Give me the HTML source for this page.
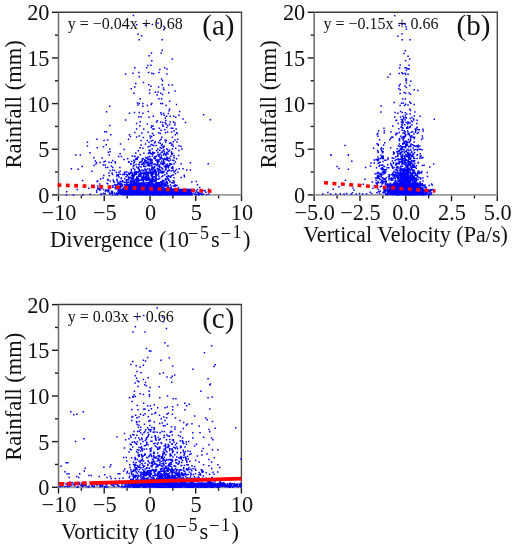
<!DOCTYPE html>
<html><head><meta charset="utf-8"><style>
html,body{margin:0;padding:0;background:#fff;}
svg{display:block;font-family:'Liberation Serif', 'DejaVu Serif', serif;}
</style></head><body>
<svg width="515" height="550" viewBox="0 0 515 550" fill="#111">
<line x1="52.00" y1="194.90" x2="58.50" y2="194.90" stroke="#1a1a1a" stroke-width="1.4"/>
<text x="49.50" y="203.00" font-size="22.3" text-anchor="end">0</text>
<line x1="52.00" y1="149.25" x2="58.50" y2="149.25" stroke="#1a1a1a" stroke-width="1.4"/>
<text x="49.50" y="157.35" font-size="22.3" text-anchor="end">5</text>
<line x1="52.00" y1="103.60" x2="58.50" y2="103.60" stroke="#1a1a1a" stroke-width="1.4"/>
<text x="49.50" y="111.70" font-size="22.3" text-anchor="end">10</text>
<line x1="52.00" y1="57.95" x2="58.50" y2="57.95" stroke="#1a1a1a" stroke-width="1.4"/>
<text x="49.50" y="66.05" font-size="22.3" text-anchor="end">15</text>
<line x1="52.00" y1="12.30" x2="58.50" y2="12.30" stroke="#1a1a1a" stroke-width="1.4"/>
<text x="49.50" y="20.40" font-size="22.3" text-anchor="end">20</text>
<line x1="55.00" y1="172.08" x2="58.50" y2="172.08" stroke="#1a1a1a" stroke-width="1.4"/>
<line x1="55.00" y1="126.43" x2="58.50" y2="126.43" stroke="#1a1a1a" stroke-width="1.4"/>
<line x1="55.00" y1="80.78" x2="58.50" y2="80.78" stroke="#1a1a1a" stroke-width="1.4"/>
<line x1="55.00" y1="35.12" x2="58.50" y2="35.12" stroke="#1a1a1a" stroke-width="1.4"/>
<line x1="58.50" y1="194.90" x2="58.50" y2="201.10" stroke="#1a1a1a" stroke-width="1.4"/>
<text x="59.00" y="219.60" font-size="22.3" text-anchor="middle">−10</text>
<line x1="104.25" y1="194.90" x2="104.25" y2="201.10" stroke="#1a1a1a" stroke-width="1.4"/>
<text x="104.75" y="219.60" font-size="22.3" text-anchor="middle">−5</text>
<line x1="150.00" y1="194.90" x2="150.00" y2="201.10" stroke="#1a1a1a" stroke-width="1.4"/>
<text x="150.50" y="219.60" font-size="22.3" text-anchor="middle">0</text>
<line x1="195.75" y1="194.90" x2="195.75" y2="201.10" stroke="#1a1a1a" stroke-width="1.4"/>
<text x="196.25" y="219.60" font-size="22.3" text-anchor="middle">5</text>
<line x1="241.50" y1="194.90" x2="241.50" y2="201.10" stroke="#1a1a1a" stroke-width="1.4"/>
<text x="242.00" y="219.60" font-size="22.3" text-anchor="middle">10</text>
<line x1="81.38" y1="194.90" x2="81.38" y2="198.40" stroke="#1a1a1a" stroke-width="1.4"/>
<line x1="127.12" y1="194.90" x2="127.12" y2="198.40" stroke="#1a1a1a" stroke-width="1.4"/>
<line x1="172.88" y1="194.90" x2="172.88" y2="198.40" stroke="#1a1a1a" stroke-width="1.4"/>
<line x1="218.62" y1="194.90" x2="218.62" y2="198.40" stroke="#1a1a1a" stroke-width="1.4"/>
<line x1="57.80" y1="194.90" x2="242.20" y2="194.90" stroke="#9a9a9a" stroke-width="1.9"/>
<line x1="57.80" y1="12.30" x2="242.20" y2="12.30" stroke="#3c3c3c" stroke-width="1.5"/>
<line x1="58.50" y1="12.30" x2="58.50" y2="194.90" stroke="#6a6a6a" stroke-width="1.5"/>
<line x1="241.50" y1="12.30" x2="241.50" y2="194.90" stroke="#4a4a4a" stroke-width="1.4"/>
<text transform="translate(20.70,104.40) rotate(-90)" font-size="22.5" text-anchor="middle">Rainfall (mm)</text>
<line x1="307.70" y1="194.90" x2="314.20" y2="194.90" stroke="#1a1a1a" stroke-width="1.4"/>
<text x="305.20" y="203.00" font-size="22.3" text-anchor="end">0</text>
<line x1="307.70" y1="149.25" x2="314.20" y2="149.25" stroke="#1a1a1a" stroke-width="1.4"/>
<text x="305.20" y="157.35" font-size="22.3" text-anchor="end">5</text>
<line x1="307.70" y1="103.60" x2="314.20" y2="103.60" stroke="#1a1a1a" stroke-width="1.4"/>
<text x="305.20" y="111.70" font-size="22.3" text-anchor="end">10</text>
<line x1="307.70" y1="57.95" x2="314.20" y2="57.95" stroke="#1a1a1a" stroke-width="1.4"/>
<text x="305.20" y="66.05" font-size="22.3" text-anchor="end">15</text>
<line x1="307.70" y1="12.30" x2="314.20" y2="12.30" stroke="#1a1a1a" stroke-width="1.4"/>
<text x="305.20" y="20.40" font-size="22.3" text-anchor="end">20</text>
<line x1="310.70" y1="172.08" x2="314.20" y2="172.08" stroke="#1a1a1a" stroke-width="1.4"/>
<line x1="310.70" y1="126.43" x2="314.20" y2="126.43" stroke="#1a1a1a" stroke-width="1.4"/>
<line x1="310.70" y1="80.78" x2="314.20" y2="80.78" stroke="#1a1a1a" stroke-width="1.4"/>
<line x1="310.70" y1="35.12" x2="314.20" y2="35.12" stroke="#1a1a1a" stroke-width="1.4"/>
<line x1="314.20" y1="194.90" x2="314.20" y2="201.10" stroke="#1a1a1a" stroke-width="1.4"/>
<text x="314.70" y="219.60" font-size="22.3" text-anchor="middle">−5.0</text>
<line x1="359.98" y1="194.90" x2="359.98" y2="201.10" stroke="#1a1a1a" stroke-width="1.4"/>
<text x="360.48" y="219.60" font-size="22.3" text-anchor="middle">−2.5</text>
<line x1="405.75" y1="194.90" x2="405.75" y2="201.10" stroke="#1a1a1a" stroke-width="1.4"/>
<text x="406.25" y="219.60" font-size="22.3" text-anchor="middle">0.0</text>
<line x1="451.52" y1="194.90" x2="451.52" y2="201.10" stroke="#1a1a1a" stroke-width="1.4"/>
<text x="452.02" y="219.60" font-size="22.3" text-anchor="middle">2.5</text>
<line x1="497.30" y1="194.90" x2="497.30" y2="201.10" stroke="#1a1a1a" stroke-width="1.4"/>
<text x="497.80" y="219.60" font-size="22.3" text-anchor="middle">5.0</text>
<line x1="337.09" y1="194.90" x2="337.09" y2="198.40" stroke="#1a1a1a" stroke-width="1.4"/>
<line x1="382.86" y1="194.90" x2="382.86" y2="198.40" stroke="#1a1a1a" stroke-width="1.4"/>
<line x1="428.64" y1="194.90" x2="428.64" y2="198.40" stroke="#1a1a1a" stroke-width="1.4"/>
<line x1="474.41" y1="194.90" x2="474.41" y2="198.40" stroke="#1a1a1a" stroke-width="1.4"/>
<line x1="313.50" y1="194.90" x2="498.00" y2="194.90" stroke="#9a9a9a" stroke-width="1.9"/>
<line x1="313.50" y1="12.30" x2="498.00" y2="12.30" stroke="#3c3c3c" stroke-width="1.5"/>
<line x1="314.20" y1="12.30" x2="314.20" y2="194.90" stroke="#6a6a6a" stroke-width="1.5"/>
<line x1="497.30" y1="12.30" x2="497.30" y2="194.90" stroke="#4a4a4a" stroke-width="1.4"/>
<text transform="translate(276.40,104.40) rotate(-90)" font-size="22.5" text-anchor="middle">Rainfall (mm)</text>
<line x1="52.00" y1="487.30" x2="58.50" y2="487.30" stroke="#1a1a1a" stroke-width="1.4"/>
<text x="49.50" y="495.40" font-size="22.3" text-anchor="end">0</text>
<line x1="52.00" y1="441.62" x2="58.50" y2="441.62" stroke="#1a1a1a" stroke-width="1.4"/>
<text x="49.50" y="449.73" font-size="22.3" text-anchor="end">5</text>
<line x1="52.00" y1="395.95" x2="58.50" y2="395.95" stroke="#1a1a1a" stroke-width="1.4"/>
<text x="49.50" y="404.05" font-size="22.3" text-anchor="end">10</text>
<line x1="52.00" y1="350.28" x2="58.50" y2="350.28" stroke="#1a1a1a" stroke-width="1.4"/>
<text x="49.50" y="358.38" font-size="22.3" text-anchor="end">15</text>
<line x1="52.00" y1="304.60" x2="58.50" y2="304.60" stroke="#1a1a1a" stroke-width="1.4"/>
<text x="49.50" y="312.70" font-size="22.3" text-anchor="end">20</text>
<line x1="55.00" y1="464.46" x2="58.50" y2="464.46" stroke="#1a1a1a" stroke-width="1.4"/>
<line x1="55.00" y1="418.79" x2="58.50" y2="418.79" stroke="#1a1a1a" stroke-width="1.4"/>
<line x1="55.00" y1="373.11" x2="58.50" y2="373.11" stroke="#1a1a1a" stroke-width="1.4"/>
<line x1="55.00" y1="327.44" x2="58.50" y2="327.44" stroke="#1a1a1a" stroke-width="1.4"/>
<line x1="58.50" y1="487.30" x2="58.50" y2="493.50" stroke="#1a1a1a" stroke-width="1.4"/>
<text x="59.00" y="512.00" font-size="22.3" text-anchor="middle">−10</text>
<line x1="104.22" y1="487.30" x2="104.22" y2="493.50" stroke="#1a1a1a" stroke-width="1.4"/>
<text x="104.72" y="512.00" font-size="22.3" text-anchor="middle">−5</text>
<line x1="149.95" y1="487.30" x2="149.95" y2="493.50" stroke="#1a1a1a" stroke-width="1.4"/>
<text x="150.45" y="512.00" font-size="22.3" text-anchor="middle">0</text>
<line x1="195.68" y1="487.30" x2="195.68" y2="493.50" stroke="#1a1a1a" stroke-width="1.4"/>
<text x="196.18" y="512.00" font-size="22.3" text-anchor="middle">5</text>
<line x1="241.40" y1="487.30" x2="241.40" y2="493.50" stroke="#1a1a1a" stroke-width="1.4"/>
<text x="241.90" y="512.00" font-size="22.3" text-anchor="middle">10</text>
<line x1="81.36" y1="487.30" x2="81.36" y2="490.80" stroke="#1a1a1a" stroke-width="1.4"/>
<line x1="127.09" y1="487.30" x2="127.09" y2="490.80" stroke="#1a1a1a" stroke-width="1.4"/>
<line x1="172.81" y1="487.30" x2="172.81" y2="490.80" stroke="#1a1a1a" stroke-width="1.4"/>
<line x1="218.54" y1="487.30" x2="218.54" y2="490.80" stroke="#1a1a1a" stroke-width="1.4"/>
<line x1="57.80" y1="487.30" x2="242.10" y2="487.30" stroke="#9a9a9a" stroke-width="1.9"/>
<line x1="57.80" y1="304.60" x2="242.10" y2="304.60" stroke="#3c3c3c" stroke-width="1.5"/>
<line x1="58.50" y1="304.60" x2="58.50" y2="487.30" stroke="#6a6a6a" stroke-width="1.5"/>
<line x1="241.40" y1="304.60" x2="241.40" y2="487.30" stroke="#4a4a4a" stroke-width="1.4"/>
<text transform="translate(20.70,396.75) rotate(-90)" font-size="22.5" text-anchor="middle">Rainfall (mm)</text>
<text x="50.00" y="246.60" font-size="22.5">Divergence (10</text>
<text x="187.80" y="239.80" font-size="19">−</text>
<text x="200.00" y="238.70" font-size="18">5</text>
<text x="210.90" y="246.60" font-size="22.5">s</text>
<text x="220.40" y="239.70" font-size="19">−</text>
<text x="232.60" y="238.30" font-size="18">1</text>
<text x="243.00" y="246.60" font-size="22.5">)</text>
<text x="405.60" y="242.0" font-size="22.1" text-anchor="middle">Vertical Velocity (Pa/s)</text>
<text x="61.00" y="539.30" font-size="22.5">Vorticity (10</text>
<text x="176.30" y="532.50" font-size="19">−</text>
<text x="188.50" y="531.40" font-size="18">5</text>
<text x="199.40" y="539.30" font-size="22.5">s</text>
<text x="208.90" y="532.40" font-size="19">−</text>
<text x="221.10" y="531.00" font-size="18">1</text>
<text x="231.50" y="539.30" font-size="22.5">)</text>
<text x="67.70" y="29.40" font-size="16">y = −0.04x + 0.68</text>
<text x="323.40" y="29.40" font-size="16">y = −0.15x + 0.66</text>
<text x="67.70" y="321.70" font-size="16">y = 0.03x + 0.66</text>
<text x="234.50" y="35.30" font-size="29" text-anchor="end">(a)</text>
<text x="490.30" y="35.30" font-size="29" text-anchor="end">(b)</text>
<text x="234.40" y="327.60" font-size="29" text-anchor="end">(c)</text>
<path d="M158.17 193.51h1.5M184.86 192.41h1.5M182.14 193.71h1.5M148.61 193.01h1.5M152.30 193.04h1.5M148.32 194.42h1.5M168.95 193.35h1.5M156.51 193.67h1.5M172.52 194.45h1.5M125.37 194.83h1.5M189.02 192.17h1.5M155.81 194.65h1.5M171.18 192.47h1.5M155.11 193.90h1.5M150.89 194.68h1.5M166.81 192.26h1.5M174.08 193.09h1.5M153.96 193.79h1.5M154.83 192.60h1.5M171.29 192.96h1.5M142.35 193.76h1.5M131.16 192.93h1.5M165.44 192.88h1.5M145.83 194.43h1.5M124.10 192.94h1.5M143.33 192.39h1.5M149.36 193.02h1.5M136.74 192.71h1.5M131.54 192.19h1.5M158.22 192.72h1.5M175.55 193.61h1.5M153.43 193.36h1.5M144.56 192.80h1.5M165.23 193.17h1.5M171.92 194.71h1.5M152.27 194.74h1.5M168.45 194.15h1.5M178.48 192.66h1.5M153.89 194.29h1.5M143.34 194.03h1.5M164.48 192.65h1.5M162.47 194.55h1.5M179.60 194.13h1.5M135.15 194.20h1.5M145.98 194.77h1.5M142.91 192.87h1.5M127.34 194.02h1.5M160.03 193.78h1.5M168.11 193.99h1.5M144.64 194.72h1.5M185.38 192.59h1.5M174.03 194.53h1.5M170.11 194.12h1.5M165.57 192.93h1.5M176.72 193.95h1.5M134.33 193.51h1.5M169.84 194.00h1.5M169.62 193.37h1.5M126.75 194.03h1.5M164.47 193.65h1.5M153.13 194.88h1.5M173.22 194.86h1.5M149.85 193.51h1.5M157.17 192.66h1.5M164.39 192.16h1.5M142.25 192.70h1.5M169.53 193.46h1.5M155.66 193.14h1.5M167.40 193.06h1.5M148.41 192.90h1.5M179.35 192.18h1.5M169.67 193.96h1.5M154.39 193.68h1.5M170.21 192.77h1.5M182.84 194.31h1.5M130.13 192.44h1.5M175.26 194.86h1.5M166.85 192.45h1.5M155.85 192.39h1.5M139.98 194.45h1.5M182.79 192.83h1.5M135.55 194.11h1.5M168.90 194.16h1.5M183.69 192.21h1.5M129.67 192.47h1.5M152.23 192.81h1.5M134.72 193.71h1.5M162.40 192.20h1.5M187.97 193.34h1.5M126.57 192.92h1.5M147.49 194.77h1.5M171.65 192.71h1.5M189.28 192.60h1.5M165.96 192.49h1.5M144.51 193.20h1.5M163.47 194.80h1.5M157.20 192.52h1.5M153.94 193.74h1.5M144.72 194.36h1.5M165.28 194.33h1.5M163.68 194.35h1.5M155.87 192.67h1.5M153.63 194.70h1.5M135.15 192.38h1.5M149.03 194.85h1.5M181.77 192.92h1.5M154.17 194.27h1.5M132.46 193.49h1.5M184.35 194.41h1.5M168.16 192.44h1.5M158.74 193.62h1.5M149.46 193.23h1.5M132.32 193.66h1.5M184.13 194.31h1.5M143.21 192.34h1.5M146.24 194.56h1.5M169.49 194.85h1.5M143.05 192.41h1.5M152.78 192.47h1.5M151.40 193.02h1.5M161.35 193.61h1.5M179.52 192.29h1.5M157.93 193.77h1.5M175.98 194.86h1.5M150.19 193.71h1.5M164.08 193.45h1.5M120.31 193.40h1.5M132.28 192.47h1.5M173.51 194.71h1.5M147.23 192.56h1.5M169.16 193.47h1.5M168.40 192.89h1.5M184.10 193.77h1.5M173.83 194.09h1.5M177.96 193.98h1.5M155.54 194.15h1.5M145.35 193.66h1.5M144.77 193.26h1.5M149.00 192.62h1.5M137.84 194.42h1.5M147.97 193.67h1.5M155.88 193.44h1.5M162.55 192.66h1.5M151.59 192.95h1.5M124.04 193.19h1.5M156.23 193.05h1.5M162.02 193.67h1.5M179.32 192.69h1.5M169.12 192.61h1.5M146.30 193.35h1.5M144.90 194.58h1.5M172.72 194.17h1.5M143.26 192.66h1.5M165.24 193.95h1.5M166.71 193.72h1.5M168.75 193.85h1.5M168.39 194.39h1.5M161.55 193.34h1.5M160.99 193.76h1.5M131.36 192.33h1.5M154.61 193.21h1.5M144.49 192.22h1.5M160.02 192.55h1.5M149.36 193.56h1.5M169.94 194.86h1.5M173.97 194.32h1.5M163.70 194.57h1.5M163.85 192.88h1.5M159.36 194.52h1.5M149.70 193.13h1.5M154.63 194.02h1.5M148.87 193.58h1.5M165.30 192.83h1.5M157.77 194.08h1.5M169.19 194.43h1.5M134.39 194.11h1.5M175.36 192.32h1.5M144.23 193.39h1.5M144.72 194.11h1.5M154.05 194.50h1.5M147.69 194.71h1.5M163.35 193.99h1.5M147.50 193.22h1.5M138.89 193.65h1.5M142.78 192.68h1.5M183.90 192.18h1.5M158.38 193.34h1.5M137.19 193.96h1.5M157.65 192.72h1.5M130.43 194.66h1.5M130.98 192.49h1.5M167.12 192.77h1.5M168.43 194.63h1.5M132.28 193.31h1.5M163.53 192.70h1.5M177.56 193.77h1.5M166.90 192.59h1.5M162.74 194.45h1.5M176.59 193.45h1.5M160.72 193.37h1.5M164.26 192.74h1.5M155.28 193.77h1.5M170.20 194.19h1.5M141.12 192.95h1.5M173.42 194.59h1.5M148.70 193.89h1.5M138.52 193.62h1.5M164.84 192.74h1.5M176.84 193.36h1.5M148.52 193.04h1.5M171.54 193.05h1.5M149.59 192.26h1.5M155.33 193.63h1.5M159.29 193.33h1.5M117.20 194.85h1.5M161.34 194.37h1.5M139.59 194.22h1.5M145.36 194.32h1.5M131.85 193.48h1.5M131.12 194.35h1.5M141.09 193.34h1.5M174.10 192.64h1.5M191.02 194.70h1.5M157.05 194.23h1.5M179.46 193.54h1.5M152.90 194.77h1.5M124.25 194.51h1.5M160.50 193.33h1.5M166.46 193.81h1.5M150.03 192.42h1.5M163.57 193.34h1.5M169.01 192.83h1.5M142.47 193.95h1.5M131.81 193.87h1.5M153.64 192.56h1.5M153.82 193.21h1.5M151.35 192.40h1.5M177.36 194.21h1.5M150.24 193.05h1.5M171.55 194.56h1.5M176.43 194.69h1.5M171.84 193.83h1.5M178.57 193.02h1.5M150.72 193.91h1.5M172.38 192.84h1.5M173.66 194.12h1.5M146.71 193.44h1.5M169.72 193.24h1.5M182.90 194.49h1.5M164.91 193.28h1.5M147.69 194.44h1.5M188.55 192.25h1.5M135.76 193.44h1.5M167.62 194.34h1.5M157.20 194.78h1.5M136.73 194.31h1.5M182.03 194.03h1.5M164.49 193.33h1.5M137.20 193.08h1.5M169.60 192.95h1.5M149.98 193.69h1.5M124.41 193.17h1.5M145.51 193.38h1.5M162.79 194.09h1.5M170.28 194.30h1.5M160.82 193.81h1.5M158.39 193.01h1.5M166.95 194.53h1.5M153.82 193.16h1.5M181.18 194.84h1.5M160.48 194.40h1.5M163.40 193.07h1.5M168.37 192.69h1.5M139.11 192.80h1.5M145.16 193.03h1.5M188.26 194.20h1.5M164.23 192.19h1.5M152.57 193.25h1.5M164.36 192.41h1.5M149.11 192.34h1.5M163.09 194.25h1.5M145.91 192.24h1.5M163.04 194.68h1.5M130.06 193.15h1.5M184.28 194.20h1.5M148.57 194.64h1.5M130.00 193.34h1.5M153.59 194.32h1.5M151.04 192.75h1.5M160.55 193.64h1.5M137.57 194.16h1.5M165.49 194.87h1.5M135.26 193.16h1.5M164.28 192.69h1.5M152.08 193.85h1.5M161.36 192.39h1.5M125.99 194.84h1.5M137.47 192.38h1.5M166.74 192.81h1.5M156.82 194.62h1.5M190.40 192.20h1.5M145.23 194.65h1.5M161.00 192.84h1.5M144.18 193.01h1.5M141.77 192.61h1.5M156.87 194.58h1.5M156.71 194.01h1.5M174.48 192.45h1.5M160.09 193.59h1.5M144.33 194.48h1.5M161.74 194.66h1.5M183.09 194.61h1.5M109.12 193.92h1.5M155.02 192.77h1.5M142.27 193.66h1.5M170.01 194.63h1.5M154.47 193.93h1.5M176.23 193.67h1.5M175.41 193.14h1.5M161.24 193.04h1.5M156.78 192.85h1.5M164.33 193.43h1.5M183.56 194.82h1.5M168.24 192.79h1.5M151.38 192.76h1.5M183.15 192.90h1.5M161.35 193.70h1.5M156.14 192.47h1.5M143.73 194.64h1.5M147.65 192.87h1.5M146.43 193.27h1.5M108.94 192.98h1.5M177.95 194.72h1.5M168.89 192.25h1.5M153.76 194.82h1.5M178.54 194.42h1.5M166.30 193.48h1.5M164.96 193.33h1.5M114.46 194.41h1.5M153.43 194.11h1.5M168.20 192.39h1.5M189.89 194.02h1.5M186.19 194.59h1.5M137.29 193.34h1.5M119.28 192.98h1.5M168.97 192.87h1.5M158.04 194.26h1.5M176.86 193.89h1.5M155.30 193.11h1.5M161.91 192.24h1.5M131.41 192.79h1.5M166.50 194.30h1.5M149.75 194.72h1.5M164.53 194.00h1.5M166.73 193.45h1.5M155.45 194.15h1.5M163.86 192.74h1.5M157.25 194.20h1.5M172.77 194.56h1.5M167.59 193.25h1.5M147.97 192.82h1.5M147.26 194.34h1.5M155.72 194.19h1.5M177.45 194.82h1.5M165.40 193.03h1.5M147.68 194.76h1.5M144.46 193.22h1.5M159.90 193.18h1.5M162.65 193.45h1.5M169.85 194.78h1.5M135.46 194.80h1.5M147.15 193.49h1.5M155.84 193.56h1.5M189.71 194.86h1.5M116.45 194.87h1.5M166.32 192.78h1.5M148.10 194.01h1.5M166.17 192.94h1.5M148.93 194.36h1.5M164.82 194.17h1.5M188.98 192.44h1.5M164.61 194.36h1.5M166.21 193.78h1.5M164.99 193.53h1.5M144.44 192.95h1.5M168.42 194.02h1.5M153.86 193.12h1.5M143.37 194.29h1.5M156.81 193.03h1.5M153.53 194.84h1.5M172.65 194.39h1.5M156.74 194.73h1.5M148.28 194.62h1.5M186.79 192.85h1.5M177.38 193.63h1.5M183.04 192.75h1.5M169.72 192.23h1.5M155.58 194.39h1.5M150.20 192.79h1.5M152.63 192.24h1.5M176.56 194.05h1.5M159.74 194.69h1.5M131.71 193.64h1.5M156.81 193.41h1.5M132.87 193.02h1.5M160.82 193.34h1.5M136.56 194.07h1.5M135.51 194.46h1.5M159.87 193.97h1.5M156.13 193.62h1.5M128.60 194.39h1.5M172.55 194.08h1.5M131.73 193.74h1.5M145.53 193.08h1.5M148.90 193.93h1.5M154.38 193.49h1.5M132.36 193.82h1.5M183.64 194.59h1.5M167.40 192.88h1.5M144.42 193.34h1.5M152.67 192.19h1.5M131.12 194.89h1.5M151.44 193.32h1.5M176.33 193.73h1.5M127.66 193.71h1.5M149.90 192.92h1.5M160.44 194.24h1.5M178.59 193.80h1.5M184.65 194.53h1.5M149.54 193.35h1.5M144.61 193.70h1.5M166.55 194.78h1.5M151.17 194.27h1.5M152.10 193.82h1.5M179.23 193.44h1.5M162.84 193.20h1.5M154.14 192.66h1.5M168.98 193.99h1.5M124.67 194.72h1.5M157.17 194.50h1.5M139.05 192.81h1.5M171.98 194.53h1.5M160.33 194.44h1.5M154.11 192.62h1.5M113.76 193.04h1.5M171.83 192.99h1.5M190.28 194.52h1.5M144.81 192.19h1.5M171.24 194.20h1.5M172.03 193.93h1.5M130.57 194.26h1.5M176.32 192.32h1.5M184.76 193.17h1.5M162.08 193.38h1.5M156.39 193.77h1.5M173.35 192.94h1.5M130.70 193.62h1.5M159.36 193.64h1.5M178.71 194.48h1.5M135.89 192.64h1.5M177.47 194.72h1.5M150.21 192.41h1.5M121.31 192.39h1.5M155.65 193.47h1.5M140.59 194.45h1.5M163.91 194.30h1.5M137.11 194.52h1.5M178.63 192.98h1.5M144.64 193.91h1.5M164.66 192.21h1.5M147.16 193.97h1.5M151.87 194.00h1.5M181.48 193.05h1.5M161.82 192.49h1.5M150.62 193.46h1.5M135.73 194.57h1.5M180.83 194.43h1.5M172.24 192.94h1.5M151.81 192.80h1.5M162.38 192.19h1.5M139.59 193.33h1.5M139.84 192.76h1.5M143.12 193.05h1.5M164.60 193.39h1.5M163.44 192.69h1.5M144.53 194.34h1.5M172.34 194.48h1.5M173.28 194.05h1.5M160.97 193.85h1.5M178.39 192.30h1.5M152.49 192.64h1.5M155.52 192.86h1.5M167.00 192.46h1.5M156.89 193.85h1.5M173.47 192.20h1.5M135.71 192.41h1.5M186.19 194.39h1.5M143.90 193.87h1.5M154.62 194.06h1.5M133.54 194.37h1.5M169.57 192.33h1.5M183.13 193.83h1.5M179.05 192.52h1.5M174.26 193.27h1.5M130.41 194.74h1.5M143.89 193.71h1.5M149.44 192.76h1.5M141.23 194.03h1.5M180.08 194.10h1.5M161.20 194.64h1.5M157.06 193.60h1.5M167.30 192.32h1.5M140.94 194.85h1.5M141.69 192.47h1.5M142.16 193.26h1.5M167.50 194.13h1.5M164.36 192.44h1.5M169.12 192.36h1.5M179.19 192.23h1.5M133.89 193.63h1.5M147.74 193.76h1.5M160.45 193.08h1.5M134.04 192.47h1.5M148.23 193.94h1.5M177.90 193.99h1.5M179.68 193.78h1.5M179.16 194.84h1.5M158.35 192.60h1.5M153.80 193.65h1.5M179.22 193.62h1.5M151.01 193.17h1.5M164.29 192.68h1.5M184.16 192.97h1.5M151.09 193.99h1.5M146.87 194.09h1.5M157.32 193.99h1.5M169.53 193.44h1.5M167.20 192.68h1.5M160.62 194.88h1.5M168.69 193.24h1.5M129.68 192.59h1.5M142.55 193.36h1.5M160.77 193.86h1.5M141.34 193.60h1.5M134.16 193.49h1.5M136.49 193.18h1.5M141.52 194.69h1.5M154.38 192.73h1.5M139.71 193.39h1.5M162.21 194.14h1.5M154.92 193.81h1.5M183.14 192.78h1.5M163.29 194.09h1.5M138.02 193.40h1.5M153.03 194.38h1.5M140.42 194.15h1.5M172.94 194.00h1.5M137.44 194.51h1.5M184.11 192.82h1.5M169.12 193.67h1.5M122.33 193.95h1.5M173.27 193.30h1.5M188.75 194.27h1.5M143.74 193.70h1.5M177.32 193.35h1.5M126.22 193.21h1.5M162.56 193.74h1.5M128.60 192.86h1.5M167.20 192.53h1.5M126.40 192.26h1.5M111.71 193.37h1.5M165.46 192.26h1.5M147.13 193.11h1.5M174.20 194.53h1.5M159.71 193.14h1.5M151.86 193.45h1.5M169.87 192.98h1.5M190.55 194.16h1.5M136.01 192.18h1.5M168.84 193.95h1.5M164.43 192.16h1.5M132.72 194.14h1.5M189.99 193.59h1.5M140.92 194.19h1.5M158.62 193.09h1.5M154.65 192.84h1.5M187.75 192.39h1.5M162.06 193.39h1.5M163.99 192.26h1.5M188.04 194.13h1.5M183.42 193.23h1.5M175.46 192.83h1.5M133.14 194.67h1.5M130.15 192.74h1.5M180.15 192.66h1.5M141.37 193.36h1.5M160.47 192.37h1.5M138.81 192.98h1.5M154.29 193.89h1.5M135.25 192.69h1.5M190.30 193.48h1.5M139.77 193.03h1.5M155.36 192.19h1.5M154.21 192.99h1.5M181.76 192.77h1.5M132.80 192.66h1.5M156.91 194.35h1.5M153.85 194.80h1.5M168.15 194.69h1.5M166.99 193.63h1.5M149.42 192.25h1.5M162.31 193.68h1.5M150.97 192.37h1.5M166.91 194.10h1.5M155.70 194.51h1.5M146.09 193.79h1.5M157.01 192.59h1.5M164.81 192.25h1.5M148.94 193.86h1.5M163.66 192.74h1.5M186.94 193.74h1.5M121.36 194.07h1.5M127.18 192.83h1.5M136.82 194.67h1.5M155.50 192.77h1.5M165.36 194.62h1.5M181.80 192.76h1.5M153.62 194.84h1.5M114.65 194.56h1.5M117.26 194.10h1.5M177.99 192.16h1.5M161.21 194.75h1.5M134.91 193.65h1.5M179.98 193.69h1.5M130.73 194.42h1.5M180.32 192.22h1.5M186.70 194.25h1.5M144.19 192.43h1.5M138.22 193.41h1.5M174.48 192.95h1.5M138.44 192.86h1.5M174.83 193.05h1.5M136.71 192.68h1.5M173.74 192.49h1.5M159.37 194.51h1.5M149.96 194.66h1.5M141.91 193.66h1.5M162.27 194.61h1.5M124.58 193.28h1.5M152.69 192.32h1.5M150.60 193.49h1.5M171.14 194.44h1.5M135.69 194.58h1.5M152.07 192.86h1.5M137.70 192.69h1.5M185.39 192.83h1.5M190.96 193.63h1.5M154.22 192.50h1.5M141.99 193.42h1.5M157.81 193.03h1.5M145.48 194.89h1.5M152.06 193.56h1.5M188.86 194.66h1.5M165.37 194.32h1.5M160.41 194.07h1.5M164.45 193.33h1.5M156.48 194.69h1.5M174.43 192.95h1.5M175.19 193.82h1.5M151.06 194.30h1.5M159.60 192.28h1.5M165.97 193.98h1.5M154.25 194.56h1.5M157.67 192.79h1.5M138.41 193.50h1.5M171.06 194.05h1.5M141.84 194.59h1.5M148.84 194.29h1.5M164.05 192.74h1.5M155.28 194.46h1.5M144.21 192.21h1.5M147.91 192.90h1.5M147.17 193.80h1.5M180.96 194.38h1.5M144.95 193.62h1.5M147.54 192.29h1.5M147.86 194.23h1.5M187.47 194.69h1.5M183.97 192.92h1.5M154.83 192.30h1.5M132.81 193.38h1.5M166.60 194.08h1.5M171.03 192.26h1.5M176.97 193.29h1.5M158.93 192.27h1.5M181.73 193.88h1.5M185.47 194.50h1.5M139.15 194.71h1.5M186.26 194.17h1.5M161.00 193.71h1.5M147.65 192.81h1.5M151.95 193.62h1.5M177.29 192.43h1.5M126.38 193.32h1.5M159.16 193.25h1.5M155.05 192.65h1.5M154.43 193.06h1.5M148.56 194.24h1.5M132.17 192.29h1.5M174.83 194.46h1.5M141.15 194.46h1.5M151.05 193.12h1.5M147.01 193.30h1.5M144.83 194.27h1.5M172.45 192.98h1.5M165.21 194.63h1.5M145.76 193.60h1.5M141.06 192.31h1.5M149.32 192.45h1.5M176.95 193.25h1.5M160.02 192.73h1.5M162.18 193.08h1.5M151.78 194.26h1.5M153.00 192.55h1.5M161.84 193.23h1.5M125.44 193.27h1.5M189.94 192.29h1.5M143.79 193.37h1.5M147.60 194.01h1.5M184.43 193.74h1.5M161.96 193.38h1.5M158.33 192.51h1.5M147.34 192.59h1.5M130.34 193.81h1.5M161.21 193.56h1.5M181.55 194.76h1.5M141.84 193.15h1.5M184.92 192.70h1.5M137.89 194.36h1.5M144.72 193.16h1.5M167.67 194.52h1.5M157.49 192.60h1.5M171.39 192.90h1.5M144.59 192.34h1.5M139.55 194.12h1.5M125.03 194.43h1.5M136.56 193.34h1.5M138.78 194.74h1.5M132.68 192.65h1.5M163.69 194.34h1.5M145.94 194.53h1.5M122.92 194.49h1.5M142.97 194.76h1.5M135.66 193.75h1.5M182.44 194.40h1.5M180.95 192.76h1.5M137.47 194.75h1.5M131.86 194.36h1.5M140.10 192.79h1.5M180.22 193.49h1.5M152.07 194.58h1.5M143.43 192.19h1.5M156.99 193.88h1.5M181.73 193.75h1.5M133.33 192.87h1.5M150.81 193.55h1.5M133.43 192.63h1.5M176.63 193.43h1.5M155.17 192.60h1.5M170.75 194.13h1.5M120.94 193.16h1.5M163.05 193.31h1.5M134.26 193.00h1.5M134.45 193.91h1.5M145.23 194.28h1.5M151.40 193.08h1.5M169.04 192.58h1.5M171.59 193.61h1.5M162.77 194.53h1.5M141.07 192.70h1.5M171.09 193.45h1.5M155.38 193.03h1.5M181.24 194.62h1.5M141.54 192.75h1.5M109.45 193.88h1.5M149.20 192.46h1.5M166.93 194.88h1.5M154.11 194.03h1.5M175.27 192.92h1.5M167.61 192.93h1.5M166.77 192.58h1.5M148.56 194.32h1.5M159.02 193.27h1.5M161.53 194.70h1.5M146.31 194.28h1.5M138.04 194.77h1.5M160.28 193.18h1.5M176.98 192.45h1.5M170.52 193.25h1.5M167.43 193.25h1.5M167.64 192.42h1.5M162.72 193.37h1.5M178.46 192.68h1.5M158.55 192.97h1.5M162.81 194.69h1.5M178.50 193.89h1.5M163.79 193.72h1.5M164.79 194.34h1.5M159.31 194.73h1.5M136.53 193.68h1.5M179.98 193.83h1.5M153.10 192.89h1.5M127.60 194.86h1.5M154.98 193.16h1.5M127.46 194.78h1.5M140.02 193.57h1.5M157.91 194.84h1.5M141.54 192.40h1.5M179.13 193.56h1.5M132.03 193.59h1.5M162.90 194.71h1.5M168.84 192.75h1.5M187.03 194.17h1.5M176.21 193.61h1.5M162.34 192.92h1.5M159.27 192.73h1.5M156.62 193.84h1.5M180.58 194.73h1.5M146.22 192.20h1.5M168.16 194.20h1.5M156.02 194.78h1.5M162.53 193.20h1.5M153.10 192.51h1.5M146.24 194.77h1.5M162.80 193.05h1.5M163.26 193.33h1.5M169.95 194.19h1.5M166.78 194.17h1.5M166.26 192.80h1.5M177.48 194.84h1.5M131.52 194.24h1.5M157.92 193.91h1.5M136.25 192.78h1.5M162.41 194.04h1.5M137.13 194.75h1.5M141.01 192.86h1.5M156.65 193.02h1.5M185.85 194.55h1.5M169.36 192.91h1.5M163.71 193.19h1.5M185.99 193.89h1.5M141.28 193.32h1.5M121.34 193.52h1.5M150.34 192.73h1.5M152.88 192.29h1.5M182.61 193.97h1.5M134.60 193.90h1.5M189.25 194.20h1.5M174.64 194.48h1.5M165.17 194.32h1.5M159.38 192.94h1.5M149.49 194.56h1.5M160.56 194.08h1.5M133.92 194.16h1.5M167.27 194.59h1.5M155.82 192.60h1.5M164.42 194.11h1.5M165.02 193.35h1.5M139.32 193.85h1.5M184.26 194.71h1.5M140.09 194.80h1.5M175.65 193.00h1.5M130.03 193.18h1.5M165.25 193.55h1.5M143.48 194.41h1.5M158.64 193.97h1.5M146.42 193.51h1.5M119.79 194.31h1.5M138.37 193.32h1.5M159.17 192.60h1.5M170.35 194.41h1.5M132.21 192.35h1.5M120.81 193.51h1.5M142.59 192.22h1.5M154.08 192.25h1.5M146.74 194.73h1.5M143.68 193.03h1.5M174.92 194.23h1.5M177.24 193.20h1.5M172.73 192.46h1.5M141.45 193.65h1.5M159.33 193.11h1.5M154.39 193.07h1.5M132.94 194.39h1.5M175.56 193.73h1.5M159.57 194.10h1.5M149.32 193.58h1.5M186.33 192.81h1.5M173.17 194.50h1.5M175.03 193.39h1.5M181.95 193.52h1.5M172.24 193.85h1.5M135.75 192.59h1.5M150.99 193.94h1.5M177.98 192.71h1.5M144.38 194.71h1.5M158.53 193.70h1.5M165.79 194.60h1.5M186.80 192.58h1.5M183.92 193.08h1.5M175.86 194.32h1.5M154.49 193.88h1.5M176.19 194.55h1.5M168.40 192.48h1.5M154.91 192.45h1.5M185.09 192.46h1.5M167.71 193.24h1.5M144.57 194.18h1.5M183.24 193.65h1.5M153.28 193.08h1.5M169.69 193.73h1.5M131.20 194.74h1.5M157.36 193.46h1.5M141.24 194.66h1.5M140.78 194.26h1.5M124.47 192.66h1.5M155.07 192.72h1.5M162.49 193.04h1.5M180.00 193.10h1.5M155.55 194.22h1.5M168.03 192.96h1.5M134.03 194.55h1.5M161.64 194.85h1.5M150.46 193.97h1.5M167.75 194.47h1.5M161.32 193.00h1.5M133.56 194.12h1.5M125.45 194.81h1.5M139.99 192.78h1.5M172.50 192.34h1.5M166.21 192.95h1.5M165.77 192.28h1.5M122.52 192.76h1.5M110.87 192.35h1.5M146.77 193.06h1.5M151.82 192.75h1.5M147.11 192.72h1.5M164.75 194.58h1.5M154.62 194.02h1.5M136.97 193.21h1.5M142.28 194.02h1.5M160.47 192.51h1.5M159.04 194.75h1.5M156.27 194.55h1.5M152.99 193.96h1.5M159.98 192.62h1.5M140.23 194.86h1.5M151.30 192.63h1.5M168.09 192.24h1.5M168.95 194.76h1.5M154.78 192.29h1.5M165.47 193.09h1.5M158.62 194.54h1.5M124.80 192.62h1.5M100.56 194.57h1.5M174.21 194.25h1.5M156.50 193.85h1.5M127.27 194.50h1.5M135.31 193.86h1.5M184.78 193.34h1.5M109.01 193.63h1.5M151.85 193.47h1.5M174.97 192.45h1.5M160.37 192.57h1.5M172.68 194.59h1.5M155.20 192.89h1.5M139.61 192.41h1.5M133.80 193.82h1.5M163.01 192.37h1.5M186.26 193.37h1.5M156.51 193.62h1.5M178.60 193.51h1.5M148.26 193.77h1.5M136.88 193.01h1.5M185.67 193.44h1.5M189.06 192.49h1.5M188.35 193.62h1.5M149.87 194.76h1.5M137.40 194.47h1.5M137.16 193.77h1.5M153.58 193.61h1.5M169.21 192.67h1.5M167.73 193.28h1.5M132.55 194.44h1.5M161.41 194.07h1.5M157.84 193.43h1.5M159.30 192.73h1.5M157.07 192.96h1.5M153.97 193.15h1.5M169.43 194.20h1.5M160.04 193.34h1.5M162.02 194.23h1.5M145.48 194.72h1.5M165.45 192.82h1.5M155.38 193.12h1.5M120.71 192.19h1.5M167.22 192.85h1.5M152.89 194.21h1.5M176.13 194.82h1.5M154.67 193.72h1.5M155.82 193.97h1.5M161.75 193.49h1.5M157.28 193.87h1.5M149.72 194.77h1.5M126.31 194.71h1.5M130.04 193.29h1.5M151.55 194.42h1.5M170.63 194.41h1.5M165.13 194.26h1.5M168.90 192.87h1.5M172.97 192.81h1.5M182.92 193.57h1.5M163.47 194.75h1.5M139.87 192.52h1.5M162.06 194.07h1.5M151.21 194.88h1.5M148.01 193.55h1.5M163.27 194.44h1.5M186.84 193.86h1.5M145.14 193.80h1.5M145.13 194.05h1.5M172.07 192.40h1.5M168.44 193.83h1.5M178.18 193.33h1.5M162.11 192.47h1.5M151.76 194.27h1.5M161.82 193.51h1.5M154.44 193.87h1.5M133.75 193.05h1.5M157.65 194.04h1.5M154.44 194.20h1.5M153.44 192.27h1.5M150.02 192.64h1.5M171.50 193.10h1.5M176.34 192.34h1.5M146.92 194.74h1.5M139.71 193.69h1.5M152.57 193.19h1.5M162.40 194.55h1.5M151.48 192.17h1.5M154.21 193.02h1.5M176.84 192.82h1.5M163.51 192.25h1.5M140.38 193.32h1.5M150.04 192.40h1.5M146.05 193.88h1.5M161.13 192.38h1.5M137.19 193.51h1.5M154.38 192.78h1.5M171.43 194.16h1.5M158.06 193.60h1.5M141.60 193.38h1.5M146.77 193.49h1.5M159.99 192.37h1.5M167.21 193.65h1.5M174.34 192.50h1.5M154.96 194.60h1.5M134.58 194.32h1.5M186.17 194.42h1.5M163.48 194.40h1.5M165.66 193.30h1.5M163.64 194.62h1.5M139.45 193.06h1.5M151.93 192.51h1.5M162.66 192.37h1.5M178.27 194.75h1.5M158.70 194.23h1.5M103.24 193.69h1.5M153.29 194.86h1.5M164.58 193.05h1.5M183.53 193.65h1.5M171.80 193.73h1.5M186.16 194.71h1.5M184.61 192.48h1.5M176.46 193.26h1.5M133.45 193.95h1.5M174.54 192.49h1.5M169.55 194.58h1.5M148.34 193.81h1.5M169.29 194.70h1.5M165.90 192.73h1.5M149.40 192.48h1.5M155.34 194.12h1.5M152.91 192.66h1.5M162.12 192.29h1.5M150.10 194.27h1.5M168.45 192.25h1.5M124.15 193.98h1.5M152.58 192.96h1.5M128.20 193.43h1.5M149.09 193.94h1.5M167.89 193.25h1.5M157.92 194.90h1.5M155.56 193.53h1.5M158.87 193.53h1.5M189.08 193.16h1.5M138.25 192.80h1.5M175.36 192.49h1.5M131.19 192.70h1.5M149.36 192.51h1.5M160.78 193.87h1.5M142.68 194.61h1.5M161.61 193.12h1.5M172.15 194.78h1.5M136.73 192.29h1.5M156.14 193.58h1.5M150.94 194.20h1.5M123.75 194.81h1.5M154.23 192.59h1.5M143.62 192.62h1.5M184.44 194.53h1.5M142.26 192.79h1.5M148.21 192.99h1.5M168.34 193.14h1.5M166.62 194.52h1.5M173.70 192.73h1.5M175.65 192.74h1.5M185.73 192.60h1.5M151.46 194.19h1.5M135.75 193.39h1.5M111.04 192.99h1.5M150.75 192.82h1.5M172.79 193.67h1.5M165.10 193.23h1.5M159.80 193.13h1.5M151.40 193.28h1.5M146.36 192.93h1.5M152.55 194.05h1.5M165.32 194.26h1.5M126.81 194.11h1.5M172.16 192.73h1.5M132.13 192.25h1.5M154.73 194.03h1.5M146.45 193.11h1.5M151.06 193.31h1.5M139.27 192.49h1.5M137.39 194.86h1.5M153.43 193.20h1.5M138.57 192.52h1.5M150.17 193.76h1.5M145.98 193.58h1.5M147.83 192.60h1.5M138.75 192.34h1.5M114.67 194.25h1.5M152.92 192.47h1.5M163.60 194.57h1.5M131.22 194.76h1.5M157.46 194.81h1.5M136.33 194.69h1.5M156.74 194.64h1.5M164.57 194.26h1.5M167.11 194.11h1.5M166.09 192.24h1.5M145.11 192.70h1.5M175.04 194.62h1.5M149.56 194.37h1.5M164.37 193.00h1.5M171.50 193.26h1.5M152.05 193.68h1.5M135.01 193.73h1.5M169.67 192.86h1.5M137.91 193.55h1.5M141.84 192.93h1.5M138.17 194.87h1.5M174.27 194.63h1.5M154.49 194.39h1.5M118.24 193.28h1.5M172.10 193.31h1.5M147.45 192.69h1.5M158.85 193.99h1.5M167.54 194.74h1.5M175.28 192.48h1.5M157.99 192.35h1.5M138.29 194.83h1.5M172.48 194.89h1.5M169.67 194.41h1.5M134.17 193.91h1.5M150.92 192.97h1.5M162.69 193.65h1.5M157.25 193.09h1.5M167.82 192.67h1.5M173.28 194.42h1.5M168.17 194.05h1.5M155.29 192.24h1.5M133.83 193.42h1.5M169.65 193.55h1.5M185.46 193.39h1.5M156.70 192.92h1.5M156.65 192.52h1.5M186.36 193.19h1.5M186.20 193.17h1.5M164.09 193.32h1.5M171.58 194.25h1.5M144.02 192.81h1.5M168.98 194.36h1.5M142.89 194.19h1.5M154.73 193.97h1.5M155.11 193.46h1.5M149.10 192.66h1.5M120.53 193.92h1.5M142.88 193.25h1.5M163.91 193.71h1.5M156.18 193.68h1.5M150.40 192.25h1.5M165.83 193.13h1.5M171.06 194.85h1.5M174.26 192.53h1.5M143.20 193.53h1.5M157.61 192.26h1.5M151.40 194.56h1.5M141.94 192.27h1.5M131.19 193.11h1.5M155.49 193.20h1.5M142.02 193.54h1.5M155.48 192.61h1.5M153.29 193.47h1.5M150.28 193.87h1.5M140.82 193.59h1.5M154.40 194.41h1.5M143.81 194.26h1.5M155.03 193.09h1.5M156.57 192.79h1.5M179.27 192.42h1.5M132.57 194.47h1.5M156.83 194.05h1.5M189.69 194.39h1.5M148.33 193.19h1.5M154.11 194.07h1.5M141.77 194.02h1.5M111.67 194.72h1.5M155.37 192.78h1.5M180.81 192.35h1.5M149.06 194.53h1.5M125.09 193.56h1.5M162.51 192.75h1.5M158.74 192.52h1.5M177.28 193.94h1.5M175.47 194.74h1.5M152.49 192.80h1.5M165.19 192.96h1.5M125.91 193.82h1.5M179.56 192.21h1.5M160.89 192.94h1.5M178.99 193.34h1.5M178.54 193.28h1.5M152.19 194.68h1.5M154.59 192.27h1.5M141.98 192.19h1.5M121.27 194.45h1.5M154.90 192.79h1.5M160.24 193.31h1.5M138.31 193.82h1.5M171.47 193.28h1.5M159.12 194.57h1.5M166.27 193.94h1.5M143.81 193.99h1.5M126.51 193.03h1.5M172.80 193.45h1.5M169.44 194.83h1.5M155.28 194.11h1.5M149.87 193.85h1.5M152.37 193.91h1.5M154.81 192.75h1.5M148.34 192.63h1.5M122.23 192.29h1.5M172.93 192.32h1.5M131.20 193.56h1.5M151.40 193.37h1.5M151.86 193.25h1.5M162.40 193.51h1.5M129.15 194.80h1.5M181.46 194.60h1.5M170.37 192.72h1.5M172.68 192.84h1.5M182.70 194.05h1.5M143.36 194.36h1.5M102.75 193.34h1.5M163.93 192.58h1.5M183.67 194.75h1.5M180.67 193.11h1.5M148.00 194.28h1.5M155.73 194.20h1.5M163.07 193.69h1.5M125.92 194.45h1.5M145.76 192.86h1.5M146.30 194.64h1.5M189.23 193.54h1.5M146.06 193.07h1.5M189.00 192.63h1.5M157.67 193.38h1.5M128.27 194.54h1.5M140.54 192.33h1.5M169.90 194.82h1.5M148.18 193.20h1.5M136.09 193.26h1.5M178.44 193.84h1.5M158.80 194.45h1.5M136.15 193.26h1.5M138.69 192.48h1.5M150.71 194.83h1.5M176.89 193.38h1.5M152.49 193.15h1.5M170.66 192.38h1.5M190.75 194.86h1.5M183.04 193.89h1.5M186.42 194.55h1.5M182.28 194.05h1.5M129.52 192.41h1.5M182.10 194.41h1.5M164.10 193.92h1.5M155.32 192.65h1.5M138.63 192.85h1.5M129.86 192.39h1.5M138.17 194.56h1.5M157.11 194.70h1.5M137.06 194.29h1.5M143.29 193.55h1.5M146.76 193.04h1.5M170.90 194.58h1.5M152.35 193.18h1.5M154.95 194.29h1.5M184.18 192.26h1.5M151.90 193.38h1.5M169.55 194.52h1.5M139.10 192.62h1.5M164.11 193.55h1.5M159.89 192.79h1.5M161.01 193.41h1.5M149.38 192.48h1.5M139.57 194.13h1.5M152.28 192.24h1.5M149.35 194.85h1.5M178.29 193.87h1.5M175.76 194.47h1.5M136.59 192.20h1.5M170.11 194.85h1.5M149.14 194.11h1.5M166.72 193.84h1.5M149.11 194.69h1.5M131.90 192.39h1.5M177.94 192.79h1.5M166.59 193.43h1.5M136.18 193.79h1.5M124.60 194.37h1.5M148.20 194.45h1.5M136.94 193.79h1.5M151.16 193.22h1.5M169.97 192.56h1.5M187.06 194.23h1.5M151.28 192.54h1.5M185.21 193.09h1.5M180.92 194.46h1.5M149.93 194.81h1.5M128.50 194.83h1.5M174.67 192.26h1.5M169.77 194.23h1.5M186.31 193.09h1.5M173.27 194.15h1.5M139.31 193.08h1.5M161.45 192.47h1.5M152.80 193.12h1.5M168.96 193.64h1.5M104.38 193.74h1.5M185.19 192.76h1.5M141.83 194.40h1.5M173.28 194.72h1.5M149.31 192.40h1.5M162.60 193.85h1.5M170.49 193.37h1.5M161.62 193.82h1.5M141.11 192.86h1.5M185.91 192.77h1.5M165.75 194.40h1.5M157.44 192.78h1.5M171.99 194.03h1.5M148.44 193.34h1.5M162.34 192.58h1.5M165.18 193.76h1.5M164.81 192.64h1.5M141.92 192.32h1.5M137.37 193.33h1.5M162.22 192.67h1.5M164.95 192.47h1.5M184.95 194.27h1.5M166.95 193.66h1.5M138.88 192.43h1.5M168.46 192.82h1.5M174.53 192.58h1.5M178.07 193.25h1.5M164.59 193.86h1.5M136.58 192.74h1.5M181.25 193.95h1.5M145.10 193.31h1.5M169.42 194.32h1.5M130.47 193.80h1.5M173.27 193.67h1.5M144.17 194.59h1.5M179.66 194.62h1.5M181.41 192.20h1.5M137.50 194.46h1.5M141.39 193.90h1.5M142.66 193.05h1.5M171.18 194.51h1.5M164.80 194.72h1.5M161.03 192.42h1.5M164.06 194.13h1.5M169.50 192.28h1.5M170.94 193.47h1.5M156.79 193.42h1.5M161.90 193.51h1.5M125.48 194.16h1.5M134.72 193.18h1.5M145.67 193.70h1.5M137.09 192.58h1.5M162.18 194.11h1.5M178.68 194.37h1.5M150.10 192.54h1.5M149.22 193.43h1.5M148.75 194.27h1.5M160.29 192.77h1.5M148.15 194.11h1.5M166.22 192.93h1.5M163.68 193.10h1.5M164.54 194.10h1.5M172.97 193.14h1.5M158.21 193.56h1.5M160.46 194.82h1.5M156.74 194.19h1.5M173.60 193.85h1.5M158.61 192.49h1.5M149.54 193.01h1.5M149.54 194.43h1.5M143.22 193.14h1.5M157.71 194.84h1.5M146.97 192.85h1.5M150.11 193.24h1.5M182.01 193.09h1.5M155.14 193.35h1.5M180.41 193.93h1.5M162.80 193.10h1.5M174.81 193.64h1.5M146.84 192.85h1.5M160.41 194.80h1.5M174.09 194.47h1.5M177.63 193.50h1.5M162.12 193.20h1.5M174.67 194.30h1.5M137.21 192.31h1.5M142.61 193.88h1.5M166.02 194.86h1.5M173.89 192.91h1.5M150.26 194.59h1.5M154.12 194.86h1.5M151.08 194.11h1.5M154.09 193.62h1.5M136.48 194.24h1.5M132.43 193.99h1.5M155.90 194.54h1.5M127.10 193.92h1.5M140.28 192.72h1.5M145.80 194.05h1.5M138.96 193.31h1.5M162.01 194.32h1.5M149.47 194.56h1.5M155.80 194.03h1.5M139.63 194.81h1.5M144.27 193.60h1.5M167.41 192.97h1.5M164.38 193.75h1.5M149.02 194.28h1.5M164.35 194.01h1.5M160.79 192.66h1.5M160.20 194.24h1.5M189.08 193.99h1.5M150.06 193.02h1.5M165.38 194.22h1.5M165.41 192.35h1.5M152.92 194.43h1.5M136.72 194.83h1.5M170.78 193.73h1.5M162.13 193.42h1.5M157.84 193.34h1.5M157.31 194.01h1.5M157.26 192.76h1.5M141.32 192.59h1.5M162.63 193.56h1.5M125.48 192.65h1.5M156.35 192.70h1.5M130.77 194.41h1.5M150.63 194.52h1.5M171.01 194.54h1.5M152.21 194.66h1.5M148.36 192.77h1.5M166.89 193.85h1.5M151.98 194.51h1.5M149.55 193.40h1.5M149.79 194.09h1.5M186.91 194.77h1.5M169.83 193.76h1.5M166.12 192.64h1.5M135.88 192.97h1.5M168.87 192.20h1.5M134.06 193.60h1.5M166.02 192.26h1.5M137.11 193.85h1.5M127.21 192.86h1.5M180.91 193.64h1.5M172.43 194.44h1.5M125.59 192.95h1.5M152.26 192.39h1.5M185.35 193.92h1.5M179.14 193.76h1.5M127.60 194.05h1.5M147.39 193.01h1.5M136.02 193.55h1.5M138.60 194.27h1.5M145.25 192.44h1.5M184.86 194.06h1.5M189.25 194.76h1.5M156.64 192.68h1.5M147.12 193.61h1.5M124.52 193.78h1.5M121.66 194.58h1.5M138.39 192.53h1.5M115.85 193.06h1.5M155.19 192.72h1.5M116.76 193.64h1.5M95.94 192.20h1.5M114.64 194.81h1.5M100.36 193.80h1.5M181.43 194.61h1.5M160.23 194.75h1.5M178.35 193.65h1.5M119.23 193.40h1.5M189.93 194.07h1.5M182.01 194.65h1.5M171.54 194.44h1.5M107.30 191.65h1.5M137.98 191.37h1.5M167.97 190.68h1.5M144.20 189.61h1.5M144.95 191.47h1.5M165.68 189.85h1.5M161.81 191.62h1.5M146.23 190.79h1.5M153.47 189.92h1.5M149.77 190.34h1.5M168.18 191.79h1.5M171.53 191.45h1.5M189.97 191.11h1.5M173.92 190.78h1.5M169.16 189.52h1.5M159.43 191.20h1.5M174.33 191.17h1.5M139.46 190.69h1.5M161.85 189.89h1.5M183.46 192.16h1.5M142.75 190.10h1.5M176.20 189.66h1.5M164.17 191.25h1.5M153.31 190.07h1.5M144.97 190.17h1.5M141.31 190.03h1.5M190.91 190.34h1.5M179.87 190.66h1.5M158.75 191.38h1.5M160.29 191.00h1.5M143.99 191.84h1.5M124.79 190.42h1.5M125.56 190.75h1.5M146.04 191.98h1.5M153.89 191.86h1.5M136.27 191.26h1.5M171.82 191.62h1.5M166.44 191.62h1.5M159.64 190.04h1.5M126.09 191.26h1.5M152.84 191.98h1.5M156.04 189.64h1.5M134.70 189.55h1.5M118.67 189.90h1.5M168.46 189.52h1.5M149.89 189.67h1.5M187.19 190.39h1.5M177.87 190.25h1.5M165.15 190.18h1.5M160.89 190.66h1.5M171.51 189.75h1.5M184.63 189.79h1.5M157.90 190.10h1.5M152.56 190.22h1.5M167.73 190.89h1.5M107.62 191.24h1.5M158.25 189.51h1.5M149.49 190.57h1.5M156.26 189.59h1.5M153.36 191.55h1.5M163.03 191.71h1.5M158.57 190.14h1.5M157.86 190.33h1.5M154.26 191.02h1.5M165.29 190.74h1.5M147.74 189.62h1.5M175.43 190.30h1.5M127.31 190.65h1.5M160.47 191.39h1.5M165.25 191.70h1.5M134.47 191.12h1.5M149.09 191.33h1.5M182.00 190.23h1.5M154.27 189.44h1.5M141.23 189.80h1.5M104.74 191.39h1.5M163.11 191.34h1.5M158.53 190.52h1.5M168.29 189.84h1.5M156.50 191.39h1.5M159.14 190.85h1.5M144.64 190.05h1.5M155.50 190.91h1.5M156.06 192.13h1.5M171.08 190.28h1.5M167.21 189.73h1.5M143.29 190.27h1.5M148.30 192.07h1.5M183.06 191.42h1.5M139.88 190.73h1.5M170.93 190.80h1.5M187.78 191.94h1.5M169.13 191.38h1.5M161.43 191.05h1.5M182.79 190.78h1.5M163.36 189.47h1.5M156.41 190.20h1.5M153.04 190.72h1.5M178.63 192.14h1.5M169.93 192.07h1.5M186.25 190.04h1.5M150.73 190.61h1.5M151.13 190.31h1.5M148.99 191.81h1.5M161.95 189.49h1.5M144.53 190.75h1.5M174.36 190.59h1.5M163.08 190.29h1.5M139.50 190.43h1.5M105.02 190.01h1.5M124.82 191.59h1.5M184.20 191.99h1.5M155.49 191.00h1.5M159.39 190.02h1.5M149.17 190.09h1.5M164.12 191.10h1.5M123.15 190.12h1.5M121.76 190.04h1.5M128.09 189.98h1.5M157.81 189.53h1.5M170.05 190.90h1.5M165.64 190.16h1.5M154.33 189.65h1.5M134.25 191.36h1.5M171.81 189.46h1.5M151.61 191.24h1.5M156.16 190.34h1.5M155.22 191.78h1.5M148.36 191.64h1.5M143.92 191.91h1.5M146.22 190.41h1.5M134.04 192.09h1.5M161.26 190.84h1.5M153.48 190.12h1.5M176.04 191.42h1.5M125.00 191.63h1.5M179.01 189.52h1.5M155.25 191.60h1.5M153.67 190.56h1.5M142.49 190.89h1.5M142.29 189.68h1.5M130.52 190.43h1.5M173.75 190.84h1.5M152.77 191.47h1.5M170.27 189.87h1.5M172.39 191.30h1.5M147.81 189.94h1.5M152.36 190.25h1.5M150.50 190.65h1.5M176.23 189.43h1.5M159.02 190.40h1.5M159.74 190.52h1.5M170.35 190.23h1.5M155.20 191.70h1.5M140.39 192.16h1.5M180.62 191.79h1.5M183.51 192.07h1.5M136.68 190.59h1.5M173.11 191.27h1.5M161.94 191.69h1.5M173.28 191.07h1.5M135.66 189.56h1.5M161.24 192.01h1.5M139.53 191.86h1.5M150.80 189.76h1.5M183.85 191.56h1.5M154.22 190.34h1.5M117.42 191.92h1.5M132.25 192.06h1.5M136.75 190.47h1.5M176.09 190.13h1.5M144.44 191.61h1.5M129.50 190.89h1.5M178.03 191.72h1.5M161.38 189.89h1.5M163.15 191.79h1.5M142.68 190.62h1.5M184.00 189.57h1.5M154.43 191.58h1.5M122.26 190.16h1.5M136.79 190.81h1.5M141.92 189.80h1.5M153.77 189.79h1.5M171.26 190.79h1.5M143.93 190.87h1.5M146.12 190.05h1.5M158.16 191.26h1.5M147.38 189.58h1.5M157.20 190.78h1.5M134.80 191.49h1.5M166.85 191.08h1.5M175.18 191.06h1.5M146.44 190.79h1.5M175.81 191.22h1.5M151.52 190.91h1.5M162.11 189.49h1.5M143.68 189.44h1.5M142.65 191.46h1.5M130.51 191.32h1.5M160.79 191.13h1.5M151.63 191.53h1.5M152.16 191.55h1.5M136.94 190.83h1.5M136.26 191.02h1.5M145.58 191.95h1.5M165.59 190.73h1.5M162.36 190.86h1.5M144.71 189.55h1.5M162.21 189.83h1.5M190.34 190.40h1.5M158.60 190.73h1.5M164.90 190.40h1.5M182.15 189.61h1.5M147.38 189.51h1.5M179.12 189.62h1.5M135.98 190.14h1.5M161.24 191.22h1.5M150.75 191.66h1.5M121.86 191.55h1.5M132.84 191.08h1.5M178.31 191.84h1.5M165.98 191.32h1.5M181.44 189.50h1.5M160.31 190.12h1.5M106.09 190.23h1.5M161.35 191.73h1.5M146.64 190.77h1.5M147.78 190.81h1.5M148.71 189.63h1.5M143.21 190.33h1.5M139.84 191.33h1.5M180.38 191.45h1.5M165.09 191.87h1.5M145.15 190.79h1.5M149.17 190.44h1.5M175.21 191.07h1.5M163.81 189.59h1.5M160.24 190.10h1.5M135.17 190.66h1.5M148.93 191.08h1.5M136.74 190.36h1.5M123.15 190.27h1.5M173.64 190.15h1.5M150.76 191.30h1.5M149.29 191.06h1.5M139.75 191.52h1.5M170.98 191.78h1.5M167.66 191.45h1.5M174.28 191.38h1.5M134.78 190.85h1.5M159.80 191.11h1.5M160.62 190.15h1.5M185.05 191.46h1.5M156.59 190.20h1.5M140.02 189.72h1.5M155.27 190.79h1.5M148.87 189.95h1.5M184.19 191.95h1.5M169.18 191.44h1.5M162.95 191.92h1.5M159.84 190.81h1.5M172.60 191.12h1.5M147.87 190.84h1.5M140.43 191.53h1.5M123.68 192.07h1.5M179.17 190.08h1.5M166.08 189.59h1.5M168.69 191.64h1.5M157.16 190.14h1.5M188.28 191.20h1.5M139.29 190.13h1.5M179.45 190.51h1.5M141.67 190.09h1.5M148.47 189.45h1.5M135.16 191.39h1.5M158.01 189.75h1.5M151.25 191.60h1.5M164.54 189.98h1.5M146.09 191.73h1.5M132.05 191.61h1.5M167.12 190.98h1.5M180.95 191.59h1.5M170.35 189.95h1.5M155.28 192.06h1.5M163.95 191.21h1.5M126.68 190.60h1.5M150.39 189.97h1.5M178.46 189.49h1.5M164.98 190.69h1.5M141.33 191.63h1.5M172.59 191.53h1.5M153.87 190.49h1.5M170.17 191.76h1.5M131.69 189.84h1.5M147.01 189.85h1.5M162.37 190.18h1.5M161.94 189.50h1.5M166.76 190.93h1.5M155.98 189.53h1.5M152.72 191.61h1.5M165.18 191.46h1.5M172.73 190.71h1.5M129.85 189.73h1.5M150.59 192.14h1.5M152.64 189.82h1.5M159.17 191.14h1.5M175.57 189.80h1.5M133.11 189.81h1.5M166.36 189.73h1.5M126.12 190.62h1.5M143.09 191.83h1.5M147.12 191.34h1.5M151.49 191.19h1.5M145.56 190.38h1.5M147.27 191.23h1.5M150.27 190.82h1.5M151.49 191.17h1.5M124.21 190.46h1.5M131.89 191.74h1.5M148.61 191.10h1.5M166.26 189.75h1.5M175.37 191.38h1.5M158.22 190.03h1.5M142.56 190.26h1.5M159.57 190.88h1.5M169.20 191.96h1.5M158.82 189.79h1.5M137.85 189.64h1.5M154.46 189.99h1.5M155.49 190.06h1.5M131.83 189.74h1.5M135.31 189.77h1.5M179.12 190.86h1.5M117.64 191.09h1.5M159.40 190.91h1.5M151.71 191.80h1.5M182.71 191.64h1.5M167.85 190.28h1.5M141.27 190.14h1.5M180.26 190.26h1.5M146.52 190.58h1.5M187.84 191.13h1.5M154.85 189.56h1.5M170.99 189.55h1.5M159.73 191.35h1.5M140.65 191.14h1.5M176.55 191.66h1.5M164.37 191.18h1.5M172.50 190.93h1.5M176.71 191.39h1.5M183.29 189.68h1.5M176.10 191.95h1.5M154.82 190.96h1.5M158.03 191.97h1.5M164.25 191.18h1.5M154.32 190.07h1.5M152.34 191.88h1.5M165.76 190.59h1.5M143.19 190.79h1.5M155.75 190.47h1.5M148.97 191.44h1.5M149.75 191.44h1.5M151.50 190.04h1.5M154.37 191.68h1.5M149.00 189.90h1.5M190.83 189.70h1.5M169.37 190.60h1.5M143.68 191.39h1.5M147.11 190.96h1.5M170.69 190.76h1.5M166.88 190.25h1.5M146.02 189.59h1.5M174.12 190.99h1.5M131.86 191.60h1.5M148.40 191.31h1.5M189.39 189.56h1.5M111.67 191.58h1.5M153.03 191.47h1.5M175.33 192.07h1.5M154.04 190.48h1.5M143.10 190.87h1.5M141.22 189.90h1.5M120.72 190.40h1.5M133.72 190.37h1.5M157.80 190.29h1.5M146.74 190.91h1.5M156.32 191.35h1.5M153.97 192.11h1.5M161.96 191.07h1.5M127.97 192.13h1.5M151.24 191.58h1.5M150.71 191.13h1.5M151.18 190.73h1.5M141.25 191.12h1.5M118.81 191.57h1.5M168.54 190.10h1.5M172.03 191.29h1.5M170.43 191.55h1.5M187.79 191.97h1.5M167.87 190.09h1.5M150.01 190.92h1.5M165.97 190.65h1.5M136.46 189.77h1.5M161.16 189.74h1.5M154.67 190.58h1.5M138.39 189.57h1.5M179.80 190.67h1.5M177.83 189.75h1.5M165.35 190.87h1.5M172.08 191.43h1.5M187.90 190.80h1.5M154.29 191.72h1.5M133.30 191.12h1.5M140.19 191.53h1.5M169.86 190.92h1.5M160.98 191.91h1.5M131.01 190.97h1.5M181.76 190.60h1.5M160.71 189.45h1.5M187.35 189.43h1.5M178.15 190.36h1.5M149.16 190.92h1.5M158.50 190.11h1.5M144.02 189.63h1.5M142.21 190.27h1.5M151.56 191.64h1.5M166.25 190.49h1.5M182.81 190.80h1.5M141.37 189.65h1.5M170.13 190.34h1.5M157.54 189.50h1.5M153.00 192.03h1.5M178.35 190.25h1.5M150.72 191.57h1.5M183.15 190.88h1.5M151.15 189.85h1.5M141.01 189.44h1.5M171.60 191.55h1.5M131.81 189.80h1.5M136.51 191.80h1.5M153.77 191.32h1.5M157.09 191.56h1.5M152.38 189.48h1.5M122.95 191.87h1.5M133.98 189.97h1.5M166.87 190.73h1.5M167.40 190.19h1.5M139.63 191.92h1.5M162.21 190.90h1.5M161.07 190.64h1.5M176.55 191.36h1.5M144.44 190.38h1.5M185.00 191.93h1.5M151.88 191.94h1.5M184.75 190.37h1.5M174.86 191.44h1.5M139.67 189.81h1.5M151.78 190.61h1.5M162.68 189.75h1.5M176.64 189.83h1.5M133.23 190.23h1.5M148.53 189.47h1.5M169.13 191.49h1.5M166.38 190.62h1.5M138.99 191.81h1.5M141.64 190.21h1.5M165.43 189.91h1.5M139.45 189.71h1.5M161.67 190.71h1.5M174.73 189.62h1.5M157.52 191.12h1.5M110.77 191.19h1.5M179.66 190.15h1.5M179.23 189.64h1.5M184.32 191.94h1.5M173.65 190.77h1.5M128.03 190.94h1.5M184.31 192.07h1.5M163.82 191.86h1.5M175.20 189.91h1.5M154.42 189.57h1.5M152.95 190.60h1.5M153.08 191.50h1.5M187.77 189.48h1.5M162.48 191.00h1.5M153.66 191.80h1.5M135.00 190.00h1.5M166.23 190.24h1.5M157.46 190.27h1.5M160.23 191.11h1.5M176.14 191.39h1.5M171.09 191.53h1.5M157.31 190.51h1.5M161.38 191.30h1.5M158.98 190.17h1.5M170.99 189.66h1.5M170.48 189.84h1.5M159.94 192.07h1.5M142.35 190.39h1.5M173.41 192.02h1.5M174.49 191.35h1.5M138.64 191.34h1.5M164.66 190.64h1.5M150.46 192.04h1.5M119.27 191.53h1.5M156.36 189.60h1.5M175.37 192.08h1.5M144.44 191.22h1.5M144.86 190.82h1.5M176.67 191.86h1.5M137.98 191.36h1.5M140.72 190.45h1.5M151.51 191.26h1.5M169.00 190.63h1.5M169.08 189.58h1.5M147.86 191.90h1.5M151.64 190.32h1.5M158.75 192.09h1.5M150.25 191.09h1.5M142.00 190.19h1.5M138.03 189.54h1.5M170.66 190.89h1.5M153.16 190.44h1.5M168.95 191.84h1.5M143.94 191.91h1.5M157.04 190.64h1.5M163.54 189.77h1.5M164.63 191.46h1.5M165.54 190.11h1.5M165.67 190.44h1.5M154.56 191.24h1.5M169.45 190.36h1.5M149.32 191.46h1.5M150.34 191.12h1.5M170.57 190.40h1.5M180.86 192.06h1.5M172.65 192.05h1.5M180.29 189.62h1.5M156.09 190.71h1.5M152.95 189.70h1.5M169.52 189.43h1.5M169.89 191.70h1.5M189.01 191.13h1.5M186.83 189.46h1.5M125.32 192.14h1.5M171.87 189.47h1.5M145.34 189.42h1.5M120.41 190.09h1.5M164.46 191.09h1.5M153.98 190.31h1.5M150.86 192.10h1.5M134.63 191.20h1.5M139.28 192.06h1.5M153.14 190.99h1.5M130.93 190.29h1.5M154.94 192.11h1.5M159.00 189.71h1.5M154.14 191.92h1.5M162.53 191.51h1.5M155.59 191.09h1.5M136.62 191.85h1.5M138.84 190.11h1.5M159.33 190.30h1.5M175.23 190.55h1.5M159.61 190.98h1.5M148.00 190.53h1.5M159.90 191.13h1.5M125.35 190.34h1.5M139.44 189.71h1.5M150.12 190.04h1.5M155.55 191.16h1.5M151.01 189.74h1.5M151.94 191.31h1.5M136.05 190.30h1.5M146.68 190.14h1.5M161.37 191.03h1.5M124.68 189.80h1.5M135.77 189.49h1.5M150.55 191.83h1.5M184.96 192.04h1.5M169.53 191.36h1.5M186.53 192.09h1.5M182.28 189.46h1.5M148.80 191.42h1.5M155.36 191.73h1.5M136.21 190.56h1.5M179.07 189.54h1.5M170.53 189.77h1.5M167.91 189.76h1.5M169.27 191.62h1.5M165.40 191.43h1.5M160.58 191.92h1.5M161.86 190.25h1.5M179.78 191.19h1.5M142.93 190.34h1.5M138.47 192.07h1.5M156.65 190.13h1.5M178.81 191.81h1.5M161.20 189.46h1.5M153.04 191.43h1.5M172.57 190.82h1.5M158.75 189.91h1.5M123.69 190.43h1.5M139.17 191.94h1.5M120.39 189.63h1.5M152.80 190.15h1.5M148.87 190.10h1.5M165.04 190.76h1.5M146.30 190.37h1.5M156.79 191.31h1.5M150.03 189.88h1.5M107.95 191.26h1.5M143.46 190.32h1.5M144.19 190.68h1.5M161.91 191.74h1.5M142.14 190.29h1.5M134.30 189.51h1.5M167.94 192.00h1.5M155.53 190.55h1.5M141.17 190.39h1.5M143.55 189.86h1.5M151.47 191.29h1.5M172.36 189.89h1.5M183.90 190.13h1.5M134.04 191.64h1.5M179.00 190.12h1.5M157.74 190.93h1.5M163.61 191.60h1.5M175.29 191.50h1.5M140.00 191.24h1.5M173.14 190.14h1.5M134.09 191.74h1.5M148.62 190.40h1.5M141.98 189.93h1.5M188.99 190.74h1.5M188.11 189.67h1.5M171.24 190.19h1.5M166.60 190.75h1.5M147.54 189.51h1.5M190.07 190.65h1.5M183.50 191.75h1.5M174.00 191.57h1.5M154.85 189.91h1.5M150.76 189.82h1.5M155.35 191.08h1.5M182.26 191.17h1.5M140.49 191.60h1.5M159.14 189.84h1.5M188.15 189.46h1.5M173.84 189.59h1.5M190.25 190.95h1.5M164.93 189.72h1.5M165.23 191.61h1.5M183.46 191.97h1.5M169.55 190.63h1.5M163.67 191.22h1.5M148.28 190.84h1.5M131.51 191.96h1.5M185.63 191.68h1.5M149.97 190.82h1.5M144.32 190.77h1.5M173.81 190.20h1.5M141.92 190.14h1.5M133.94 191.11h1.5M147.44 190.92h1.5M156.21 191.39h1.5M162.57 191.73h1.5M167.15 191.06h1.5M175.88 190.57h1.5M155.33 189.43h1.5M164.40 190.14h1.5M155.44 189.94h1.5M146.36 189.90h1.5M165.13 189.60h1.5M164.20 189.65h1.5M168.89 191.29h1.5M145.40 191.43h1.5M168.85 189.96h1.5M153.11 190.83h1.5M187.52 189.57h1.5M128.09 190.59h1.5M146.04 192.08h1.5M146.08 191.50h1.5M159.81 191.06h1.5M155.21 191.79h1.5M130.11 190.62h1.5M125.41 192.03h1.5M161.00 191.49h1.5M185.38 192.13h1.5M185.15 191.83h1.5M150.59 190.23h1.5M166.28 190.78h1.5M142.58 189.53h1.5M132.64 191.80h1.5M180.83 191.64h1.5M170.41 191.99h1.5M151.75 191.62h1.5M151.08 191.35h1.5M174.99 190.98h1.5M163.69 191.48h1.5M151.73 191.70h1.5M162.96 191.12h1.5M157.43 192.02h1.5M150.52 189.91h1.5M145.22 190.60h1.5M175.16 190.77h1.5M149.43 190.88h1.5M137.32 190.64h1.5M181.28 191.11h1.5M167.57 190.61h1.5M156.43 191.59h1.5M161.37 191.08h1.5M132.70 191.90h1.5M157.28 189.79h1.5M162.82 190.30h1.5M154.09 190.06h1.5M165.84 190.07h1.5M144.37 191.79h1.5M161.00 190.42h1.5M130.60 191.76h1.5M157.02 190.47h1.5M146.89 191.79h1.5M134.67 191.73h1.5M150.55 191.82h1.5M157.81 190.69h1.5M147.14 191.84h1.5M174.90 191.16h1.5M145.37 191.00h1.5M175.04 189.46h1.5M171.10 190.02h1.5M146.93 190.56h1.5M184.36 190.15h1.5M133.98 192.13h1.5M167.35 191.15h1.5M158.52 191.38h1.5M171.67 190.35h1.5M130.44 191.81h1.5M136.83 189.57h1.5M142.93 191.27h1.5M157.50 189.77h1.5M158.68 189.83h1.5M157.40 190.88h1.5M152.55 192.15h1.5M144.91 191.83h1.5M133.58 191.10h1.5M149.59 190.14h1.5M166.88 190.86h1.5M176.04 189.59h1.5M148.23 189.68h1.5M177.07 191.27h1.5M133.76 189.45h1.5M171.47 190.71h1.5M138.30 191.96h1.5M161.42 192.06h1.5M140.51 191.15h1.5M140.27 191.02h1.5M147.49 191.67h1.5M183.53 189.70h1.5M145.43 191.31h1.5M168.49 190.04h1.5M159.71 191.57h1.5M162.48 190.97h1.5M162.67 191.11h1.5M168.62 190.06h1.5M136.34 191.16h1.5M157.62 191.55h1.5M163.36 189.87h1.5M146.86 190.38h1.5M163.51 191.70h1.5M139.43 191.51h1.5M170.44 191.89h1.5M144.86 189.88h1.5M152.03 191.01h1.5M171.69 189.89h1.5M177.11 190.56h1.5M147.14 189.99h1.5M145.94 190.09h1.5M175.39 190.88h1.5M107.81 191.46h1.5M181.96 191.09h1.5M181.09 190.71h1.5M138.66 189.43h1.5M179.18 191.38h1.5M163.61 190.15h1.5M165.41 191.46h1.5M117.39 190.43h1.5M148.41 190.15h1.5M153.48 192.16h1.5M149.79 190.17h1.5M150.16 189.78h1.5M151.88 189.68h1.5M108.00 189.77h1.5M153.34 191.12h1.5M144.94 191.76h1.5M155.22 191.23h1.5M148.27 189.75h1.5M156.66 190.31h1.5M162.04 190.78h1.5M190.09 192.14h1.5M142.69 191.96h1.5M188.45 190.64h1.5M152.57 189.77h1.5M141.47 190.49h1.5M132.03 191.17h1.5M172.92 192.14h1.5M130.87 191.58h1.5M173.81 190.48h1.5M163.17 191.36h1.5M146.98 190.69h1.5M145.30 192.05h1.5M165.77 190.68h1.5M159.54 190.90h1.5M170.59 192.10h1.5M156.61 189.91h1.5M147.89 190.01h1.5M166.73 191.85h1.5M136.23 190.45h1.5M172.53 189.81h1.5M157.63 190.76h1.5M137.58 190.10h1.5M139.28 191.82h1.5M151.06 192.00h1.5M125.61 191.52h1.5M182.82 190.06h1.5M174.81 191.37h1.5M137.94 189.85h1.5M154.65 191.98h1.5M188.55 190.84h1.5M164.18 190.97h1.5M139.26 189.94h1.5M119.77 190.33h1.5M128.58 190.13h1.5M179.08 190.50h1.5M162.56 191.73h1.5M134.19 190.08h1.5M169.95 190.19h1.5M150.36 190.16h1.5M145.15 190.90h1.5M147.64 191.00h1.5M148.62 191.76h1.5M188.22 189.93h1.5M140.37 190.97h1.5M149.67 189.55h1.5M181.85 191.42h1.5M185.11 190.84h1.5M139.74 191.20h1.5M177.50 189.51h1.5M131.08 191.55h1.5M190.89 191.11h1.5M131.18 191.35h1.5M169.52 191.90h1.5M136.79 192.06h1.5M125.97 189.44h1.5M172.78 191.26h1.5M164.62 190.22h1.5M155.17 190.02h1.5M160.24 190.41h1.5M154.83 191.43h1.5M152.14 190.32h1.5M138.19 189.64h1.5M167.70 190.91h1.5M157.02 189.72h1.5M152.39 189.80h1.5M146.80 190.05h1.5M151.75 190.25h1.5M130.45 189.53h1.5M151.26 190.79h1.5M139.62 189.64h1.5M181.06 191.92h1.5M140.18 190.22h1.5M148.83 191.84h1.5M156.90 191.15h1.5M171.75 190.56h1.5M165.38 190.26h1.5M156.89 190.29h1.5M156.31 191.92h1.5M162.75 191.77h1.5M141.25 191.67h1.5M174.96 189.65h1.5M165.05 190.30h1.5M133.89 191.33h1.5M145.85 190.43h1.5M172.48 191.96h1.5M131.58 190.50h1.5M153.39 191.74h1.5M174.38 190.43h1.5M152.49 191.40h1.5M161.68 190.65h1.5M145.06 190.24h1.5M145.82 191.56h1.5M145.98 192.00h1.5M150.52 191.77h1.5M168.63 189.87h1.5M158.04 189.55h1.5M167.09 191.93h1.5M161.87 190.52h1.5M154.69 191.69h1.5M142.65 190.12h1.5M159.50 189.79h1.5M137.77 190.70h1.5M166.42 190.59h1.5M182.60 189.57h1.5M168.74 192.15h1.5M149.52 189.81h1.5M154.08 189.62h1.5M165.79 189.84h1.5M179.08 190.65h1.5M149.68 189.72h1.5M149.41 190.80h1.5M177.31 191.15h1.5M160.76 190.80h1.5M163.16 192.04h1.5M165.81 192.08h1.5M143.25 190.74h1.5M154.05 190.55h1.5M176.87 191.97h1.5M153.90 190.07h1.5M153.20 191.75h1.5M162.33 191.58h1.5M164.06 190.86h1.5M142.67 190.82h1.5M159.33 189.69h1.5M157.32 190.62h1.5M163.91 189.78h1.5M131.57 191.21h1.5M175.25 190.57h1.5M173.31 190.40h1.5M172.34 191.91h1.5M153.55 191.44h1.5M163.75 189.47h1.5M155.52 191.32h1.5M172.92 189.67h1.5M156.46 192.02h1.5M171.71 191.48h1.5M133.63 191.53h1.5M151.02 192.16h1.5M107.52 190.18h1.5M154.14 191.52h1.5M171.42 190.56h1.5M152.24 191.90h1.5M139.56 190.80h1.5M150.86 190.87h1.5M140.73 190.00h1.5M148.02 191.20h1.5M148.58 190.20h1.5M131.24 189.95h1.5M139.79 191.49h1.5M152.16 190.48h1.5M174.09 191.66h1.5M134.74 192.15h1.5M154.67 190.50h1.5M166.93 190.23h1.5M153.69 191.87h1.5M147.81 190.60h1.5M153.42 190.86h1.5M157.21 190.76h1.5M172.56 189.60h1.5M179.68 192.04h1.5M133.87 191.66h1.5M121.12 191.94h1.5M153.31 190.46h1.5M156.71 189.80h1.5M170.31 190.69h1.5M177.01 192.07h1.5M145.14 190.78h1.5M161.54 191.92h1.5M126.09 191.33h1.5M174.96 189.83h1.5M161.93 190.26h1.5M162.11 189.46h1.5M129.12 190.84h1.5M151.38 191.65h1.5M159.67 191.17h1.5M153.96 191.93h1.5M169.75 191.06h1.5M180.63 190.51h1.5M185.74 190.36h1.5M180.53 189.50h1.5M154.07 191.12h1.5M189.46 191.92h1.5M161.63 189.80h1.5M172.96 191.68h1.5M152.43 191.27h1.5M132.53 191.77h1.5M117.44 190.22h1.5M160.19 189.74h1.5M144.93 191.58h1.5M156.52 190.57h1.5M173.71 192.09h1.5M130.21 190.28h1.5M126.17 191.76h1.5M161.60 191.30h1.5M163.61 190.65h1.5M151.92 190.90h1.5M147.56 190.04h1.5M129.11 192.07h1.5M155.14 191.58h1.5M143.79 191.62h1.5M164.88 191.10h1.5M174.73 189.83h1.5M147.01 189.52h1.5M164.58 189.52h1.5M160.17 191.65h1.5M170.00 191.60h1.5M185.92 191.37h1.5M169.24 190.54h1.5M170.20 189.87h1.5M171.81 190.77h1.5M149.26 192.06h1.5M156.51 190.29h1.5M163.23 190.46h1.5M180.30 191.13h1.5M181.35 190.69h1.5M137.76 191.34h1.5M155.91 190.55h1.5M126.78 191.15h1.5M147.34 191.22h1.5M128.21 191.77h1.5M178.93 189.76h1.5M171.06 190.74h1.5M138.06 189.79h1.5M163.04 190.54h1.5M170.73 191.96h1.5M189.85 192.06h1.5M172.48 191.68h1.5M159.05 191.15h1.5M155.04 191.69h1.5M168.59 191.20h1.5M162.44 189.65h1.5M148.36 192.12h1.5M135.54 191.95h1.5M176.78 190.21h1.5M144.17 190.16h1.5M151.95 191.46h1.5M171.90 191.96h1.5M155.66 191.23h1.5M178.28 190.26h1.5M137.23 191.40h1.5M171.19 190.77h1.5M133.66 190.97h1.5M130.67 189.71h1.5M138.60 190.47h1.5M158.88 191.21h1.5M144.95 191.08h1.5M132.77 191.82h1.5M179.57 189.98h1.5M139.99 191.64h1.5M154.67 191.85h1.5M161.49 191.27h1.5M148.41 190.34h1.5M163.55 190.72h1.5M168.45 192.14h1.5M154.86 190.57h1.5M176.50 190.13h1.5M146.38 190.16h1.5M138.31 191.60h1.5M160.52 191.95h1.5M139.88 191.14h1.5M163.83 191.58h1.5M154.85 189.54h1.5M148.52 190.29h1.5M167.68 191.32h1.5M166.85 189.90h1.5M105.39 190.52h1.5M151.08 192.05h1.5M159.27 191.57h1.5M165.96 191.45h1.5M147.16 189.65h1.5M136.74 190.41h1.5M158.97 191.64h1.5M169.62 189.84h1.5M120.98 191.10h1.5M130.60 189.45h1.5M146.42 190.64h1.5M111.79 192.13h1.5M146.25 191.06h1.5M172.30 190.32h1.5M138.17 190.97h1.5M159.22 190.35h1.5M141.21 191.90h1.5M164.66 192.12h1.5M169.00 191.90h1.5M181.51 190.41h1.5M158.00 191.55h1.5M176.69 189.92h1.5M164.23 190.00h1.5M148.36 191.81h1.5M184.79 192.00h1.5M146.19 190.33h1.5M159.80 190.25h1.5M173.19 191.20h1.5M142.30 192.09h1.5M162.20 190.09h1.5M146.97 190.52h1.5M154.05 189.55h1.5M130.47 191.33h1.5M160.73 192.13h1.5M129.65 192.01h1.5M163.62 189.74h1.5M163.70 191.19h1.5M172.74 191.96h1.5M127.84 190.41h1.5M135.83 191.17h1.5M139.24 190.13h1.5M146.70 190.50h1.5M173.40 191.53h1.5M150.70 190.50h1.5M146.38 191.08h1.5M136.95 190.32h1.5M145.60 191.49h1.5M148.92 191.33h1.5M154.71 191.70h1.5M131.68 191.79h1.5M155.19 191.06h1.5M167.37 190.48h1.5M163.18 190.56h1.5M134.89 191.64h1.5M172.24 191.10h1.5M171.92 190.96h1.5M162.24 191.56h1.5M135.23 190.46h1.5M130.98 191.23h1.5M157.28 191.89h1.5M138.68 190.29h1.5M133.32 191.69h1.5M173.63 191.20h1.5M174.01 190.05h1.5M168.84 191.81h1.5M181.65 190.65h1.5M173.83 190.54h1.5M136.44 191.42h1.5M178.52 191.85h1.5M158.83 191.05h1.5M165.01 191.52h1.5M186.61 191.11h1.5M165.02 191.78h1.5M186.74 191.07h1.5M157.63 189.64h1.5M149.92 192.14h1.5M144.27 190.59h1.5M154.19 191.02h1.5M127.34 189.85h1.5M155.46 190.06h1.5M154.44 190.92h1.5M147.26 191.46h1.5M117.78 189.58h1.5M119.23 189.91h1.5M170.08 189.74h1.5M139.90 191.93h1.5M182.87 191.08h1.5M144.13 190.88h1.5M163.45 191.35h1.5M131.43 191.55h1.5M145.46 191.27h1.5M152.72 191.69h1.5M167.70 189.54h1.5M188.87 189.69h1.5M175.06 190.46h1.5M131.33 190.59h1.5M156.68 189.45h1.5M153.64 190.79h1.5M145.49 190.07h1.5M167.86 192.07h1.5M186.89 191.00h1.5M148.63 191.64h1.5M178.04 191.93h1.5M183.39 189.85h1.5M138.10 190.16h1.5M190.66 191.19h1.5M188.99 191.83h1.5M162.26 189.98h1.5M189.43 191.20h1.5M161.40 190.02h1.5M178.72 190.50h1.5M169.10 190.19h1.5M141.58 190.52h1.5M161.62 189.53h1.5M153.66 191.50h1.5M147.99 189.77h1.5M136.53 190.45h1.5M143.01 190.26h1.5M135.13 189.47h1.5M178.44 192.07h1.5M122.49 191.43h1.5M158.06 190.18h1.5M145.94 190.00h1.5M134.84 191.48h1.5M170.53 190.87h1.5M142.70 189.81h1.5M179.79 189.49h1.5M153.47 189.50h1.5M162.99 191.59h1.5M154.31 191.12h1.5M169.08 190.98h1.5M174.63 190.83h1.5M148.76 189.81h1.5M156.42 190.83h1.5M190.39 191.36h1.5M146.59 190.43h1.5M149.73 190.50h1.5M146.88 189.62h1.5M127.23 189.47h1.5M141.83 190.11h1.5M126.27 189.73h1.5M146.63 191.92h1.5M169.87 190.57h1.5M155.51 192.10h1.5M146.09 191.42h1.5M138.71 190.40h1.5M144.62 190.28h1.5M131.27 189.89h1.5M134.49 189.86h1.5M161.19 190.95h1.5M140.63 190.05h1.5M169.47 191.59h1.5M185.40 189.75h1.5M145.48 192.07h1.5M154.69 191.13h1.5M134.72 192.05h1.5M128.82 191.39h1.5M183.07 189.85h1.5M143.70 190.99h1.5M128.30 191.51h1.5M183.84 191.28h1.5M176.89 189.86h1.5M165.71 191.63h1.5M184.87 190.06h1.5M150.68 191.31h1.5M161.88 191.48h1.5M171.75 189.71h1.5M151.11 191.56h1.5M165.73 189.58h1.5M152.42 190.95h1.5M165.30 189.43h1.5M159.65 190.16h1.5M122.13 189.87h1.5M158.28 190.67h1.5M131.67 189.50h1.5M141.72 190.20h1.5M127.60 190.96h1.5M172.19 192.00h1.5M150.82 191.64h1.5M149.80 189.79h1.5M180.47 189.58h1.5M170.18 192.08h1.5M152.78 191.04h1.5M120.34 190.94h1.5M169.18 191.72h1.5M151.91 192.07h1.5M150.17 189.80h1.5M170.62 189.89h1.5M145.54 189.74h1.5M155.07 191.35h1.5M173.56 189.73h1.5M167.49 189.49h1.5M145.83 189.98h1.5M184.43 191.21h1.5M178.58 191.13h1.5M155.58 189.66h1.5M160.66 190.79h1.5M176.77 190.99h1.5M165.00 191.99h1.5M159.22 191.27h1.5M154.79 191.58h1.5M151.31 190.86h1.5M131.04 189.84h1.5M154.68 191.59h1.5M95.88 190.60h1.5M159.15 191.66h1.5M144.89 191.19h1.5M190.10 191.99h1.5M99.05 190.33h1.5M138.65 188.95h1.5M130.03 189.02h1.5M155.25 187.63h1.5M123.80 187.63h1.5M145.91 184.86h1.5M148.13 183.86h1.5M160.08 185.76h1.5M132.13 184.38h1.5M149.99 184.34h1.5M128.15 186.88h1.5M157.59 185.79h1.5M138.87 184.28h1.5M139.81 183.35h1.5M128.98 184.26h1.5M134.76 186.76h1.5M134.09 188.82h1.5M134.71 187.84h1.5M159.19 186.04h1.5M128.39 188.09h1.5M148.09 184.71h1.5M155.29 187.73h1.5M125.95 186.64h1.5M108.90 186.86h1.5M150.85 183.14h1.5M117.29 186.75h1.5M131.95 185.11h1.5M143.34 183.31h1.5M148.47 184.67h1.5M140.49 184.84h1.5M133.19 184.12h1.5M157.17 186.84h1.5M147.86 187.90h1.5M168.43 187.97h1.5M129.88 188.77h1.5M143.48 188.94h1.5M144.28 183.89h1.5M151.70 183.53h1.5M147.97 184.15h1.5M145.43 187.99h1.5M168.87 189.17h1.5M142.37 184.71h1.5M150.53 185.92h1.5M147.48 185.69h1.5M134.86 186.86h1.5M154.19 185.61h1.5M113.88 184.68h1.5M159.03 186.33h1.5M119.08 186.65h1.5M139.82 186.62h1.5M146.44 189.17h1.5M136.85 187.06h1.5M136.36 186.95h1.5M159.68 187.81h1.5M174.11 184.98h1.5M157.82 184.29h1.5M147.18 186.90h1.5M134.60 184.73h1.5M132.25 186.15h1.5M159.84 187.46h1.5M156.03 189.23h1.5M161.15 187.44h1.5M157.34 183.77h1.5M161.24 184.08h1.5M135.06 183.39h1.5M131.94 184.39h1.5M128.15 185.34h1.5M144.61 189.07h1.5M141.85 188.95h1.5M146.55 184.06h1.5M124.95 188.55h1.5M147.27 188.61h1.5M154.91 183.58h1.5M146.13 186.77h1.5M100.06 188.85h1.5M144.65 187.98h1.5M139.07 187.90h1.5M156.22 186.27h1.5M142.36 188.92h1.5M152.81 186.15h1.5M138.59 187.38h1.5M149.12 188.89h1.5M156.88 186.61h1.5M140.51 185.65h1.5M148.90 187.46h1.5M147.13 187.31h1.5M152.54 187.28h1.5M143.04 183.32h1.5M150.90 183.88h1.5M114.59 187.35h1.5M141.16 184.70h1.5M155.11 184.01h1.5M153.22 185.11h1.5M128.99 184.95h1.5M131.71 188.91h1.5M149.92 184.26h1.5M149.47 189.06h1.5M150.73 183.12h1.5M145.92 188.12h1.5M146.44 188.00h1.5M157.58 186.44h1.5M129.52 186.96h1.5M122.04 188.64h1.5M157.25 188.37h1.5M132.32 183.24h1.5M153.37 188.11h1.5M133.74 189.21h1.5M126.69 187.39h1.5M163.60 186.39h1.5M143.79 188.97h1.5M121.62 185.06h1.5M141.28 186.40h1.5M142.05 184.12h1.5M141.40 187.86h1.5M147.03 189.12h1.5M125.76 185.89h1.5M140.10 183.04h1.5M150.40 189.18h1.5M152.40 184.67h1.5M146.03 186.60h1.5M131.51 184.89h1.5M112.16 187.15h1.5M162.46 184.10h1.5M126.27 185.85h1.5M137.29 187.36h1.5M145.01 187.29h1.5M150.33 185.26h1.5M144.38 187.61h1.5M131.30 187.41h1.5M144.14 183.42h1.5M169.74 188.00h1.5M174.89 185.02h1.5M141.19 188.41h1.5M152.74 188.16h1.5M115.93 185.00h1.5M147.59 186.99h1.5M153.56 186.53h1.5M139.89 187.95h1.5M166.80 183.57h1.5M155.54 184.84h1.5M152.42 187.84h1.5M101.71 187.13h1.5M134.79 187.71h1.5M153.61 184.37h1.5M136.83 185.46h1.5M115.89 187.36h1.5M135.40 185.98h1.5M163.29 184.48h1.5M153.25 187.86h1.5M155.49 186.91h1.5M147.48 186.83h1.5M164.43 185.86h1.5M98.75 189.14h1.5M125.30 187.31h1.5M168.09 188.09h1.5M157.76 188.55h1.5M148.12 187.22h1.5M139.42 187.94h1.5M115.15 185.21h1.5M138.03 188.76h1.5M142.76 184.12h1.5M129.82 183.87h1.5M161.65 183.35h1.5M157.55 188.71h1.5M140.44 188.98h1.5M156.01 183.32h1.5M144.42 188.83h1.5M148.49 188.62h1.5M137.19 188.15h1.5M174.87 185.52h1.5M120.39 184.34h1.5M142.78 188.99h1.5M157.63 187.15h1.5M157.53 187.00h1.5M118.32 183.39h1.5M129.51 185.49h1.5M143.56 186.48h1.5M131.94 187.01h1.5M134.09 187.15h1.5M141.00 187.80h1.5M142.60 184.90h1.5M158.45 188.40h1.5M117.05 185.93h1.5M157.92 184.46h1.5M141.44 186.17h1.5M152.28 186.61h1.5M139.44 185.38h1.5M173.38 189.01h1.5M115.44 188.89h1.5M159.49 188.82h1.5M137.87 187.57h1.5M141.43 186.83h1.5M162.32 187.41h1.5M141.93 187.22h1.5M156.18 184.99h1.5M162.73 184.32h1.5M135.46 184.77h1.5M169.58 184.92h1.5M160.48 189.13h1.5M141.72 187.29h1.5M148.12 186.86h1.5M133.61 185.44h1.5M148.99 186.66h1.5M155.90 185.63h1.5M157.50 184.38h1.5M148.19 185.75h1.5M136.90 187.93h1.5M134.79 183.61h1.5M129.64 183.97h1.5M140.85 186.37h1.5M152.69 184.66h1.5M135.85 188.99h1.5M134.20 185.58h1.5M127.97 185.62h1.5M152.32 183.45h1.5M141.16 184.82h1.5M118.67 189.31h1.5M158.72 186.27h1.5M158.13 183.34h1.5M145.71 188.56h1.5M139.63 185.21h1.5M144.85 187.12h1.5M130.15 186.79h1.5M157.46 183.59h1.5M162.01 184.12h1.5M157.75 187.17h1.5M148.32 185.12h1.5M148.25 187.68h1.5M151.82 185.89h1.5M165.85 188.25h1.5M132.29 184.42h1.5M145.12 188.54h1.5M134.06 188.98h1.5M125.41 189.30h1.5M149.44 184.14h1.5M158.96 185.03h1.5M127.94 185.19h1.5M157.23 183.59h1.5M153.48 184.93h1.5M151.02 189.16h1.5M161.68 188.97h1.5M134.54 189.09h1.5M164.70 188.74h1.5M139.50 188.72h1.5M151.93 187.78h1.5M119.94 187.39h1.5M157.06 185.87h1.5M145.80 186.45h1.5M136.08 184.71h1.5M128.41 186.78h1.5M147.84 183.08h1.5M161.25 184.82h1.5M151.74 189.42h1.5M139.73 186.75h1.5M132.71 187.52h1.5M128.06 184.46h1.5M139.91 189.04h1.5M118.86 183.84h1.5M139.09 185.47h1.5M158.42 183.83h1.5M144.28 187.30h1.5M142.71 183.54h1.5M135.35 189.03h1.5M153.83 184.83h1.5M152.86 188.72h1.5M162.25 183.64h1.5M133.70 187.45h1.5M126.82 185.49h1.5M135.16 187.48h1.5M124.85 185.31h1.5M144.29 186.50h1.5M137.99 187.80h1.5M130.89 188.95h1.5M144.25 183.56h1.5M157.17 186.42h1.5M153.73 187.16h1.5M134.68 184.51h1.5M145.60 184.92h1.5M148.92 184.17h1.5M153.06 184.54h1.5M139.33 183.77h1.5M123.78 184.39h1.5M149.26 185.35h1.5M128.99 184.44h1.5M138.89 183.60h1.5M140.55 188.32h1.5M156.11 186.90h1.5M137.22 186.44h1.5M147.08 185.05h1.5M141.44 188.02h1.5M135.93 185.87h1.5M155.60 186.96h1.5M137.34 188.37h1.5M150.81 188.00h1.5M148.54 183.30h1.5M114.49 187.98h1.5M117.80 188.02h1.5M93.04 187.07h1.5M148.64 188.88h1.5M148.22 187.52h1.5M136.34 183.64h1.5M136.35 186.92h1.5M139.70 185.86h1.5M134.59 186.17h1.5M144.32 184.09h1.5M144.36 184.86h1.5M130.31 185.07h1.5M162.06 187.16h1.5M157.14 186.21h1.5M138.29 189.12h1.5M170.94 188.58h1.5M174.29 186.01h1.5M159.92 184.15h1.5M159.38 186.86h1.5M135.47 188.97h1.5M139.89 184.80h1.5M119.08 187.20h1.5M138.21 187.28h1.5M156.83 183.62h1.5M138.37 186.05h1.5M117.50 183.38h1.5M164.30 183.09h1.5M168.63 189.24h1.5M163.25 184.68h1.5M119.99 186.02h1.5M155.11 189.12h1.5M131.51 185.10h1.5M142.88 186.86h1.5M153.60 185.38h1.5M163.51 188.72h1.5M134.88 188.59h1.5M139.45 185.03h1.5M124.37 185.86h1.5M145.31 188.52h1.5M129.12 185.47h1.5M137.01 185.16h1.5M154.36 185.95h1.5M144.99 184.95h1.5M146.74 188.64h1.5M148.65 183.36h1.5M154.88 188.48h1.5M161.82 188.88h1.5M126.00 185.72h1.5M118.66 184.16h1.5M151.47 184.01h1.5M153.60 186.60h1.5M161.91 186.99h1.5M154.67 184.99h1.5M165.97 188.73h1.5M151.43 185.18h1.5M134.74 189.23h1.5M157.29 189.27h1.5M130.50 185.70h1.5M133.89 185.81h1.5M150.20 186.97h1.5M141.01 187.82h1.5M156.48 184.10h1.5M139.06 185.39h1.5M167.15 187.70h1.5M128.35 188.50h1.5M153.77 185.00h1.5M137.60 183.34h1.5M162.24 184.44h1.5M135.78 188.03h1.5M154.51 188.69h1.5M92.97 185.53h1.5M133.13 188.86h1.5M165.15 184.38h1.5M147.73 188.86h1.5M146.45 187.45h1.5M156.04 188.79h1.5M174.24 189.22h1.5M127.25 187.92h1.5M144.11 187.64h1.5M137.86 184.84h1.5M153.90 186.24h1.5M133.79 183.76h1.5M119.62 186.94h1.5M120.25 186.22h1.5M153.41 185.24h1.5M148.03 186.30h1.5M155.79 187.01h1.5M119.00 184.66h1.5M130.58 184.29h1.5M136.49 183.88h1.5M155.69 188.10h1.5M150.86 186.54h1.5M142.69 186.59h1.5M128.88 184.19h1.5M147.82 187.92h1.5M137.67 187.78h1.5M156.18 184.87h1.5M166.44 184.01h1.5M146.99 184.20h1.5M127.02 189.06h1.5M174.05 186.52h1.5M153.19 187.11h1.5M152.02 184.48h1.5M146.98 186.63h1.5M147.68 188.06h1.5M146.74 189.34h1.5M148.76 183.41h1.5M120.84 183.82h1.5M133.85 185.86h1.5M144.18 185.27h1.5M147.42 185.86h1.5M148.01 187.13h1.5M150.81 187.49h1.5M115.53 186.18h1.5M129.69 187.50h1.5M134.64 185.84h1.5M147.26 186.36h1.5M142.52 186.61h1.5M169.34 189.07h1.5M139.41 184.52h1.5M141.68 184.77h1.5M120.06 184.14h1.5M167.47 188.24h1.5M146.66 186.45h1.5M143.81 185.44h1.5M135.04 184.83h1.5M146.72 186.39h1.5M139.92 186.55h1.5M160.21 183.18h1.5M132.36 186.63h1.5M138.56 183.20h1.5M136.94 186.42h1.5M152.74 187.78h1.5M149.66 187.10h1.5M157.47 184.71h1.5M152.19 186.25h1.5M152.55 184.49h1.5M146.38 184.68h1.5M156.55 186.09h1.5M151.52 184.57h1.5M149.71 187.73h1.5M119.26 188.14h1.5M138.06 184.43h1.5M134.39 188.97h1.5M115.71 189.00h1.5M161.36 188.79h1.5M163.05 187.00h1.5M158.70 188.80h1.5M152.56 188.26h1.5M163.48 184.93h1.5M117.99 188.56h1.5M160.91 186.49h1.5M112.19 185.71h1.5M147.57 183.41h1.5M147.07 187.31h1.5M151.78 188.76h1.5M153.46 184.27h1.5M154.15 188.24h1.5M134.06 184.50h1.5M134.45 188.52h1.5M131.86 189.33h1.5M147.15 183.92h1.5M139.94 185.22h1.5M119.29 188.80h1.5M157.06 187.78h1.5M126.73 184.37h1.5M137.47 188.75h1.5M133.29 183.80h1.5M133.21 188.71h1.5M152.48 185.95h1.5M134.09 188.24h1.5M121.79 185.92h1.5M134.59 188.29h1.5M128.47 188.68h1.5M120.11 187.10h1.5M156.42 184.88h1.5M159.29 186.05h1.5M121.67 185.88h1.5M164.22 186.15h1.5M167.37 185.78h1.5M122.58 188.50h1.5M150.52 186.55h1.5M140.88 188.86h1.5M155.42 188.78h1.5M96.94 187.95h1.5M152.95 189.24h1.5M139.40 188.45h1.5M151.20 186.86h1.5M156.07 189.29h1.5M106.46 183.18h1.5M144.65 183.79h1.5M145.43 184.77h1.5M152.69 187.76h1.5M159.08 185.40h1.5M154.55 188.27h1.5M132.75 183.09h1.5M153.97 184.86h1.5M132.99 186.82h1.5M154.71 186.50h1.5M142.63 186.94h1.5M142.54 183.93h1.5M147.13 185.42h1.5M119.19 188.74h1.5M140.23 188.82h1.5M125.77 184.35h1.5M156.59 187.56h1.5M160.68 186.67h1.5M121.64 185.53h1.5M108.45 187.55h1.5M148.38 184.61h1.5M136.05 184.92h1.5M130.11 188.94h1.5M172.78 185.68h1.5M138.63 183.48h1.5M128.51 185.20h1.5M140.91 188.01h1.5M148.94 187.69h1.5M164.29 183.94h1.5M149.18 184.45h1.5M124.83 187.74h1.5M137.39 186.21h1.5M167.46 187.25h1.5M116.78 184.20h1.5M144.71 189.00h1.5M159.57 189.24h1.5M148.74 183.04h1.5M141.99 187.96h1.5M130.92 187.94h1.5M147.46 184.05h1.5M151.80 183.72h1.5M148.21 185.62h1.5M157.79 188.25h1.5M148.01 187.87h1.5M161.00 188.25h1.5M147.29 189.41h1.5M156.46 189.26h1.5M140.26 186.58h1.5M166.41 185.72h1.5M160.61 188.56h1.5M153.89 189.28h1.5M129.34 188.22h1.5M147.92 188.75h1.5M97.16 188.89h1.5M139.69 187.79h1.5M147.62 187.75h1.5M131.39 188.71h1.5M147.58 188.68h1.5M153.62 189.21h1.5M167.28 186.38h1.5M145.90 188.99h1.5M119.88 185.31h1.5M106.98 183.64h1.5M143.05 188.10h1.5M156.46 188.02h1.5M159.12 184.71h1.5M146.92 185.93h1.5M134.89 189.08h1.5M134.18 183.44h1.5M143.50 189.20h1.5M146.85 185.88h1.5M152.90 188.13h1.5M147.20 184.58h1.5M169.72 188.48h1.5M147.66 186.02h1.5M151.68 186.38h1.5M158.26 186.76h1.5M157.11 186.44h1.5M135.23 186.58h1.5M119.14 187.64h1.5M124.41 186.46h1.5M150.24 188.52h1.5M152.91 188.58h1.5M149.95 185.78h1.5M155.29 186.45h1.5M161.33 185.70h1.5M133.29 186.05h1.5M176.39 185.58h1.5M177.65 187.67h1.5M155.01 183.14h1.5M143.18 187.75h1.5M148.97 187.82h1.5M122.86 187.64h1.5M146.25 189.19h1.5M132.62 183.09h1.5M144.51 184.00h1.5M140.81 183.21h1.5M170.58 186.50h1.5M131.90 184.12h1.5M149.66 184.34h1.5M139.42 188.05h1.5M164.87 185.97h1.5M158.65 189.04h1.5M120.91 184.27h1.5M129.87 187.18h1.5M149.30 184.11h1.5M135.90 185.48h1.5M151.34 185.81h1.5M146.94 187.67h1.5M128.30 184.40h1.5M141.18 188.06h1.5M151.67 188.57h1.5M144.94 187.40h1.5M147.64 185.12h1.5M150.44 184.80h1.5M144.14 188.90h1.5M162.08 183.54h1.5M98.87 184.10h1.5M102.82 189.41h1.5M93.62 187.11h1.5M98.13 188.72h1.5M97.11 185.91h1.5M155.34 177.95h1.5M132.19 174.92h1.5M151.07 181.81h1.5M147.62 182.71h1.5M116.25 180.66h1.5M143.21 174.98h1.5M154.05 177.07h1.5M153.62 179.67h1.5M150.82 175.58h1.5M165.87 179.20h1.5M143.87 179.23h1.5M134.91 174.49h1.5M159.69 172.33h1.5M140.34 179.96h1.5M169.71 176.47h1.5M142.44 180.57h1.5M125.65 181.01h1.5M133.23 180.57h1.5M133.66 175.00h1.5M163.94 174.66h1.5M146.45 178.20h1.5M137.66 179.63h1.5M146.84 179.72h1.5M167.84 179.37h1.5M143.70 174.13h1.5M135.46 178.66h1.5M150.62 180.53h1.5M133.99 173.81h1.5M153.03 181.30h1.5M161.07 172.74h1.5M147.78 178.64h1.5M139.16 174.36h1.5M146.68 177.41h1.5M126.51 175.38h1.5M170.64 175.82h1.5M183.71 176.64h1.5M145.02 172.81h1.5M118.20 176.93h1.5M136.01 177.03h1.5M126.14 174.53h1.5M120.61 177.97h1.5M142.87 178.97h1.5M142.58 175.93h1.5M136.59 178.22h1.5M162.95 181.00h1.5M145.30 176.65h1.5M132.11 179.21h1.5M151.56 177.43h1.5M128.46 173.86h1.5M140.15 172.41h1.5M133.98 172.13h1.5M149.55 182.07h1.5M141.21 173.07h1.5M137.21 172.42h1.5M149.04 178.42h1.5M152.45 178.88h1.5M148.70 177.96h1.5M163.12 181.93h1.5M131.23 175.54h1.5M151.25 180.37h1.5M172.34 180.78h1.5M144.87 177.97h1.5M160.75 182.25h1.5M142.08 176.97h1.5M155.39 172.88h1.5M149.24 173.51h1.5M154.92 181.43h1.5M164.87 180.03h1.5M146.82 182.65h1.5M157.72 174.48h1.5M127.98 182.33h1.5M133.22 176.37h1.5M143.11 173.85h1.5M170.82 175.54h1.5M134.04 173.78h1.5M140.20 176.37h1.5M155.67 182.52h1.5M137.91 181.12h1.5M127.99 173.30h1.5M119.39 181.55h1.5M157.66 179.18h1.5M130.14 178.49h1.5M150.39 175.00h1.5M153.14 172.12h1.5M131.83 174.55h1.5M152.02 181.56h1.5M117.15 182.33h1.5M143.19 177.74h1.5M131.25 181.47h1.5M148.41 178.72h1.5M147.90 176.25h1.5M147.61 177.59h1.5M154.86 179.18h1.5M136.40 178.56h1.5M126.02 172.08h1.5M128.68 174.52h1.5M161.05 181.68h1.5M131.23 177.82h1.5M140.11 175.14h1.5M150.44 172.41h1.5M142.56 179.69h1.5M131.88 174.15h1.5M117.47 174.83h1.5M160.11 181.80h1.5M137.16 182.62h1.5M123.67 182.23h1.5M136.32 181.94h1.5M145.37 175.42h1.5M119.33 182.61h1.5M146.84 174.66h1.5M144.67 176.65h1.5M152.01 172.88h1.5M144.74 179.79h1.5M131.77 173.37h1.5M123.62 172.80h1.5M142.00 177.64h1.5M137.82 178.77h1.5M169.78 177.18h1.5M140.80 174.07h1.5M151.21 173.44h1.5M145.40 176.08h1.5M121.99 180.83h1.5M156.91 182.82h1.5M138.55 174.00h1.5M125.88 174.39h1.5M151.19 179.33h1.5M164.77 179.91h1.5M142.90 173.66h1.5M140.80 178.95h1.5M136.18 181.34h1.5M138.91 175.89h1.5M162.68 172.17h1.5M145.69 176.26h1.5M151.28 182.28h1.5M153.82 180.80h1.5M106.84 179.50h1.5M147.03 172.25h1.5M153.69 180.79h1.5M147.97 179.73h1.5M125.34 182.51h1.5M134.31 179.66h1.5M155.42 173.70h1.5M151.11 179.75h1.5M151.59 174.89h1.5M129.70 172.15h1.5M148.76 181.62h1.5M168.06 180.19h1.5M144.95 178.92h1.5M166.44 182.83h1.5M158.50 182.66h1.5M157.82 172.96h1.5M135.74 172.22h1.5M136.03 178.16h1.5M135.73 172.99h1.5M163.11 180.69h1.5M164.77 178.64h1.5M131.06 175.59h1.5M127.90 179.82h1.5M146.30 175.74h1.5M165.74 176.43h1.5M148.70 172.42h1.5M154.66 174.07h1.5M152.18 179.30h1.5M153.72 176.71h1.5M142.62 177.71h1.5M152.13 177.37h1.5M155.48 177.10h1.5M142.95 177.98h1.5M171.79 182.65h1.5M130.79 181.43h1.5M139.42 180.35h1.5M133.57 172.58h1.5M161.74 172.88h1.5M162.05 175.70h1.5M134.79 173.13h1.5M145.46 174.44h1.5M138.57 176.22h1.5M126.92 180.09h1.5M134.03 180.98h1.5M149.64 182.68h1.5M153.45 172.77h1.5M135.00 179.45h1.5M144.28 172.28h1.5M157.70 182.70h1.5M166.81 177.26h1.5M149.92 172.64h1.5M133.98 182.48h1.5M124.28 172.08h1.5M145.35 174.68h1.5M140.40 179.91h1.5M136.92 172.33h1.5M135.58 174.27h1.5M137.22 179.97h1.5M146.79 172.92h1.5M155.32 180.38h1.5M133.99 173.56h1.5M174.69 173.80h1.5M167.53 175.69h1.5M141.25 177.26h1.5M149.35 179.62h1.5M169.13 181.21h1.5M132.82 178.35h1.5M136.60 181.44h1.5M136.67 177.19h1.5M131.61 176.54h1.5M156.04 174.95h1.5M141.69 178.83h1.5M146.01 178.28h1.5M145.75 174.98h1.5M141.94 178.98h1.5M169.13 181.95h1.5M142.37 173.33h1.5M133.62 181.34h1.5M127.00 182.40h1.5M135.87 180.40h1.5M147.49 173.75h1.5M147.25 174.75h1.5M149.13 181.78h1.5M139.22 175.96h1.5M151.59 173.49h1.5M151.92 172.77h1.5M129.29 177.13h1.5M150.99 173.52h1.5M151.29 179.10h1.5M141.09 182.72h1.5M162.40 181.33h1.5M145.46 180.10h1.5M135.01 182.58h1.5M159.91 172.45h1.5M173.43 172.08h1.5M129.96 173.25h1.5M143.69 177.23h1.5M158.96 178.28h1.5M154.54 179.45h1.5M161.17 176.81h1.5M165.97 181.61h1.5M121.93 174.58h1.5M155.86 179.28h1.5M124.01 174.25h1.5M132.61 181.93h1.5M130.82 180.01h1.5M152.41 173.96h1.5M123.52 174.40h1.5M146.20 175.83h1.5M125.39 176.74h1.5M177.10 172.24h1.5M137.86 175.78h1.5M144.35 179.57h1.5M129.60 180.88h1.5M137.22 178.31h1.5M165.96 172.84h1.5M148.54 181.16h1.5M129.80 173.49h1.5M138.16 174.74h1.5M142.53 181.18h1.5M173.17 182.89h1.5M143.05 182.31h1.5M151.65 177.33h1.5M161.75 180.27h1.5M183.50 175.18h1.5M155.10 176.97h1.5M130.95 178.84h1.5M131.95 176.92h1.5M172.41 175.12h1.5M151.21 175.24h1.5M120.08 181.53h1.5M138.03 180.24h1.5M138.71 180.84h1.5M140.18 176.40h1.5M155.05 172.61h1.5M155.51 177.88h1.5M166.46 182.39h1.5M120.46 178.76h1.5M149.35 179.84h1.5M141.95 178.09h1.5M131.01 172.38h1.5M158.33 172.44h1.5M127.62 176.95h1.5M126.85 175.05h1.5M171.09 182.77h1.5M151.27 176.69h1.5M158.05 176.27h1.5M166.13 173.82h1.5M128.25 178.30h1.5M167.09 178.43h1.5M146.29 173.69h1.5M153.43 181.54h1.5M157.89 172.55h1.5M155.12 175.35h1.5M139.77 173.51h1.5M144.47 173.42h1.5M147.35 178.69h1.5M162.03 172.89h1.5M116.41 175.13h1.5M167.99 176.18h1.5M132.78 181.61h1.5M180.55 177.56h1.5M152.66 176.88h1.5M173.63 181.40h1.5M141.82 179.36h1.5M173.29 177.78h1.5M151.71 180.61h1.5M151.67 180.32h1.5M152.31 178.65h1.5M112.83 181.57h1.5M125.77 179.63h1.5M123.97 178.66h1.5M146.18 180.24h1.5M141.90 180.60h1.5M158.35 178.42h1.5M150.60 175.74h1.5M165.26 182.39h1.5M135.72 179.42h1.5M150.58 179.92h1.5M138.31 176.60h1.5M129.77 181.98h1.5M121.96 181.70h1.5M143.42 172.71h1.5M132.77 177.03h1.5M137.76 176.51h1.5M132.26 181.27h1.5M130.48 182.85h1.5M191.15 182.11h1.5M145.22 182.55h1.5M127.68 179.05h1.5M142.01 180.38h1.5M144.78 172.51h1.5M125.56 182.57h1.5M103.04 175.50h1.5M99.91 179.00h1.5M96.39 181.47h1.5M120.43 181.54h1.5M112.53 180.09h1.5M117.60 175.48h1.5M116.36 179.33h1.5M115.95 176.11h1.5M107.48 180.29h1.5M113.73 182.45h1.5M111.76 174.54h1.5M96.89 181.07h1.5M116.56 174.69h1.5M119.44 174.17h1.5M109.53 181.05h1.5M102.39 178.11h1.5M108.48 175.84h1.5M138.97 162.13h1.5M130.67 169.46h1.5M137.81 164.39h1.5M138.68 171.82h1.5M172.04 168.25h1.5M143.77 164.30h1.5M142.36 163.28h1.5M138.49 169.19h1.5M151.69 162.74h1.5M151.79 167.28h1.5M160.39 171.25h1.5M142.40 158.56h1.5M135.28 164.38h1.5M151.16 163.76h1.5M164.94 169.85h1.5M163.09 161.69h1.5M138.27 171.10h1.5M145.11 169.83h1.5M156.94 160.67h1.5M143.98 161.59h1.5M132.50 165.99h1.5M154.87 169.91h1.5M147.09 165.44h1.5M156.37 168.36h1.5M164.59 166.99h1.5M145.21 169.67h1.5M136.25 159.59h1.5M141.49 160.78h1.5M163.51 158.58h1.5M153.48 167.31h1.5M163.56 166.14h1.5M147.27 162.69h1.5M163.02 159.50h1.5M145.41 170.34h1.5M143.23 170.20h1.5M152.04 171.15h1.5M150.43 171.40h1.5M148.82 169.09h1.5M152.86 167.96h1.5M166.26 165.95h1.5M142.81 162.67h1.5M127.81 161.79h1.5M158.26 159.77h1.5M167.72 167.84h1.5M135.60 158.53h1.5M158.85 167.36h1.5M168.66 170.18h1.5M165.45 159.85h1.5M164.77 166.20h1.5M160.70 167.73h1.5M141.52 159.20h1.5M139.38 170.72h1.5M128.40 162.18h1.5M134.41 171.58h1.5M147.07 163.20h1.5M168.39 160.99h1.5M169.10 163.85h1.5M162.01 171.94h1.5M170.53 171.11h1.5M146.69 165.36h1.5M140.52 161.65h1.5M159.08 166.81h1.5M147.32 158.97h1.5M163.32 171.96h1.5M141.85 158.69h1.5M175.66 169.49h1.5M134.02 169.49h1.5M144.73 160.38h1.5M149.67 158.79h1.5M149.50 161.95h1.5M134.81 171.96h1.5M165.01 169.77h1.5M161.50 158.82h1.5M153.11 164.45h1.5M160.87 161.16h1.5M145.86 160.94h1.5M166.70 164.24h1.5M144.36 168.88h1.5M137.46 167.81h1.5M149.88 160.26h1.5M149.63 158.82h1.5M157.60 169.25h1.5M162.43 162.72h1.5M133.89 169.59h1.5M130.23 164.19h1.5M156.68 162.90h1.5M171.96 166.75h1.5M167.89 166.87h1.5M151.18 167.64h1.5M149.38 161.95h1.5M148.68 159.83h1.5M149.92 170.81h1.5M157.62 161.99h1.5M135.84 166.91h1.5M166.54 159.46h1.5M151.09 165.81h1.5M149.28 163.78h1.5M148.82 163.89h1.5M151.16 159.83h1.5M162.11 164.52h1.5M162.86 164.01h1.5M142.53 163.75h1.5M133.48 162.29h1.5M123.26 159.41h1.5M144.94 166.42h1.5M155.61 165.34h1.5M156.53 161.87h1.5M132.93 160.13h1.5M162.76 160.88h1.5M145.35 162.37h1.5M169.86 164.03h1.5M149.59 170.24h1.5M153.84 171.24h1.5M143.03 170.41h1.5M143.68 161.63h1.5M153.76 171.33h1.5M161.72 169.00h1.5M163.88 163.28h1.5M143.44 166.60h1.5M136.04 171.73h1.5M159.50 159.06h1.5M172.19 160.22h1.5M146.45 171.92h1.5M147.36 164.11h1.5M147.13 159.43h1.5M158.24 170.52h1.5M167.39 165.50h1.5M140.34 166.94h1.5M159.72 158.43h1.5M174.47 171.11h1.5M162.13 171.16h1.5M142.74 166.04h1.5M133.34 165.61h1.5M153.96 166.71h1.5M173.33 163.86h1.5M165.21 168.23h1.5M174.68 161.98h1.5M148.45 166.12h1.5M154.46 158.66h1.5M142.40 171.01h1.5M161.68 163.36h1.5M150.87 169.29h1.5M142.73 163.52h1.5M148.27 164.66h1.5M161.94 168.61h1.5M166.58 166.73h1.5M165.21 164.92h1.5M164.86 159.74h1.5M141.12 164.18h1.5M169.68 159.94h1.5M142.12 164.04h1.5M138.75 164.34h1.5M164.49 170.12h1.5M145.82 162.74h1.5M154.08 158.45h1.5M146.98 169.11h1.5M151.35 160.98h1.5M130.16 163.75h1.5M167.20 171.02h1.5M171.99 168.84h1.5M150.70 165.40h1.5M172.38 170.43h1.5M166.75 170.92h1.5M171.71 166.91h1.5M175.86 158.86h1.5M137.29 168.51h1.5M166.15 158.74h1.5M152.17 169.61h1.5M165.37 166.60h1.5M150.56 160.14h1.5M154.17 164.30h1.5M160.88 164.06h1.5M157.76 160.95h1.5M158.14 161.43h1.5M168.03 170.31h1.5M140.99 164.55h1.5M134.81 159.27h1.5M170.84 167.98h1.5M159.49 169.99h1.5M148.13 159.39h1.5M145.06 163.09h1.5M134.00 161.35h1.5M150.48 163.34h1.5M130.62 170.55h1.5M156.43 159.66h1.5M158.49 169.07h1.5M144.98 160.53h1.5M169.09 165.25h1.5M165.27 167.03h1.5M157.03 168.97h1.5M143.75 159.67h1.5M144.98 160.60h1.5M140.95 170.07h1.5M126.94 158.72h1.5M153.94 169.40h1.5M164.44 158.84h1.5M132.77 163.57h1.5M158.88 165.04h1.5M150.15 161.96h1.5M155.21 160.57h1.5M164.04 166.42h1.5M166.99 160.34h1.5M144.03 160.02h1.5M164.35 166.27h1.5M147.58 161.96h1.5M153.81 164.08h1.5M148.81 169.90h1.5M172.96 160.38h1.5M159.90 163.04h1.5M145.42 170.71h1.5M156.28 164.77h1.5M157.95 169.06h1.5M150.37 165.82h1.5M155.34 171.47h1.5M140.12 161.90h1.5M138.64 166.51h1.5M153.76 170.75h1.5M136.54 158.77h1.5M157.60 166.35h1.5M132.59 168.36h1.5M130.82 161.60h1.5M147.95 172.02h1.5M166.56 158.98h1.5M157.14 164.55h1.5M157.16 171.11h1.5M171.00 164.28h1.5M159.89 153.98h1.5M151.67 155.96h1.5M171.10 154.01h1.5M153.96 156.71h1.5M165.18 155.46h1.5M171.85 153.47h1.5M167.25 154.05h1.5M151.88 154.13h1.5M155.06 156.79h1.5M173.31 155.75h1.5M164.94 153.96h1.5M137.36 157.09h1.5M153.58 152.94h1.5M171.45 154.41h1.5M152.40 152.69h1.5M147.62 153.60h1.5M160.38 157.60h1.5M147.18 157.21h1.5M157.30 154.70h1.5M148.42 150.23h1.5M159.04 150.33h1.5M153.71 152.79h1.5M155.96 150.86h1.5M134.27 156.55h1.5M162.33 150.72h1.5M170.84 153.04h1.5M168.87 158.29h1.5M157.13 152.56h1.5M162.76 154.81h1.5M137.55 150.80h1.5M133.79 156.29h1.5M173.33 157.78h1.5M144.86 157.40h1.5M145.85 158.26h1.5M159.48 158.01h1.5M166.33 152.25h1.5M139.61 154.79h1.5M155.64 155.98h1.5M158.53 156.53h1.5M135.00 152.94h1.5M160.82 152.15h1.5M131.57 156.08h1.5M167.30 158.08h1.5M148.73 156.49h1.5M173.24 155.77h1.5M170.65 152.02h1.5M149.15 156.38h1.5M166.17 157.36h1.5M161.29 152.22h1.5M150.40 153.79h1.5M168.06 151.55h1.5M151.21 153.46h1.5M153.19 157.89h1.5M169.91 156.21h1.5M166.13 157.76h1.5M155.91 150.41h1.5M165.74 153.75h1.5M151.95 152.33h1.5M163.23 150.09h1.5M149.42 152.41h1.5M163.02 155.02h1.5M136.60 157.79h1.5M165.82 153.12h1.5M143.10 153.34h1.5M168.79 150.15h1.5M149.28 150.46h1.5M160.59 152.32h1.5M149.04 153.00h1.5M158.05 156.04h1.5M160.62 156.92h1.5M160.60 156.10h1.5M158.74 154.29h1.5M163.29 153.80h1.5M149.14 152.21h1.5M163.55 152.12h1.5M148.28 152.54h1.5M132.66 15.57h1.5M135.87 24.84h1.5M144.80 25.37h1.5M151.59 24.48h1.5M157.31 23.05h1.5M163.02 26.62h1.5M163.20 29.83h1.5M137.30 34.29h1.5M140.87 35.71h1.5M138.55 39.64h1.5M161.42 39.64h1.5M161.42 50.33h1.5M160.52 53.01h1.5M150.70 53.01h1.5M148.38 55.68h1.5M171.60 58.89h1.5M151.06 60.67h1.5M147.13 65.49h1.5M150.16 65.13h1.5M134.08 67.81h1.5M146.05 67.81h1.5M163.92 67.81h1.5M166.24 69.05h1.5M159.09 69.59h1.5M124.80 74.05h1.5M132.30 73.16h1.5M138.19 72.62h1.5M147.84 72.62h1.5M151.06 73.16h1.5M152.84 73.69h1.5M158.20 72.62h1.5M166.24 74.05h1.5M138.55 76.72h1.5M160.88 79.04h1.5M161.77 80.82h1.5M142.66 82.60h1.5M134.98 83.50h1.5M148.02 84.74h1.5M150.16 86.17h1.5M157.84 86.88h1.5M161.42 84.74h1.5M168.03 85.10h1.5M171.60 85.10h1.5M134.08 86.88h1.5M130.51 88.67h1.5M162.67 87.95h1.5M163.20 89.74h1.5M148.91 90.09h1.5M174.28 90.98h1.5M133.19 93.30h1.5M148.91 93.30h1.5M154.63 92.23h1.5M157.31 91.88h1.5M159.99 93.30h1.5M168.03 92.77h1.5M156.42 95.09h1.5M161.77 94.55h1.5M139.44 98.65h1.5M158.20 98.65h1.5M160.88 98.65h1.5M168.92 101.15h1.5M136.76 102.93h1.5M138.55 103.47h1.5M142.12 103.47h1.5M151.06 103.47h1.5M159.99 103.47h1.5M161.77 103.47h1.5M109.06 106.14h1.5M105.84 111.67h1.5M137.28 104.89h1.5M142.10 106.14h1.5M146.57 105.43h1.5M128.71 113.27h1.5M133.71 112.56h1.5M138.53 112.56h1.5M142.10 113.27h1.5M147.46 111.49h1.5M138.00 116.84h1.5M140.32 116.84h1.5M148.36 117.37h1.5M124.78 120.05h1.5M139.42 121.83h1.5M135.85 123.61h1.5M109.06 125.40h1.5M139.07 125.75h1.5M146.57 123.97h1.5M135.85 128.96h1.5M143.00 128.96h1.5M134.07 132.53h1.5M141.21 132.88h1.5M147.46 132.17h1.5M104.05 131.64h1.5M105.84 131.64h1.5M109.95 134.67h1.5M128.71 134.67h1.5M129.60 136.45h1.5M135.85 136.98h1.5M138.53 136.09h1.5M142.64 137.52h1.5M96.19 139.30h1.5M103.34 140.55h1.5M106.91 140.02h1.5M127.81 139.30h1.5M140.32 140.55h1.5M146.57 140.55h1.5M86.73 142.33h1.5M86.73 145.90h1.5M105.48 144.65h1.5M102.80 146.79h1.5M96.55 147.68h1.5M119.77 144.12h1.5M140.32 145.01h1.5M144.78 144.12h1.5M148.36 142.33h1.5M109.06 148.93h1.5M123.35 149.47h1.5M139.42 147.68h1.5M142.10 148.22h1.5M147.46 146.79h1.5M150.51 104.47h1.5M165.35 105.45h1.5M175.79 104.47h1.5M168.86 108.88h1.5M168.29 110.76h1.5M178.89 111.57h1.5M160.14 112.63h1.5M162.75 113.45h1.5M167.64 113.45h1.5M160.71 114.43h1.5M163.56 115.24h1.5M178.08 115.24h1.5M152.55 116.22h1.5M165.84 116.22h1.5M169.43 116.22h1.5M172.94 116.22h1.5M174.98 117.29h1.5M164.54 118.10h1.5M182.32 118.92h1.5M156.63 120.80h1.5M155.81 121.94h1.5M159.89 121.94h1.5M161.93 122.59h1.5M164.38 122.59h1.5M165.03 120.55h1.5M169.43 121.94h1.5M172.69 121.94h1.5M174.16 123.00h1.5M184.76 122.43h1.5M165.35 124.06h1.5M168.86 124.39h1.5M174.16 125.04h1.5M161.93 124.88h1.5M150.92 125.86h1.5M152.14 126.27h1.5M166.82 125.45h1.5M162.34 126.27h1.5M150.51 127.41h1.5M152.14 129.04h1.5M153.37 129.04h1.5M158.67 128.22h1.5M160.30 130.27h1.5M163.97 129.86h1.5M166.01 127.41h1.5M170.49 128.22h1.5M172.12 128.22h1.5M173.35 130.67h1.5M175.39 129.04h1.5M157.85 132.71h1.5M159.48 133.53h1.5M164.78 132.71h1.5M166.82 131.90h1.5M170.90 131.90h1.5M175.79 132.71h1.5M176.61 133.53h1.5M151.74 133.53h1.5M152.96 135.16h1.5M149.29 135.98h1.5M150.92 136.39h1.5M174.57 134.76h1.5M149.70 138.02h1.5M161.11 137.20h1.5M171.72 137.20h1.5M160.30 139.24h1.5M164.38 140.06h1.5M165.60 140.47h1.5M177.02 139.24h1.5M174.16 140.06h1.5M150.51 140.88h1.5M152.14 140.47h1.5M154.59 141.69h1.5M159.08 140.47h1.5M176.20 142.10h1.5M172.53 141.69h1.5M153.77 142.92h1.5M157.85 142.51h1.5M159.48 143.33h1.5M161.52 144.14h1.5M164.78 142.10h1.5M168.86 143.33h1.5M170.08 142.92h1.5M171.72 144.14h1.5M150.51 144.55h1.5M151.74 144.96h1.5M152.96 145.61h1.5M155.41 145.61h1.5M160.71 145.37h1.5M163.56 146.18h1.5M161.93 146.59h1.5M170.90 145.37h1.5M172.53 146.18h1.5M178.24 145.78h1.5M180.28 146.59h1.5M149.29 146.18h1.5M151.33 149.04h1.5M157.04 149.04h1.5M159.48 147.41h1.5M160.71 148.22h1.5M162.75 147.82h1.5M166.01 148.63h1.5M166.82 149.86h1.5M171.72 149.04h1.5M174.98 148.22h1.5M181.09 149.04h1.5M202.84 114.70h1.5M209.63 119.69h1.5M75.02 154.97h1.5M79.62 154.97h1.5M89.31 152.74h1.5M107.58 152.24h1.5M109.44 151.87h1.5M108.45 154.97h1.5M119.39 153.73h1.5M117.89 156.47h1.5M120.63 156.47h1.5M93.04 157.71h1.5M101.37 158.08h1.5M94.53 160.94h1.5M95.77 162.44h1.5M99.50 162.44h1.5M103.23 161.81h1.5M104.47 161.19h1.5M108.20 162.19h1.5M110.69 162.44h1.5M111.93 160.57h1.5M114.42 161.81h1.5M114.66 163.06h1.5M93.29 165.54h1.5M95.15 163.93h1.5M102.61 164.92h1.5M104.47 164.92h1.5M105.09 167.41h1.5M106.96 167.41h1.5M110.69 166.17h1.5M111.93 167.41h1.5M119.14 167.41h1.5M81.48 166.41h1.5M70.67 168.65h1.5M77.38 169.27h1.5M91.05 171.14h1.5M109.44 170.52h1.5M111.93 169.90h1.5M113.79 170.52h1.5M115.66 172.38h1.5M118.14 172.38h1.5M108.20 173.01h1.5M111.31 173.01h1.5M119.39 171.14h1.5M81.86 180.46h1.5M76.51 189.41h1.5M88.07 188.17h1.5M65.95 191.65h1.5M65.70 195.01h1.5M72.78 195.01h1.5M82.10 194.63h1.5M89.56 194.13h1.5M178.24 150.62h1.5M177.87 155.60h1.5M180.36 163.68h1.5M189.68 162.68h1.5M207.45 163.68h1.5M178.49 168.65h1.5M182.22 168.65h1.5M185.95 169.90h1.5M189.68 169.90h1.5M195.55 181.40h1.5M196.75 184.70h1.5M199.05 187.50h1.5M196.75 189.60h1.5M207.85 189.30h1.5M204.15 190.50h1.5M205.05 192.30h1.5M202.75 194.20h1.5M207.85 194.00h1.5M192.05 193.50h1.5M195.35 190.70h1.5M196.25 192.10h1.5M197.65 192.60h1.5M198.55 193.50h1.5M199.55 191.60h1.5M200.85 193.00h1.5M193.95 194.00h1.5M197.15 194.00h1.5M199.95 194.00h1.5M203.65 190.70h1.5M201.85 190.70h1.5M192.75 191.50h1.5M194.75 193.00h1.5M201.45 194.60h1.5M205.75 194.40h1.5M193.25 189.50h1.5M195.65 194.80h1.5M198.25 195.00h1.5" stroke="#00f" stroke-width="1.5" fill="none"/>
<path d="M407.22 193.96h1.5M419.22 192.01h1.5M404.71 191.95h1.5M394.50 190.27h1.5M390.09 190.70h1.5M400.31 193.88h1.5M416.78 189.51h1.5M422.22 194.55h1.5M406.73 192.40h1.5M415.47 191.89h1.5M416.68 191.95h1.5M412.51 194.27h1.5M399.22 193.84h1.5M413.79 194.55h1.5M397.85 194.50h1.5M407.33 191.52h1.5M414.55 192.99h1.5M417.57 193.47h1.5M405.15 194.70h1.5M418.16 189.55h1.5M422.31 190.36h1.5M416.48 193.64h1.5M405.82 194.59h1.5M409.59 194.75h1.5M406.56 193.80h1.5M406.91 192.61h1.5M414.03 190.62h1.5M417.91 191.79h1.5M406.53 190.74h1.5M414.26 194.41h1.5M409.08 192.84h1.5M408.08 191.97h1.5M398.33 189.49h1.5M410.44 190.51h1.5M405.38 189.68h1.5M409.48 191.31h1.5M417.04 191.89h1.5M414.35 191.03h1.5M413.96 191.20h1.5M402.18 194.05h1.5M393.19 191.84h1.5M403.09 192.51h1.5M406.19 194.06h1.5M408.39 191.98h1.5M420.59 189.68h1.5M409.51 193.73h1.5M421.38 191.75h1.5M402.96 191.05h1.5M397.42 192.26h1.5M415.44 191.05h1.5M397.08 191.28h1.5M393.46 191.20h1.5M401.69 193.35h1.5M409.86 190.47h1.5M417.86 193.08h1.5M406.43 190.03h1.5M415.83 194.84h1.5M406.10 191.00h1.5M392.97 190.29h1.5M397.26 189.54h1.5M392.62 192.93h1.5M404.56 190.24h1.5M389.20 190.89h1.5M394.54 190.79h1.5M399.38 189.80h1.5M415.60 191.52h1.5M411.79 191.66h1.5M403.01 190.29h1.5M408.23 190.78h1.5M404.07 194.59h1.5M392.54 189.73h1.5M389.52 194.07h1.5M390.36 189.84h1.5M394.38 192.47h1.5M403.10 193.30h1.5M415.70 189.60h1.5M403.95 190.97h1.5M403.68 191.43h1.5M404.60 192.55h1.5M407.76 190.00h1.5M398.32 191.32h1.5M412.26 192.29h1.5M405.30 191.63h1.5M408.16 194.47h1.5M411.34 192.88h1.5M411.55 190.68h1.5M413.83 194.62h1.5M398.62 191.29h1.5M410.49 193.90h1.5M393.06 191.19h1.5M388.64 189.59h1.5M402.55 192.60h1.5M409.73 190.11h1.5M410.46 189.86h1.5M409.17 194.06h1.5M414.28 194.01h1.5M391.24 194.53h1.5M401.07 190.09h1.5M403.66 193.71h1.5M398.95 192.02h1.5M408.77 193.41h1.5M411.42 189.66h1.5M408.59 194.71h1.5M406.57 190.27h1.5M429.45 192.31h1.5M406.18 190.68h1.5M405.73 192.07h1.5M418.08 193.42h1.5M424.37 190.49h1.5M398.24 193.61h1.5M397.57 194.50h1.5M419.53 193.34h1.5M417.18 192.88h1.5M414.34 194.57h1.5M403.57 192.77h1.5M412.40 194.85h1.5M394.30 189.66h1.5M396.41 193.21h1.5M421.72 192.34h1.5M395.53 190.52h1.5M404.37 190.22h1.5M412.11 194.60h1.5M408.82 192.88h1.5M396.85 190.03h1.5M400.88 190.63h1.5M411.58 189.88h1.5M402.11 194.71h1.5M422.62 194.31h1.5M404.49 190.13h1.5M424.35 190.46h1.5M405.45 193.03h1.5M418.24 194.81h1.5M410.01 193.10h1.5M406.17 191.59h1.5M394.68 193.81h1.5M411.44 193.43h1.5M406.23 192.04h1.5M409.11 194.57h1.5M401.16 191.37h1.5M397.93 190.16h1.5M397.72 190.55h1.5M404.60 190.49h1.5M414.74 192.87h1.5M402.65 189.71h1.5M396.46 189.47h1.5M398.64 193.07h1.5M396.10 192.53h1.5M392.18 192.13h1.5M402.20 191.41h1.5M399.97 192.87h1.5M402.33 190.09h1.5M424.62 189.58h1.5M414.85 193.24h1.5M420.16 189.54h1.5M405.54 189.59h1.5M407.95 192.29h1.5M398.92 191.97h1.5M391.20 190.13h1.5M392.65 191.89h1.5M402.42 190.24h1.5M410.13 190.03h1.5M428.42 194.71h1.5M404.76 189.71h1.5M393.05 193.55h1.5M402.34 194.36h1.5M410.47 191.45h1.5M396.04 194.32h1.5M401.50 192.90h1.5M410.45 191.06h1.5M406.48 192.54h1.5M409.81 193.19h1.5M405.97 193.72h1.5M405.32 190.60h1.5M419.56 192.56h1.5M414.78 191.94h1.5M408.08 194.30h1.5M410.97 193.86h1.5M405.16 194.29h1.5M405.18 190.15h1.5M409.81 190.73h1.5M407.77 190.35h1.5M432.09 189.47h1.5M408.30 190.84h1.5M410.10 190.43h1.5M427.93 190.26h1.5M398.45 190.62h1.5M407.07 189.74h1.5M419.01 190.09h1.5M408.18 192.65h1.5M405.64 189.48h1.5M399.29 189.89h1.5M406.21 192.17h1.5M400.30 190.85h1.5M416.85 190.18h1.5M411.89 190.01h1.5M403.69 192.73h1.5M418.00 194.13h1.5M397.85 191.21h1.5M399.10 191.61h1.5M413.75 191.84h1.5M408.94 191.17h1.5M396.85 191.65h1.5M400.01 191.60h1.5M404.14 191.30h1.5M400.84 190.14h1.5M408.16 194.77h1.5M405.11 194.56h1.5M411.05 193.40h1.5M405.46 193.09h1.5M409.66 194.06h1.5M402.51 193.16h1.5M409.96 192.79h1.5M409.58 191.42h1.5M413.23 192.41h1.5M409.56 191.08h1.5M402.83 193.39h1.5M405.44 193.44h1.5M419.36 194.20h1.5M403.85 193.08h1.5M406.65 189.52h1.5M422.29 193.17h1.5M412.57 190.93h1.5M413.04 192.34h1.5M398.92 190.67h1.5M398.79 193.39h1.5M408.88 192.59h1.5M427.81 194.87h1.5M391.59 191.48h1.5M392.49 194.20h1.5M411.71 192.36h1.5M408.56 194.29h1.5M398.09 190.92h1.5M415.17 190.63h1.5M407.83 190.03h1.5M402.06 190.49h1.5M405.20 194.85h1.5M401.54 190.71h1.5M408.95 193.33h1.5M400.24 193.47h1.5M396.81 193.84h1.5M400.09 193.04h1.5M409.55 193.48h1.5M417.32 194.44h1.5M400.75 191.27h1.5M397.69 191.27h1.5M408.79 190.71h1.5M417.19 192.79h1.5M402.78 192.83h1.5M421.27 190.31h1.5M399.63 189.80h1.5M420.45 194.25h1.5M412.88 190.76h1.5M392.36 190.26h1.5M411.25 192.00h1.5M404.07 190.80h1.5M404.44 190.68h1.5M400.03 189.69h1.5M406.00 190.12h1.5M400.64 190.21h1.5M407.20 191.06h1.5M416.70 193.00h1.5M419.88 194.32h1.5M417.16 192.45h1.5M414.80 193.65h1.5M410.30 193.31h1.5M404.25 193.30h1.5M396.97 194.90h1.5M416.18 193.03h1.5M402.36 190.65h1.5M407.73 192.50h1.5M394.99 190.97h1.5M410.34 191.06h1.5M419.97 190.88h1.5M405.11 194.67h1.5M415.07 192.18h1.5M404.66 190.50h1.5M407.52 191.07h1.5M402.06 190.93h1.5M384.65 189.52h1.5M409.55 194.46h1.5M410.80 192.25h1.5M411.76 192.69h1.5M423.26 193.82h1.5M415.24 193.73h1.5M410.57 194.02h1.5M400.64 193.23h1.5M395.16 191.05h1.5M402.85 189.75h1.5M401.97 192.34h1.5M416.88 193.76h1.5M409.34 192.76h1.5M411.44 193.04h1.5M391.99 193.36h1.5M401.75 190.03h1.5M416.55 189.96h1.5M401.90 189.68h1.5M396.01 193.54h1.5M408.04 190.41h1.5M401.26 191.19h1.5M405.95 189.56h1.5M409.61 193.74h1.5M398.12 193.67h1.5M405.61 193.01h1.5M419.87 194.72h1.5M403.92 190.27h1.5M404.27 191.39h1.5M401.50 193.49h1.5M409.49 192.06h1.5M411.37 193.06h1.5M399.04 191.58h1.5M407.39 191.41h1.5M423.26 193.44h1.5M392.94 191.89h1.5M416.37 192.49h1.5M415.32 192.02h1.5M393.86 193.77h1.5M392.89 193.59h1.5M401.50 190.67h1.5M420.29 190.64h1.5M400.88 193.17h1.5M406.33 193.49h1.5M407.20 194.25h1.5M405.30 190.96h1.5M426.49 190.57h1.5M408.87 192.26h1.5M396.59 192.89h1.5M409.01 194.28h1.5M412.65 193.11h1.5M397.35 191.89h1.5M407.91 189.99h1.5M401.12 189.61h1.5M395.46 191.92h1.5M398.65 192.16h1.5M414.27 192.36h1.5M404.58 194.64h1.5M392.71 192.93h1.5M413.41 192.33h1.5M403.43 193.81h1.5M382.23 192.77h1.5M397.17 193.13h1.5M386.89 194.78h1.5M400.85 189.49h1.5M426.98 191.73h1.5M408.68 192.12h1.5M399.04 189.93h1.5M396.42 191.55h1.5M399.88 192.76h1.5M408.40 193.38h1.5M418.96 193.79h1.5M406.46 191.49h1.5M418.91 189.96h1.5M404.89 190.35h1.5M389.06 194.49h1.5M409.26 189.62h1.5M416.55 191.27h1.5M412.06 193.35h1.5M417.44 192.81h1.5M398.53 191.36h1.5M403.83 191.02h1.5M406.31 193.85h1.5M409.70 193.70h1.5M412.02 191.07h1.5M416.28 193.64h1.5M402.76 192.85h1.5M397.47 192.73h1.5M402.43 190.43h1.5M404.41 192.08h1.5M402.41 192.01h1.5M398.51 193.17h1.5M415.16 191.65h1.5M416.16 191.15h1.5M416.35 192.47h1.5M414.15 192.09h1.5M411.67 192.55h1.5M402.39 193.71h1.5M402.78 189.60h1.5M409.06 190.83h1.5M391.12 190.31h1.5M408.62 191.65h1.5M390.10 193.32h1.5M425.13 194.80h1.5M412.62 189.66h1.5M400.94 189.57h1.5M405.82 193.65h1.5M401.90 191.60h1.5M422.13 193.90h1.5M417.66 192.53h1.5M407.10 192.20h1.5M402.02 191.91h1.5M412.32 193.14h1.5M408.95 194.33h1.5M405.80 190.33h1.5M401.98 189.59h1.5M393.66 191.13h1.5M395.14 192.19h1.5M400.25 193.60h1.5M392.95 190.74h1.5M398.50 192.05h1.5M424.71 191.55h1.5M406.46 194.41h1.5M413.42 192.28h1.5M401.35 191.04h1.5M420.11 191.00h1.5M407.51 194.18h1.5M414.53 193.66h1.5M417.67 192.02h1.5M410.79 190.88h1.5M426.33 191.67h1.5M398.66 189.45h1.5M403.49 192.05h1.5M411.39 189.51h1.5M405.40 193.68h1.5M410.99 191.07h1.5M428.86 193.96h1.5M403.73 193.79h1.5M409.07 189.84h1.5M401.95 190.11h1.5M399.54 194.61h1.5M390.68 193.76h1.5M411.18 193.90h1.5M420.78 194.41h1.5M406.59 189.78h1.5M418.81 191.54h1.5M395.40 193.16h1.5M404.64 191.61h1.5M404.91 189.58h1.5M413.85 190.74h1.5M406.68 190.66h1.5M411.79 194.64h1.5M421.55 191.42h1.5M397.15 192.89h1.5M405.16 194.31h1.5M410.23 190.94h1.5M400.70 193.42h1.5M409.97 193.32h1.5M391.87 192.71h1.5M397.87 194.18h1.5M403.93 189.80h1.5M391.39 194.76h1.5M428.54 191.07h1.5M425.49 191.03h1.5M419.09 191.10h1.5M414.75 191.24h1.5M415.51 192.13h1.5M403.85 193.09h1.5M404.14 190.08h1.5M389.48 192.09h1.5M415.70 193.70h1.5M404.48 192.38h1.5M390.00 192.38h1.5M399.21 194.24h1.5M411.21 191.61h1.5M392.83 189.77h1.5M401.71 191.01h1.5M388.30 191.17h1.5M401.96 194.27h1.5M405.24 190.92h1.5M386.37 190.24h1.5M399.55 191.31h1.5M410.35 192.09h1.5M402.79 191.24h1.5M421.11 193.69h1.5M414.81 194.16h1.5M417.76 194.33h1.5M395.79 194.50h1.5M398.18 190.21h1.5M409.20 190.17h1.5M411.12 192.49h1.5M401.48 193.01h1.5M403.98 193.21h1.5M397.91 193.90h1.5M401.88 191.37h1.5M409.86 192.93h1.5M420.76 194.51h1.5M411.63 193.21h1.5M415.03 190.85h1.5M406.55 193.40h1.5M411.20 190.72h1.5M416.00 193.33h1.5M398.53 191.97h1.5M416.01 192.27h1.5M412.11 193.13h1.5M416.47 190.20h1.5M410.50 190.09h1.5M400.43 191.79h1.5M402.34 194.15h1.5M406.21 192.56h1.5M385.43 194.87h1.5M399.13 191.90h1.5M400.86 193.01h1.5M401.37 189.83h1.5M397.73 193.08h1.5M397.07 194.73h1.5M403.46 190.63h1.5M400.63 189.95h1.5M419.28 192.06h1.5M405.58 191.13h1.5M405.05 189.80h1.5M414.23 191.63h1.5M404.99 193.61h1.5M405.47 191.53h1.5M417.75 190.09h1.5M415.65 194.49h1.5M404.02 191.86h1.5M395.13 191.07h1.5M400.81 194.46h1.5M411.39 191.73h1.5M392.54 194.26h1.5M403.19 194.49h1.5M405.32 190.28h1.5M393.65 190.34h1.5M418.12 194.64h1.5M403.74 192.32h1.5M393.43 194.79h1.5M397.72 192.41h1.5M410.08 193.71h1.5M419.88 193.04h1.5M408.77 192.45h1.5M407.69 190.23h1.5M404.23 192.79h1.5M422.42 190.21h1.5M419.09 192.88h1.5M392.98 193.23h1.5M406.06 191.51h1.5M411.78 194.84h1.5M404.30 194.18h1.5M410.44 194.38h1.5M412.65 191.46h1.5M398.62 191.52h1.5M419.13 193.81h1.5M407.44 192.82h1.5M416.92 192.61h1.5M408.73 193.62h1.5M405.18 192.57h1.5M419.76 190.66h1.5M409.79 193.63h1.5M422.18 191.73h1.5M412.16 189.67h1.5M428.38 190.36h1.5M399.64 193.11h1.5M406.77 192.21h1.5M399.79 194.24h1.5M397.19 190.33h1.5M407.88 192.45h1.5M394.09 189.47h1.5M405.10 189.85h1.5M419.25 193.45h1.5M411.44 190.47h1.5M401.61 191.50h1.5M403.86 193.06h1.5M413.24 193.56h1.5M421.99 194.90h1.5M403.84 194.85h1.5M407.14 191.28h1.5M410.91 192.49h1.5M404.40 192.87h1.5M409.54 193.71h1.5M408.66 190.27h1.5M419.44 193.62h1.5M401.15 191.88h1.5M406.65 193.77h1.5M409.40 193.06h1.5M400.08 190.71h1.5M403.21 190.12h1.5M405.67 193.74h1.5M394.26 193.88h1.5M401.96 191.26h1.5M396.83 190.31h1.5M401.78 194.22h1.5M400.42 191.07h1.5M401.92 194.64h1.5M413.00 194.12h1.5M418.50 189.58h1.5M414.31 194.53h1.5M399.43 192.63h1.5M409.11 193.17h1.5M395.73 191.64h1.5M411.54 191.95h1.5M413.31 191.44h1.5M403.06 191.74h1.5M406.18 193.66h1.5M414.14 192.58h1.5M413.23 194.10h1.5M401.36 194.25h1.5M399.97 194.45h1.5M392.40 189.55h1.5M403.04 190.79h1.5M401.03 193.93h1.5M405.67 192.24h1.5M411.39 194.90h1.5M394.61 191.25h1.5M399.68 193.30h1.5M402.97 190.14h1.5M392.99 191.29h1.5M404.13 189.89h1.5M401.73 190.02h1.5M409.21 191.90h1.5M412.41 194.27h1.5M412.70 192.44h1.5M403.63 194.23h1.5M408.07 194.43h1.5M407.69 190.92h1.5M416.28 189.55h1.5M391.09 189.50h1.5M403.66 190.24h1.5M399.61 191.27h1.5M406.63 190.11h1.5M416.21 190.42h1.5M407.73 190.41h1.5M406.95 190.98h1.5M400.10 191.77h1.5M408.81 192.71h1.5M407.96 193.86h1.5M397.71 191.45h1.5M412.03 192.36h1.5M401.96 189.53h1.5M388.87 189.97h1.5M404.12 189.54h1.5M410.65 194.05h1.5M410.07 190.55h1.5M406.81 194.54h1.5M405.19 194.35h1.5M412.19 194.02h1.5M411.28 191.13h1.5M391.12 191.04h1.5M399.84 192.47h1.5M406.41 193.36h1.5M404.96 194.16h1.5M413.86 194.43h1.5M415.67 192.78h1.5M406.98 194.01h1.5M402.56 193.67h1.5M422.98 193.76h1.5M398.86 190.70h1.5M404.76 194.65h1.5M426.20 194.29h1.5M411.97 193.85h1.5M411.66 192.21h1.5M405.58 193.76h1.5M417.86 190.33h1.5M408.86 190.89h1.5M403.87 193.24h1.5M417.56 194.19h1.5M425.14 193.49h1.5M409.44 194.12h1.5M399.18 190.88h1.5M409.24 189.50h1.5M399.54 194.46h1.5M415.56 193.11h1.5M404.13 193.37h1.5M411.06 194.27h1.5M406.55 193.57h1.5M414.17 190.18h1.5M389.76 190.05h1.5M409.15 192.34h1.5M407.71 192.07h1.5M408.72 189.57h1.5M394.30 191.41h1.5M419.64 192.76h1.5M400.62 191.05h1.5M410.51 192.55h1.5M401.69 191.88h1.5M404.20 189.57h1.5M402.21 193.36h1.5M392.93 191.70h1.5M400.70 189.87h1.5M419.17 191.20h1.5M396.78 189.58h1.5M407.05 192.62h1.5M391.84 194.06h1.5M416.90 193.67h1.5M394.85 191.27h1.5M396.61 192.31h1.5M404.58 189.72h1.5M411.34 193.23h1.5M395.40 192.04h1.5M405.06 192.56h1.5M411.31 194.41h1.5M405.94 191.12h1.5M399.73 190.74h1.5M410.40 191.05h1.5M417.27 191.50h1.5M429.56 190.72h1.5M419.05 192.08h1.5M392.34 191.89h1.5M419.18 194.11h1.5M416.48 194.83h1.5M409.01 191.22h1.5M413.03 193.22h1.5M417.44 194.46h1.5M403.87 193.00h1.5M396.14 191.33h1.5M403.87 189.99h1.5M412.80 190.77h1.5M401.49 190.47h1.5M400.77 193.29h1.5M395.87 193.75h1.5M411.51 194.83h1.5M397.43 189.64h1.5M404.29 189.53h1.5M400.17 192.95h1.5M419.40 193.00h1.5M416.38 191.19h1.5M429.72 190.20h1.5M400.40 194.80h1.5M398.15 191.86h1.5M408.77 190.21h1.5M395.01 192.44h1.5M402.05 190.10h1.5M413.05 191.94h1.5M406.60 192.61h1.5M414.82 191.56h1.5M400.07 190.21h1.5M402.28 192.07h1.5M404.94 192.68h1.5M414.72 193.84h1.5M417.49 191.10h1.5M418.56 192.68h1.5M407.17 193.18h1.5M400.27 193.66h1.5M402.70 193.68h1.5M406.14 192.99h1.5M393.70 190.86h1.5M398.56 190.52h1.5M392.12 194.01h1.5M409.05 190.59h1.5M408.33 191.20h1.5M398.65 193.21h1.5M415.91 193.22h1.5M407.02 189.69h1.5M405.02 191.94h1.5M412.93 190.12h1.5M409.54 192.26h1.5M397.59 194.64h1.5M400.67 192.65h1.5M394.59 192.51h1.5M412.36 192.36h1.5M405.15 190.16h1.5M415.40 192.31h1.5M400.37 193.89h1.5M396.55 190.09h1.5M417.51 194.03h1.5M414.62 194.20h1.5M394.39 193.19h1.5M416.92 194.43h1.5M400.29 192.54h1.5M421.60 193.23h1.5M411.20 189.98h1.5M401.15 191.37h1.5M404.12 192.40h1.5M404.68 190.17h1.5M382.51 192.20h1.5M412.98 190.07h1.5M403.54 191.60h1.5M413.77 192.10h1.5M383.45 190.87h1.5M413.35 192.13h1.5M406.32 194.25h1.5M397.01 193.17h1.5M426.30 193.93h1.5M414.50 193.26h1.5M398.53 189.65h1.5M399.60 193.39h1.5M412.07 193.87h1.5M424.45 192.00h1.5M411.40 193.03h1.5M402.59 189.59h1.5M424.65 190.60h1.5M401.29 189.95h1.5M419.72 193.47h1.5M413.08 193.65h1.5M405.08 192.81h1.5M401.25 191.13h1.5M401.53 193.93h1.5M405.89 190.92h1.5M420.37 192.11h1.5M405.58 192.02h1.5M399.06 190.69h1.5M419.91 193.41h1.5M416.77 190.74h1.5M407.04 194.37h1.5M419.00 189.80h1.5M408.13 190.06h1.5M425.00 190.45h1.5M405.28 193.45h1.5M400.25 192.00h1.5M402.61 189.70h1.5M407.46 191.24h1.5M407.73 189.54h1.5M401.59 194.25h1.5M401.94 194.21h1.5M395.67 194.81h1.5M401.78 191.46h1.5M422.91 190.35h1.5M404.54 193.52h1.5M398.24 190.34h1.5M400.70 192.65h1.5M399.88 191.86h1.5M405.08 193.83h1.5M399.21 194.75h1.5M418.00 191.98h1.5M399.30 193.21h1.5M403.89 189.49h1.5M421.02 190.48h1.5M405.69 189.52h1.5M418.96 193.55h1.5M404.40 190.64h1.5M414.09 189.54h1.5M428.34 193.75h1.5M398.59 193.00h1.5M411.39 191.60h1.5M397.14 190.35h1.5M405.65 194.62h1.5M400.56 192.60h1.5M407.20 193.98h1.5M396.34 192.63h1.5M388.94 194.43h1.5M411.88 189.92h1.5M406.99 193.82h1.5M419.30 189.64h1.5M407.97 190.80h1.5M406.95 189.65h1.5M398.99 193.77h1.5M394.84 193.67h1.5M407.32 192.21h1.5M396.50 193.52h1.5M420.25 191.01h1.5M420.68 194.55h1.5M411.47 194.12h1.5M418.57 189.82h1.5M405.24 193.55h1.5M401.60 190.12h1.5M430.98 190.40h1.5M403.96 190.73h1.5M419.18 189.75h1.5M399.43 191.83h1.5M410.10 194.78h1.5M414.81 193.24h1.5M392.40 192.75h1.5M393.72 193.25h1.5M400.18 192.21h1.5M403.00 190.18h1.5M406.45 192.23h1.5M399.77 190.03h1.5M399.88 194.77h1.5M397.48 194.77h1.5M397.51 192.43h1.5M409.66 192.09h1.5M401.65 193.61h1.5M397.04 193.17h1.5M396.33 189.89h1.5M399.36 189.97h1.5M392.79 194.07h1.5M407.87 189.62h1.5M409.98 191.76h1.5M395.02 191.78h1.5M401.41 194.41h1.5M402.83 194.27h1.5M414.11 194.40h1.5M399.78 193.26h1.5M403.04 192.58h1.5M397.45 192.43h1.5M397.94 189.45h1.5M400.40 190.28h1.5M417.54 192.54h1.5M409.49 190.72h1.5M408.67 191.24h1.5M393.41 193.72h1.5M397.89 192.24h1.5M413.70 193.34h1.5M406.05 192.02h1.5M417.36 189.88h1.5M405.97 193.27h1.5M411.62 194.43h1.5M407.10 193.35h1.5M411.47 192.49h1.5M409.80 189.91h1.5M417.35 191.01h1.5M401.67 194.43h1.5M404.08 189.59h1.5M400.34 191.19h1.5M405.82 191.91h1.5M410.71 191.91h1.5M406.70 193.93h1.5M390.09 191.59h1.5M400.24 194.38h1.5M401.52 189.66h1.5M403.24 194.38h1.5M400.71 192.34h1.5M402.90 193.69h1.5M415.45 190.66h1.5M412.12 190.49h1.5M420.79 191.84h1.5M392.68 193.56h1.5M397.38 189.95h1.5M395.63 190.27h1.5M416.43 194.77h1.5M413.29 194.46h1.5M401.19 191.53h1.5M401.51 190.35h1.5M408.75 191.31h1.5M419.68 193.49h1.5M422.13 192.44h1.5M400.69 190.78h1.5M415.32 194.46h1.5M404.38 193.54h1.5M422.69 192.82h1.5M411.73 193.59h1.5M412.39 191.82h1.5M384.98 193.80h1.5M411.92 193.72h1.5M392.00 193.99h1.5M401.09 191.73h1.5M415.08 189.90h1.5M392.98 189.69h1.5M430.75 193.06h1.5M401.51 189.80h1.5M414.19 193.11h1.5M401.51 191.17h1.5M413.24 193.52h1.5M401.18 193.64h1.5M405.48 194.33h1.5M386.90 192.95h1.5M416.06 193.31h1.5M413.18 189.59h1.5M403.08 189.75h1.5M403.39 192.95h1.5M396.98 192.62h1.5M399.87 190.43h1.5M408.42 193.74h1.5M409.09 193.43h1.5M413.66 193.97h1.5M418.12 189.58h1.5M416.41 193.98h1.5M410.22 194.23h1.5M409.56 194.55h1.5M404.29 189.90h1.5M418.98 189.71h1.5M399.95 189.52h1.5M399.46 192.07h1.5M409.54 189.92h1.5M394.22 194.07h1.5M403.34 192.22h1.5M393.53 194.52h1.5M398.91 193.83h1.5M392.49 193.52h1.5M416.37 194.00h1.5M401.05 189.61h1.5M396.54 190.60h1.5M393.72 193.92h1.5M412.32 192.55h1.5M402.79 193.37h1.5M406.01 194.29h1.5M423.29 193.42h1.5M394.73 192.68h1.5M388.42 190.49h1.5M407.27 190.88h1.5M420.34 192.55h1.5M407.61 194.73h1.5M420.72 189.51h1.5M417.91 191.00h1.5M409.63 190.46h1.5M399.78 190.82h1.5M407.56 192.04h1.5M418.13 190.91h1.5M411.37 190.64h1.5M405.96 191.03h1.5M410.16 190.30h1.5M406.02 190.57h1.5M414.83 194.86h1.5M404.22 191.55h1.5M423.43 194.57h1.5M410.40 193.12h1.5M408.20 190.12h1.5M391.61 191.22h1.5M388.54 193.78h1.5M404.69 191.36h1.5M402.49 192.16h1.5M426.56 191.69h1.5M400.06 193.15h1.5M398.22 193.99h1.5M414.56 194.25h1.5M389.43 194.45h1.5M406.96 189.48h1.5M395.40 192.86h1.5M383.17 192.81h1.5M391.18 191.36h1.5M404.67 193.86h1.5M405.77 191.58h1.5M403.66 193.31h1.5M398.26 192.93h1.5M406.25 190.63h1.5M408.60 191.51h1.5M406.24 193.95h1.5M422.80 194.68h1.5M415.84 189.58h1.5M398.08 193.32h1.5M400.29 190.32h1.5M397.93 194.68h1.5M407.08 191.22h1.5M416.41 191.42h1.5M422.15 192.66h1.5M407.34 189.99h1.5M400.65 192.11h1.5M396.91 190.01h1.5M392.23 193.39h1.5M423.79 194.01h1.5M402.84 189.45h1.5M401.52 190.85h1.5M424.96 194.70h1.5M400.49 192.81h1.5M404.96 189.52h1.5M410.21 194.21h1.5M390.65 192.94h1.5M394.72 191.12h1.5M409.63 190.52h1.5M389.70 190.92h1.5M401.09 189.92h1.5M405.02 193.92h1.5M412.22 193.61h1.5M405.07 194.48h1.5M396.23 193.16h1.5M405.88 193.80h1.5M417.64 190.71h1.5M400.98 192.91h1.5M396.47 194.90h1.5M396.94 189.62h1.5M387.04 190.74h1.5M419.00 193.88h1.5M409.39 194.85h1.5M405.17 190.51h1.5M407.71 194.50h1.5M419.13 194.73h1.5M402.84 189.86h1.5M395.05 190.93h1.5M417.44 192.17h1.5M387.10 194.50h1.5M402.99 192.25h1.5M418.28 193.33h1.5M422.15 192.08h1.5M405.33 194.88h1.5M405.24 191.56h1.5M404.90 191.31h1.5M403.75 191.62h1.5M405.00 191.50h1.5M420.63 191.62h1.5M411.13 190.36h1.5M424.06 190.23h1.5M411.95 193.28h1.5M402.96 189.62h1.5M403.76 191.29h1.5M429.05 194.89h1.5M400.95 192.48h1.5M416.89 191.58h1.5M398.11 190.58h1.5M411.79 193.33h1.5M403.06 192.77h1.5M402.40 194.12h1.5M398.90 193.67h1.5M399.81 190.46h1.5M407.62 193.08h1.5M420.55 190.70h1.5M410.09 189.76h1.5M398.66 189.43h1.5M410.66 189.66h1.5M385.32 194.73h1.5M405.26 190.85h1.5M429.76 189.81h1.5M386.17 190.58h1.5M403.24 191.07h1.5M416.40 192.66h1.5M425.92 192.67h1.5M419.24 193.37h1.5M402.33 190.85h1.5M423.52 194.77h1.5M422.77 194.66h1.5M403.25 192.17h1.5M406.93 193.44h1.5M398.63 192.82h1.5M403.50 191.39h1.5M420.74 193.40h1.5M396.41 192.24h1.5M418.78 192.12h1.5M409.83 194.46h1.5M410.08 189.57h1.5M401.16 190.43h1.5M414.22 194.32h1.5M404.94 192.90h1.5M404.50 190.81h1.5M392.86 191.37h1.5M406.39 194.56h1.5M402.90 194.36h1.5M415.21 191.99h1.5M407.43 194.81h1.5M405.35 191.44h1.5M401.65 190.37h1.5M400.96 190.02h1.5M399.98 190.68h1.5M413.40 194.64h1.5M393.90 193.71h1.5M393.76 192.78h1.5M408.64 189.73h1.5M421.12 190.64h1.5M409.36 192.07h1.5M404.38 193.93h1.5M428.36 191.71h1.5M409.20 193.12h1.5M401.12 192.91h1.5M407.63 189.61h1.5M416.52 193.11h1.5M402.63 192.37h1.5M414.27 192.87h1.5M402.92 193.78h1.5M407.23 194.74h1.5M408.98 193.45h1.5M385.36 193.74h1.5M418.75 193.72h1.5M411.80 193.90h1.5M410.19 191.19h1.5M407.38 192.71h1.5M403.52 192.84h1.5M419.72 194.75h1.5M405.46 194.76h1.5M414.49 189.53h1.5M391.33 190.03h1.5M426.27 190.11h1.5M407.48 192.31h1.5M408.26 190.32h1.5M396.91 191.34h1.5M397.90 194.09h1.5M409.52 191.77h1.5M378.16 191.78h1.5M418.31 193.41h1.5M398.94 191.56h1.5M398.47 191.64h1.5M405.29 194.02h1.5M424.96 194.27h1.5M407.08 191.39h1.5M416.39 190.72h1.5M394.58 191.28h1.5M399.99 191.75h1.5M414.04 191.37h1.5M395.43 192.06h1.5M383.16 192.77h1.5M399.14 194.25h1.5M401.77 192.03h1.5M403.01 189.45h1.5M412.16 190.97h1.5M411.36 194.17h1.5M401.26 191.39h1.5M410.53 193.85h1.5M403.87 191.51h1.5M405.87 189.63h1.5M397.04 189.77h1.5M411.68 192.34h1.5M402.18 194.54h1.5M417.79 193.11h1.5M393.36 192.88h1.5M416.76 192.39h1.5M395.33 193.10h1.5M409.40 190.16h1.5M395.87 191.47h1.5M397.51 189.55h1.5M412.39 192.27h1.5M391.57 193.41h1.5M414.63 190.99h1.5M427.34 191.99h1.5M412.46 190.54h1.5M392.34 194.03h1.5M411.76 192.25h1.5M404.34 189.57h1.5M406.79 194.33h1.5M405.07 193.83h1.5M416.43 193.58h1.5M423.23 191.62h1.5M408.67 190.86h1.5M420.33 191.91h1.5M401.42 193.18h1.5M430.64 189.79h1.5M397.58 194.35h1.5M396.47 193.21h1.5M402.44 193.30h1.5M414.11 193.46h1.5M416.00 194.08h1.5M392.62 189.61h1.5M408.03 189.64h1.5M409.79 191.57h1.5M403.17 193.32h1.5M394.08 190.11h1.5M391.84 190.81h1.5M404.02 190.55h1.5M411.08 191.07h1.5M408.02 194.84h1.5M405.03 190.87h1.5M399.16 192.75h1.5M405.37 191.52h1.5M406.03 193.58h1.5M404.95 189.78h1.5M396.66 190.93h1.5M401.91 189.87h1.5M403.75 191.44h1.5M388.05 192.66h1.5M405.29 189.93h1.5M407.31 190.10h1.5M406.95 193.90h1.5M397.20 191.80h1.5M403.33 194.61h1.5M408.40 194.86h1.5M414.28 194.22h1.5M408.64 190.22h1.5M394.67 193.90h1.5M412.88 194.53h1.5M422.09 189.90h1.5M403.56 194.38h1.5M384.13 192.23h1.5M414.65 192.60h1.5M416.88 192.04h1.5M406.02 194.31h1.5M402.42 192.29h1.5M418.14 194.25h1.5M414.77 192.85h1.5M405.92 191.00h1.5M404.66 194.09h1.5M408.19 194.90h1.5M417.17 191.35h1.5M407.61 190.20h1.5M396.33 194.05h1.5M400.97 194.51h1.5M407.80 193.93h1.5M410.21 194.33h1.5M401.32 192.05h1.5M414.08 189.45h1.5M400.80 191.85h1.5M416.48 194.28h1.5M424.03 193.67h1.5M414.85 190.58h1.5M407.01 192.01h1.5M412.12 192.16h1.5M388.19 190.62h1.5M421.37 192.79h1.5M398.50 194.02h1.5M397.36 194.15h1.5M401.99 192.10h1.5M397.25 189.46h1.5M404.95 191.38h1.5M402.58 190.61h1.5M404.38 191.06h1.5M416.96 191.08h1.5M408.84 194.62h1.5M399.82 192.62h1.5M403.18 190.97h1.5M397.82 194.73h1.5M415.10 194.87h1.5M395.53 191.68h1.5M401.23 193.93h1.5M421.80 191.82h1.5M402.11 194.87h1.5M405.95 194.69h1.5M409.63 194.80h1.5M391.13 191.65h1.5M406.38 191.53h1.5M414.76 191.89h1.5M406.23 189.99h1.5M410.73 193.41h1.5M397.28 193.29h1.5M405.09 190.38h1.5M402.14 191.80h1.5M404.78 193.08h1.5M393.74 192.95h1.5M399.56 193.25h1.5M409.44 192.11h1.5M399.45 193.15h1.5M410.07 192.83h1.5M420.59 191.40h1.5M407.23 191.81h1.5M405.53 192.12h1.5M410.99 194.77h1.5M397.44 191.85h1.5M400.64 192.72h1.5M395.99 193.47h1.5M397.89 190.58h1.5M422.56 191.08h1.5M398.55 189.88h1.5M404.84 194.44h1.5M402.07 192.81h1.5M401.39 190.79h1.5M402.51 193.95h1.5M403.14 193.79h1.5M408.24 193.19h1.5M402.47 194.70h1.5M408.91 191.14h1.5M403.66 190.57h1.5M402.55 194.05h1.5M403.34 194.29h1.5M422.50 191.34h1.5M395.28 189.88h1.5M403.79 189.59h1.5M412.01 191.79h1.5M410.46 191.89h1.5M397.06 189.44h1.5M396.19 194.55h1.5M404.55 192.77h1.5M416.90 191.10h1.5M412.53 190.13h1.5M404.51 191.05h1.5M402.22 192.20h1.5M403.27 192.28h1.5M403.75 189.92h1.5M393.80 190.80h1.5M393.85 193.78h1.5M404.43 189.82h1.5M424.49 190.44h1.5M407.21 191.48h1.5M390.98 190.49h1.5M396.21 190.90h1.5M404.45 193.02h1.5M397.02 191.04h1.5M407.16 192.80h1.5M399.16 194.73h1.5M398.70 192.79h1.5M394.43 191.93h1.5M409.18 190.70h1.5M408.23 192.00h1.5M408.92 194.25h1.5M411.83 192.82h1.5M404.06 190.60h1.5M417.33 193.00h1.5M396.92 191.14h1.5M412.63 193.17h1.5M401.87 193.87h1.5M401.30 189.94h1.5M399.74 194.35h1.5M410.87 190.67h1.5M407.12 191.36h1.5M416.40 194.60h1.5M398.06 194.82h1.5M407.38 193.53h1.5M397.76 191.14h1.5M410.70 190.65h1.5M419.89 192.89h1.5M397.90 190.09h1.5M416.68 194.29h1.5M397.44 190.63h1.5M420.74 191.03h1.5M407.10 193.03h1.5M411.26 189.50h1.5M396.90 192.97h1.5M422.18 193.51h1.5M404.85 191.38h1.5M402.01 191.91h1.5M415.72 193.97h1.5M399.54 192.98h1.5M403.57 190.44h1.5M402.72 193.04h1.5M399.46 190.69h1.5M416.87 191.70h1.5M423.02 190.69h1.5M398.20 193.64h1.5M421.94 190.10h1.5M417.00 194.27h1.5M402.93 191.70h1.5M412.42 189.61h1.5M426.40 194.16h1.5M400.77 194.29h1.5M401.38 193.79h1.5M397.94 194.73h1.5M427.29 191.16h1.5M416.37 192.03h1.5M399.57 193.45h1.5M404.79 191.01h1.5M412.80 192.10h1.5M403.91 193.33h1.5M417.98 193.75h1.5M406.68 193.23h1.5M419.00 190.23h1.5M409.66 189.43h1.5M408.42 192.89h1.5M401.39 191.56h1.5M409.74 190.77h1.5M414.69 193.49h1.5M393.69 191.17h1.5M412.20 192.45h1.5M419.61 189.88h1.5M415.96 194.04h1.5M410.72 194.40h1.5M404.86 194.65h1.5M397.91 192.55h1.5M399.27 192.54h1.5M403.62 193.86h1.5M398.09 190.49h1.5M405.33 190.90h1.5M396.73 190.13h1.5M393.60 193.29h1.5M398.11 192.24h1.5M408.08 192.54h1.5M379.58 191.07h1.5M430.77 194.17h1.5M417.13 194.09h1.5M378.87 193.39h1.5M397.04 192.28h1.5M423.59 191.10h1.5M377.70 191.55h1.5M384.38 191.93h1.5M394.25 194.27h1.5M396.05 193.76h1.5M409.73 193.21h1.5M408.53 192.15h1.5M406.05 194.13h1.5M418.14 193.85h1.5M409.81 192.75h1.5M384.55 191.02h1.5M419.48 193.97h1.5M376.11 192.77h1.5M386.49 191.06h1.5M411.59 189.56h1.5M383.31 189.82h1.5M415.08 193.91h1.5M386.75 192.27h1.5M410.38 191.59h1.5M397.55 191.88h1.5M395.00 189.11h1.5M388.85 188.56h1.5M402.19 187.99h1.5M399.90 187.81h1.5M397.82 184.31h1.5M406.13 184.77h1.5M411.97 187.38h1.5M399.82 185.76h1.5M388.36 189.18h1.5M390.91 184.83h1.5M397.52 183.87h1.5M403.33 188.25h1.5M405.01 185.33h1.5M409.78 187.22h1.5M424.21 184.88h1.5M396.85 188.48h1.5M414.78 184.13h1.5M403.69 184.87h1.5M406.85 183.33h1.5M402.49 186.46h1.5M415.38 186.81h1.5M413.25 187.72h1.5M419.28 186.43h1.5M424.90 188.21h1.5M394.37 184.62h1.5M404.72 183.40h1.5M414.08 184.49h1.5M415.15 186.60h1.5M410.94 185.91h1.5M399.99 185.38h1.5M424.97 187.17h1.5M398.27 186.29h1.5M414.83 184.09h1.5M402.37 187.03h1.5M403.59 188.96h1.5M414.24 185.52h1.5M398.94 188.26h1.5M413.36 186.35h1.5M406.92 185.82h1.5M397.20 189.10h1.5M405.31 184.12h1.5M408.18 187.60h1.5M412.23 183.21h1.5M416.16 189.19h1.5M394.23 187.99h1.5M399.18 185.96h1.5M399.46 185.74h1.5M393.82 189.34h1.5M423.89 185.80h1.5M401.75 184.87h1.5M403.08 185.74h1.5M402.12 187.45h1.5M398.16 187.42h1.5M414.07 188.95h1.5M406.94 187.52h1.5M399.88 187.78h1.5M402.86 184.18h1.5M409.27 187.67h1.5M408.36 184.39h1.5M413.50 186.76h1.5M417.30 186.28h1.5M401.31 186.19h1.5M397.26 187.86h1.5M401.48 188.40h1.5M406.66 186.40h1.5M400.32 187.52h1.5M408.32 183.15h1.5M395.20 188.37h1.5M405.03 186.03h1.5M408.42 185.32h1.5M398.32 185.35h1.5M412.35 184.36h1.5M420.54 188.29h1.5M379.83 186.66h1.5M398.70 187.82h1.5M403.69 189.31h1.5M412.35 183.88h1.5M396.86 183.53h1.5M406.76 183.28h1.5M418.37 186.62h1.5M407.98 187.79h1.5M400.62 184.62h1.5M400.38 187.43h1.5M407.47 183.91h1.5M409.40 183.44h1.5M408.73 188.84h1.5M405.35 187.13h1.5M387.24 184.43h1.5M398.29 185.50h1.5M402.56 187.16h1.5M406.70 184.08h1.5M410.12 189.18h1.5M399.90 183.17h1.5M411.62 185.40h1.5M419.54 188.64h1.5M409.80 185.44h1.5M412.37 188.84h1.5M401.62 184.32h1.5M396.81 185.30h1.5M409.56 184.48h1.5M408.61 185.26h1.5M414.81 183.10h1.5M402.24 186.73h1.5M396.47 183.80h1.5M396.57 187.18h1.5M407.09 187.01h1.5M388.47 186.73h1.5M416.83 187.54h1.5M401.25 186.90h1.5M404.65 185.82h1.5M402.40 186.18h1.5M419.07 183.21h1.5M393.68 185.85h1.5M411.21 184.11h1.5M408.48 187.65h1.5M415.51 187.70h1.5M412.55 188.29h1.5M395.93 186.17h1.5M391.19 184.31h1.5M386.65 186.26h1.5M401.90 184.97h1.5M408.87 189.12h1.5M405.84 187.50h1.5M401.09 183.26h1.5M409.01 184.17h1.5M392.57 187.34h1.5M416.02 184.02h1.5M418.02 184.51h1.5M415.66 183.53h1.5M411.12 186.35h1.5M420.60 185.53h1.5M392.58 188.98h1.5M395.73 188.03h1.5M404.68 184.67h1.5M404.50 184.68h1.5M401.70 188.87h1.5M409.19 189.25h1.5M401.83 186.03h1.5M419.57 186.49h1.5M405.07 185.16h1.5M384.68 189.13h1.5M400.94 187.85h1.5M398.48 188.22h1.5M392.24 186.36h1.5M413.29 185.01h1.5M396.16 183.77h1.5M388.82 188.71h1.5M400.95 189.39h1.5M421.36 183.48h1.5M404.82 189.42h1.5M422.05 184.77h1.5M410.64 189.11h1.5M421.67 184.65h1.5M410.85 184.62h1.5M410.17 185.44h1.5M379.61 186.55h1.5M392.78 185.64h1.5M392.66 189.11h1.5M401.80 186.23h1.5M413.17 183.26h1.5M411.08 186.29h1.5M409.80 187.22h1.5M387.99 186.05h1.5M395.58 188.87h1.5M402.49 188.22h1.5M408.76 185.84h1.5M405.39 185.21h1.5M396.43 187.23h1.5M391.65 185.29h1.5M413.10 185.16h1.5M395.60 186.20h1.5M402.59 187.71h1.5M404.10 188.05h1.5M408.26 188.54h1.5M397.69 188.59h1.5M393.92 187.75h1.5M402.38 183.72h1.5M396.65 185.40h1.5M405.34 185.90h1.5M391.30 186.23h1.5M400.70 188.98h1.5M393.39 189.34h1.5M424.19 187.32h1.5M388.87 186.32h1.5M399.66 186.39h1.5M401.33 184.25h1.5M399.31 183.10h1.5M393.27 186.62h1.5M396.01 187.62h1.5M402.54 184.40h1.5M417.98 186.71h1.5M416.41 188.00h1.5M421.32 188.83h1.5M400.31 189.00h1.5M406.51 184.40h1.5M417.25 184.31h1.5M410.29 183.99h1.5M407.35 185.98h1.5M406.25 184.37h1.5M413.31 186.97h1.5M400.79 185.14h1.5M408.27 186.99h1.5M398.47 183.37h1.5M412.42 188.48h1.5M410.60 188.54h1.5M405.11 183.92h1.5M394.00 184.39h1.5M404.17 186.95h1.5M420.32 185.41h1.5M400.44 187.88h1.5M408.11 188.58h1.5M390.22 186.79h1.5M395.96 184.86h1.5M404.58 184.22h1.5M413.26 188.39h1.5M412.53 183.16h1.5M399.75 188.41h1.5M422.52 189.16h1.5M381.35 184.10h1.5M392.09 185.66h1.5M414.79 185.09h1.5M416.82 186.11h1.5M420.99 188.42h1.5M397.36 183.58h1.5M392.83 188.80h1.5M392.22 186.29h1.5M396.50 187.51h1.5M408.70 189.40h1.5M401.28 186.92h1.5M401.28 183.90h1.5M410.43 183.39h1.5M402.80 183.53h1.5M406.18 187.64h1.5M418.46 184.86h1.5M398.64 183.24h1.5M405.46 186.68h1.5M398.06 185.39h1.5M411.48 186.81h1.5M394.67 186.21h1.5M396.66 187.20h1.5M410.77 183.43h1.5M387.40 186.86h1.5M421.75 185.19h1.5M410.45 185.65h1.5M403.10 188.56h1.5M401.59 187.56h1.5M409.38 186.88h1.5M408.40 188.03h1.5M396.19 184.52h1.5M405.92 186.32h1.5M397.33 185.24h1.5M400.27 183.57h1.5M404.46 183.79h1.5M405.33 188.85h1.5M402.10 183.07h1.5M403.88 186.50h1.5M401.18 186.90h1.5M402.03 184.32h1.5M419.32 184.42h1.5M418.10 185.96h1.5M397.16 184.87h1.5M386.34 189.20h1.5M412.35 184.09h1.5M422.20 186.97h1.5M402.90 187.36h1.5M408.43 188.99h1.5M405.13 187.62h1.5M408.05 187.97h1.5M400.64 184.11h1.5M404.80 184.51h1.5M402.96 183.59h1.5M402.60 185.52h1.5M406.58 183.10h1.5M393.29 184.39h1.5M415.40 188.36h1.5M405.94 187.98h1.5M406.91 184.17h1.5M399.05 189.08h1.5M387.95 185.34h1.5M404.04 186.73h1.5M401.00 184.28h1.5M384.48 184.01h1.5M415.81 188.47h1.5M419.13 183.23h1.5M402.46 185.38h1.5M409.37 188.07h1.5M418.84 187.75h1.5M410.78 188.93h1.5M380.77 186.19h1.5M416.46 183.06h1.5M389.28 183.26h1.5M400.89 184.36h1.5M419.54 183.54h1.5M397.89 187.68h1.5M392.02 185.08h1.5M403.69 186.71h1.5M402.15 183.41h1.5M386.56 189.30h1.5M418.28 185.88h1.5M404.24 188.85h1.5M403.13 188.36h1.5M404.99 189.24h1.5M405.43 185.47h1.5M416.95 188.23h1.5M402.71 188.82h1.5M399.20 186.30h1.5M408.72 183.78h1.5M407.02 186.85h1.5M410.73 187.89h1.5M397.12 186.06h1.5M408.79 189.22h1.5M409.78 185.27h1.5M395.85 185.27h1.5M409.33 186.47h1.5M404.23 184.98h1.5M417.70 185.73h1.5M420.08 184.30h1.5M407.48 184.84h1.5M395.00 183.17h1.5M404.17 183.70h1.5M397.05 188.07h1.5M397.63 184.98h1.5M416.10 187.65h1.5M409.59 187.62h1.5M401.86 185.20h1.5M395.52 183.43h1.5M406.24 183.60h1.5M416.87 187.61h1.5M409.85 185.00h1.5M406.49 184.60h1.5M406.70 184.35h1.5M417.07 185.97h1.5M412.51 184.07h1.5M406.19 187.66h1.5M387.14 184.12h1.5M411.10 183.46h1.5M406.42 187.21h1.5M404.39 189.03h1.5M415.25 184.91h1.5M398.14 188.88h1.5M407.55 186.21h1.5M405.93 183.67h1.5M392.67 184.59h1.5M403.02 183.08h1.5M405.91 188.76h1.5M414.87 185.94h1.5M409.76 184.77h1.5M404.63 188.63h1.5M411.78 188.22h1.5M387.27 184.71h1.5M401.22 187.39h1.5M398.28 188.45h1.5M409.48 184.74h1.5M420.89 188.83h1.5M411.46 188.48h1.5M413.88 189.28h1.5M412.44 183.46h1.5M419.78 187.53h1.5M395.49 188.48h1.5M409.27 184.31h1.5M397.75 184.57h1.5M400.78 189.21h1.5M411.42 189.08h1.5M412.67 183.72h1.5M403.98 189.42h1.5M415.01 183.54h1.5M404.79 183.79h1.5M403.88 186.81h1.5M405.21 188.71h1.5M405.58 186.44h1.5M415.54 185.53h1.5M414.72 184.60h1.5M401.64 187.97h1.5M403.40 183.72h1.5M400.94 183.13h1.5M409.90 184.80h1.5M408.14 185.88h1.5M409.40 186.59h1.5M395.84 184.15h1.5M407.54 183.73h1.5M399.95 187.73h1.5M396.35 188.47h1.5M405.32 188.81h1.5M402.20 187.02h1.5M409.44 186.98h1.5M409.25 185.57h1.5M404.71 186.90h1.5M409.79 185.41h1.5M407.67 187.61h1.5M404.44 183.42h1.5M398.31 185.74h1.5M413.95 185.51h1.5M413.37 184.09h1.5M414.47 185.05h1.5M396.94 187.15h1.5M396.94 188.06h1.5M406.90 189.04h1.5M412.89 187.37h1.5M405.30 188.94h1.5M415.18 185.83h1.5M396.71 188.73h1.5M410.20 183.69h1.5M389.29 188.96h1.5M398.41 183.53h1.5M396.28 187.72h1.5M410.55 184.69h1.5M400.09 187.38h1.5M405.08 185.05h1.5M412.97 185.67h1.5M400.02 189.28h1.5M413.40 184.74h1.5M397.27 185.05h1.5M416.95 185.35h1.5M397.00 186.58h1.5M395.28 184.78h1.5M408.81 183.72h1.5M417.62 184.40h1.5M390.38 188.00h1.5M414.04 185.46h1.5M415.76 186.82h1.5M408.28 189.01h1.5M393.68 187.74h1.5M396.62 188.88h1.5M409.36 184.92h1.5M386.81 188.30h1.5M415.03 185.49h1.5M421.06 188.11h1.5M394.16 186.63h1.5M395.40 183.67h1.5M411.40 183.26h1.5M399.19 184.32h1.5M411.12 184.06h1.5M401.24 186.65h1.5M400.76 186.23h1.5M403.91 184.30h1.5M411.06 184.78h1.5M410.58 186.38h1.5M404.51 187.03h1.5M417.76 186.94h1.5M419.12 183.17h1.5M412.31 184.69h1.5M393.49 188.56h1.5M399.61 188.01h1.5M403.29 188.88h1.5M409.73 183.72h1.5M417.17 183.14h1.5M399.99 185.86h1.5M416.49 187.78h1.5M395.13 187.66h1.5M407.95 186.55h1.5M401.40 189.38h1.5M402.87 186.98h1.5M416.40 183.94h1.5M401.89 187.73h1.5M405.88 188.76h1.5M420.94 188.33h1.5M407.45 189.13h1.5M393.62 187.83h1.5M396.10 186.59h1.5M400.98 184.76h1.5M407.22 186.71h1.5M407.61 188.82h1.5M390.88 184.18h1.5M395.61 183.81h1.5M394.34 185.22h1.5M404.81 185.06h1.5M408.46 186.79h1.5M403.24 184.05h1.5M409.59 186.73h1.5M403.42 187.20h1.5M405.75 188.54h1.5M418.42 187.57h1.5M412.21 189.00h1.5M400.57 185.85h1.5M402.23 184.88h1.5M415.52 184.50h1.5M404.76 188.80h1.5M399.37 187.83h1.5M409.17 183.93h1.5M394.61 183.60h1.5M407.12 183.94h1.5M400.96 187.10h1.5M408.22 186.88h1.5M425.41 187.30h1.5M407.43 187.13h1.5M396.35 186.92h1.5M391.00 188.99h1.5M406.33 187.02h1.5M402.80 186.25h1.5M393.90 184.25h1.5M400.46 184.83h1.5M404.94 187.36h1.5M395.65 185.81h1.5M403.64 185.36h1.5M409.36 183.24h1.5M399.07 186.66h1.5M417.23 185.43h1.5M397.66 184.99h1.5M395.69 185.46h1.5M414.93 188.06h1.5M401.41 185.35h1.5M398.99 184.72h1.5M397.26 186.51h1.5M408.94 187.83h1.5M399.52 183.57h1.5M400.92 186.26h1.5M389.91 187.75h1.5M393.37 184.70h1.5M401.54 186.52h1.5M393.10 183.04h1.5M400.81 188.67h1.5M414.76 186.57h1.5M405.80 184.81h1.5M414.73 183.07h1.5M396.71 185.82h1.5M410.30 186.03h1.5M401.17 184.96h1.5M411.74 189.07h1.5M395.52 189.38h1.5M405.84 187.27h1.5M413.62 187.30h1.5M406.55 188.64h1.5M407.36 184.07h1.5M402.42 183.87h1.5M385.02 186.86h1.5M397.70 187.05h1.5M398.56 186.29h1.5M413.27 184.28h1.5M405.96 187.28h1.5M396.44 185.78h1.5M413.39 184.36h1.5M408.57 184.85h1.5M391.37 188.91h1.5M416.95 186.13h1.5M408.55 183.71h1.5M430.79 183.90h1.5M414.68 189.04h1.5M391.84 185.80h1.5M415.50 184.22h1.5M406.94 186.93h1.5M401.59 185.31h1.5M407.81 185.31h1.5M410.86 189.10h1.5M401.93 184.55h1.5M397.14 185.83h1.5M410.64 186.67h1.5M408.26 188.02h1.5M395.02 185.71h1.5M416.94 183.69h1.5M402.60 189.20h1.5M422.35 185.33h1.5M418.56 186.36h1.5M403.64 188.18h1.5M412.36 187.81h1.5M396.30 189.16h1.5M406.57 185.15h1.5M389.16 184.52h1.5M395.50 184.22h1.5M404.31 187.34h1.5M410.55 185.97h1.5M412.84 185.60h1.5M415.50 187.74h1.5M414.33 185.05h1.5M400.94 185.94h1.5M404.03 183.85h1.5M399.51 183.59h1.5M405.11 189.07h1.5M389.89 185.47h1.5M398.01 183.95h1.5M417.94 188.82h1.5M406.35 187.71h1.5M399.11 189.17h1.5M411.13 186.02h1.5M407.38 188.81h1.5M404.35 185.89h1.5M401.67 189.28h1.5M396.25 188.26h1.5M404.53 187.15h1.5M405.83 186.09h1.5M405.03 186.20h1.5M418.65 186.42h1.5M404.97 187.90h1.5M407.77 184.23h1.5M416.72 186.37h1.5M412.72 187.36h1.5M387.79 187.01h1.5M404.22 183.09h1.5M396.22 184.45h1.5M398.36 183.98h1.5M413.75 184.19h1.5M419.80 189.41h1.5M408.86 188.13h1.5M385.27 185.51h1.5M400.79 189.25h1.5M402.16 188.62h1.5M400.71 187.83h1.5M419.79 185.94h1.5M409.25 188.02h1.5M411.19 188.79h1.5M405.44 185.21h1.5M390.13 187.64h1.5M394.12 184.96h1.5M376.44 187.46h1.5M395.47 188.12h1.5M386.28 184.45h1.5M388.87 184.28h1.5M376.32 184.21h1.5M431.51 185.10h1.5M389.37 189.03h1.5M399.21 183.64h1.5M376.42 183.04h1.5M428.47 185.43h1.5M377.66 189.34h1.5M399.42 188.82h1.5M421.68 188.59h1.5M421.93 185.14h1.5M409.01 185.72h1.5M402.01 188.27h1.5M385.07 183.59h1.5M410.53 188.14h1.5M402.88 176.58h1.5M405.84 173.88h1.5M413.71 180.60h1.5M391.39 178.72h1.5M392.10 178.53h1.5M393.99 176.30h1.5M399.68 172.16h1.5M404.16 179.92h1.5M407.06 181.74h1.5M398.87 181.54h1.5M412.54 172.76h1.5M402.66 174.29h1.5M409.86 173.28h1.5M415.79 179.30h1.5M412.39 181.89h1.5M402.69 177.32h1.5M404.49 177.35h1.5M408.33 177.43h1.5M410.46 180.73h1.5M396.21 172.87h1.5M396.72 178.57h1.5M400.60 175.59h1.5M412.13 176.35h1.5M406.42 173.24h1.5M404.25 173.90h1.5M394.23 181.72h1.5M394.56 180.63h1.5M407.36 175.80h1.5M396.87 177.38h1.5M411.30 173.22h1.5M398.45 180.76h1.5M406.13 178.81h1.5M409.81 174.96h1.5M408.65 181.11h1.5M404.79 176.92h1.5M419.21 181.99h1.5M404.38 177.77h1.5M407.84 176.72h1.5M402.50 178.22h1.5M411.77 180.82h1.5M413.07 173.18h1.5M412.93 172.69h1.5M406.98 181.51h1.5M411.34 180.80h1.5M397.40 179.99h1.5M402.17 178.26h1.5M409.43 175.29h1.5M388.41 178.17h1.5M392.94 175.70h1.5M409.67 181.15h1.5M406.24 172.95h1.5M402.99 178.92h1.5M403.45 173.46h1.5M414.89 174.34h1.5M408.07 178.56h1.5M402.31 174.22h1.5M393.89 175.23h1.5M405.83 178.12h1.5M396.40 182.16h1.5M403.54 180.34h1.5M399.30 181.67h1.5M413.41 176.68h1.5M399.63 177.88h1.5M404.78 174.87h1.5M414.36 173.14h1.5M388.17 180.06h1.5M401.06 181.59h1.5M392.94 174.87h1.5M415.56 181.12h1.5M407.89 181.30h1.5M404.45 173.53h1.5M406.16 178.51h1.5M410.20 177.58h1.5M408.96 176.38h1.5M405.96 173.61h1.5M411.50 178.78h1.5M407.76 172.81h1.5M418.23 177.51h1.5M397.01 177.01h1.5M402.72 177.62h1.5M410.31 178.70h1.5M410.69 176.30h1.5M401.39 180.53h1.5M414.01 182.08h1.5M411.50 178.31h1.5M416.64 174.11h1.5M403.29 175.58h1.5M413.35 179.75h1.5M404.73 181.52h1.5M407.76 179.82h1.5M410.42 179.85h1.5M402.14 181.96h1.5M402.99 178.15h1.5M416.97 176.23h1.5M398.04 177.79h1.5M409.00 182.82h1.5M414.26 181.44h1.5M415.33 178.29h1.5M404.06 177.23h1.5M397.70 178.42h1.5M412.64 179.16h1.5M401.18 174.86h1.5M405.27 177.44h1.5M399.75 173.90h1.5M394.63 172.14h1.5M400.58 177.63h1.5M403.16 176.04h1.5M391.72 173.93h1.5M414.46 174.89h1.5M403.14 181.63h1.5M415.87 179.14h1.5M412.70 177.45h1.5M400.84 180.07h1.5M404.87 178.03h1.5M401.67 172.55h1.5M404.92 174.99h1.5M405.69 178.74h1.5M407.63 178.43h1.5M407.93 173.68h1.5M406.17 180.49h1.5M400.45 175.33h1.5M393.34 175.31h1.5M406.51 180.65h1.5M403.55 179.15h1.5M409.43 177.56h1.5M400.45 179.46h1.5M406.78 172.97h1.5M397.83 176.52h1.5M407.60 181.81h1.5M403.06 178.64h1.5M407.84 181.66h1.5M422.16 178.09h1.5M410.45 174.93h1.5M404.29 178.39h1.5M406.99 175.75h1.5M405.34 179.95h1.5M404.87 181.34h1.5M405.58 179.65h1.5M405.22 174.25h1.5M405.11 181.15h1.5M411.73 178.00h1.5M411.56 175.42h1.5M416.55 177.04h1.5M408.32 181.10h1.5M408.05 177.55h1.5M420.78 172.90h1.5M394.49 178.63h1.5M406.54 181.45h1.5M408.32 176.55h1.5M409.31 177.11h1.5M400.44 173.90h1.5M402.30 175.29h1.5M394.39 174.82h1.5M401.24 176.93h1.5M390.97 178.51h1.5M410.23 175.55h1.5M403.72 173.11h1.5M397.53 181.24h1.5M414.20 172.32h1.5M405.03 175.00h1.5M397.77 173.21h1.5M408.08 177.71h1.5M401.42 181.47h1.5M390.70 180.57h1.5M405.52 176.56h1.5M414.92 181.11h1.5M392.23 173.04h1.5M401.75 180.22h1.5M409.57 175.67h1.5M406.94 176.36h1.5M410.87 180.01h1.5M403.21 180.88h1.5M413.56 182.67h1.5M405.13 178.73h1.5M404.40 173.17h1.5M407.65 177.05h1.5M402.93 178.99h1.5M402.69 175.70h1.5M401.61 175.63h1.5M398.92 174.91h1.5M399.62 176.31h1.5M395.06 173.45h1.5M408.61 179.45h1.5M407.00 180.74h1.5M390.45 178.12h1.5M401.71 172.08h1.5M405.27 175.71h1.5M397.51 176.05h1.5M407.66 181.66h1.5M400.64 178.52h1.5M405.12 176.12h1.5M397.94 179.58h1.5M406.20 180.30h1.5M405.93 173.69h1.5M419.79 178.08h1.5M415.12 179.26h1.5M406.03 176.91h1.5M405.33 178.75h1.5M405.43 172.80h1.5M406.64 180.31h1.5M388.97 175.05h1.5M404.64 179.15h1.5M409.00 180.30h1.5M405.16 179.77h1.5M396.08 177.10h1.5M393.67 174.81h1.5M391.52 179.17h1.5M415.42 175.21h1.5M409.66 172.28h1.5M413.59 175.90h1.5M402.66 174.58h1.5M399.43 173.77h1.5M393.29 177.86h1.5M407.27 180.26h1.5M394.36 172.40h1.5M398.96 181.00h1.5M412.48 173.48h1.5M414.48 179.16h1.5M403.04 181.06h1.5M410.55 174.59h1.5M405.88 172.68h1.5M408.06 181.16h1.5M395.30 181.08h1.5M406.80 179.58h1.5M406.54 180.66h1.5M407.51 175.91h1.5M407.44 182.53h1.5M405.76 178.81h1.5M408.52 177.63h1.5M399.35 174.57h1.5M407.28 176.92h1.5M398.39 177.70h1.5M405.71 173.03h1.5M401.75 173.65h1.5M399.78 176.21h1.5M400.71 176.42h1.5M400.84 178.88h1.5M410.15 173.18h1.5M399.73 176.63h1.5M407.43 180.58h1.5M408.42 178.92h1.5M419.17 173.08h1.5M411.31 174.21h1.5M398.19 175.27h1.5M396.33 174.90h1.5M405.58 173.44h1.5M408.16 182.94h1.5M400.28 175.66h1.5M411.25 176.16h1.5M391.05 174.73h1.5M389.99 178.92h1.5M399.59 180.57h1.5M409.01 176.47h1.5M410.96 173.15h1.5M405.66 172.68h1.5M414.47 182.92h1.5M408.25 179.15h1.5M404.04 173.60h1.5M414.93 181.69h1.5M407.35 174.53h1.5M399.28 172.74h1.5M407.22 174.85h1.5M397.34 173.58h1.5M412.24 182.95h1.5M403.44 182.54h1.5M392.10 174.14h1.5M413.43 178.31h1.5M407.75 176.22h1.5M401.48 178.64h1.5M406.24 182.50h1.5M409.55 181.69h1.5M404.99 179.69h1.5M406.71 182.62h1.5M412.11 181.98h1.5M402.19 181.55h1.5M405.15 180.10h1.5M416.80 172.87h1.5M403.05 172.22h1.5M400.22 177.69h1.5M405.78 180.76h1.5M411.53 176.47h1.5M399.45 182.27h1.5M403.56 172.87h1.5M400.75 182.73h1.5M416.52 175.85h1.5M413.21 182.82h1.5M407.44 181.99h1.5M412.61 176.98h1.5M395.12 175.86h1.5M399.62 179.79h1.5M407.06 182.87h1.5M413.74 177.74h1.5M394.31 177.04h1.5M407.32 180.49h1.5M403.06 173.07h1.5M403.06 181.58h1.5M405.92 179.22h1.5M397.14 172.94h1.5M414.46 178.22h1.5M401.07 178.54h1.5M407.43 175.90h1.5M397.00 176.54h1.5M400.01 172.84h1.5M392.21 175.90h1.5M414.61 174.98h1.5M422.23 180.97h1.5M405.70 176.13h1.5M407.59 178.25h1.5M418.26 173.53h1.5M400.54 176.53h1.5M407.00 179.72h1.5M400.14 180.35h1.5M410.68 175.36h1.5M408.11 180.60h1.5M412.31 176.36h1.5M411.93 173.08h1.5M397.56 172.98h1.5M400.85 181.49h1.5M406.69 181.91h1.5M409.12 176.07h1.5M404.66 175.81h1.5M409.36 178.51h1.5M410.53 176.62h1.5M402.27 176.94h1.5M405.59 173.10h1.5M402.32 181.09h1.5M396.75 175.03h1.5M412.10 176.25h1.5M417.29 179.46h1.5M404.19 180.61h1.5M378.19 173.72h1.5M380.83 180.34h1.5M376.96 175.72h1.5M375.33 182.71h1.5M381.61 174.20h1.5M382.10 174.55h1.5M382.31 182.93h1.5M381.84 182.78h1.5M377.83 175.80h1.5M382.01 177.80h1.5M382.26 172.18h1.5M384.11 173.40h1.5M379.22 179.61h1.5M375.99 177.93h1.5M384.49 179.69h1.5M384.14 178.77h1.5M379.54 174.32h1.5M376.77 176.18h1.5M384.28 181.72h1.5M377.41 178.55h1.5M377.94 182.85h1.5M384.54 179.67h1.5M380.67 175.93h1.5M380.30 176.45h1.5M377.31 181.52h1.5M381.49 178.04h1.5M380.93 181.46h1.5M382.86 178.96h1.5M385.13 172.11h1.5M387.75 176.52h1.5M382.36 172.13h1.5M378.78 178.50h1.5M385.18 180.61h1.5M385.43 181.93h1.5M377.46 177.02h1.5M380.06 182.39h1.5M381.15 181.55h1.5M376.68 172.54h1.5M379.81 174.94h1.5M384.05 179.47h1.5M388.64 176.55h1.5M382.89 181.65h1.5M374.43 173.66h1.5M377.89 172.60h1.5M382.94 179.10h1.5M376.17 173.64h1.5M381.76 172.23h1.5M378.51 176.55h1.5M383.20 173.34h1.5M374.80 177.91h1.5M388.41 174.72h1.5M376.50 177.48h1.5M377.68 182.77h1.5M375.37 180.14h1.5M385.60 177.71h1.5M382.01 180.60h1.5M380.65 174.03h1.5M426.80 176.62h1.5M380.03 173.60h1.5M415.80 180.31h1.5M392.01 179.98h1.5M406.84 175.56h1.5M426.56 172.49h1.5M419.99 179.00h1.5M391.69 160.90h1.5M402.59 168.92h1.5M399.67 169.42h1.5M409.45 165.74h1.5M395.44 163.33h1.5M404.37 160.51h1.5M403.52 170.03h1.5M399.82 168.01h1.5M404.64 170.85h1.5M394.63 169.70h1.5M397.34 158.72h1.5M398.67 163.73h1.5M409.80 169.94h1.5M413.72 160.65h1.5M403.32 171.48h1.5M402.09 171.91h1.5M394.45 160.48h1.5M395.61 163.43h1.5M405.81 162.77h1.5M411.75 165.90h1.5M402.10 171.39h1.5M400.16 169.18h1.5M400.93 160.83h1.5M408.71 171.91h1.5M412.87 167.31h1.5M404.69 162.13h1.5M402.45 171.11h1.5M406.39 168.63h1.5M401.13 163.88h1.5M404.45 159.71h1.5M412.12 166.56h1.5M407.90 162.75h1.5M394.94 164.84h1.5M417.58 162.59h1.5M423.36 165.36h1.5M395.51 165.02h1.5M401.98 162.81h1.5M408.93 168.88h1.5M412.99 158.40h1.5M393.11 171.61h1.5M415.66 165.83h1.5M412.83 170.18h1.5M409.34 163.51h1.5M404.45 169.97h1.5M392.76 162.65h1.5M406.05 171.37h1.5M399.89 170.69h1.5M407.40 170.84h1.5M402.20 163.92h1.5M397.09 167.28h1.5M418.33 171.71h1.5M421.68 165.49h1.5M395.28 164.36h1.5M406.70 164.87h1.5M398.10 162.82h1.5M409.86 161.92h1.5M399.13 161.57h1.5M408.09 161.16h1.5M401.47 161.31h1.5M409.25 172.06h1.5M393.28 167.50h1.5M407.94 163.30h1.5M406.48 166.95h1.5M407.77 162.75h1.5M406.17 160.28h1.5M413.97 158.57h1.5M413.28 170.33h1.5M401.02 160.55h1.5M405.22 159.77h1.5M399.77 166.26h1.5M401.72 169.22h1.5M416.39 158.54h1.5M398.60 170.50h1.5M410.65 160.45h1.5M415.46 168.15h1.5M409.68 159.36h1.5M412.28 160.87h1.5M398.29 161.42h1.5M402.46 162.60h1.5M399.66 161.90h1.5M414.29 167.32h1.5M404.36 159.68h1.5M400.04 166.15h1.5M404.61 169.20h1.5M412.37 166.88h1.5M396.67 171.69h1.5M410.19 166.95h1.5M405.95 169.81h1.5M403.92 164.54h1.5M407.39 162.26h1.5M400.63 170.11h1.5M398.50 159.61h1.5M395.72 167.13h1.5M407.28 171.03h1.5M395.52 169.87h1.5M401.19 160.12h1.5M399.77 159.19h1.5M410.94 168.63h1.5M388.00 167.72h1.5M402.50 171.96h1.5M404.92 165.49h1.5M406.37 166.90h1.5M404.62 169.76h1.5M410.65 162.14h1.5M404.09 169.75h1.5M402.02 169.86h1.5M406.39 165.05h1.5M407.04 166.76h1.5M406.57 170.81h1.5M407.49 165.50h1.5M412.21 171.03h1.5M414.01 163.46h1.5M398.05 167.99h1.5M399.80 170.68h1.5M418.41 171.56h1.5M402.51 158.70h1.5M391.50 166.68h1.5M404.00 171.30h1.5M407.52 160.14h1.5M412.46 165.30h1.5M407.56 162.61h1.5M408.80 164.83h1.5M406.53 168.75h1.5M412.07 164.14h1.5M394.91 164.55h1.5M405.40 170.44h1.5M406.99 171.69h1.5M406.35 167.97h1.5M412.56 171.89h1.5M397.12 163.66h1.5M413.15 165.17h1.5M410.33 163.16h1.5M397.72 167.95h1.5M403.94 160.68h1.5M404.60 160.50h1.5M391.12 165.77h1.5M405.10 163.39h1.5M401.23 163.42h1.5M401.20 162.92h1.5M392.59 163.48h1.5M406.92 167.64h1.5M413.71 166.38h1.5M413.50 170.49h1.5M412.82 161.09h1.5M407.71 169.88h1.5M410.89 163.58h1.5M396.18 169.39h1.5M401.73 166.28h1.5M403.84 158.88h1.5M405.27 169.49h1.5M401.59 171.86h1.5M404.27 161.99h1.5M410.49 169.87h1.5M396.64 170.30h1.5M408.71 170.17h1.5M404.55 160.94h1.5M407.60 161.44h1.5M406.23 160.13h1.5M406.99 170.40h1.5M402.89 163.06h1.5M411.31 167.24h1.5M411.78 169.54h1.5M409.35 161.63h1.5M399.92 161.97h1.5M403.54 162.55h1.5M406.43 165.68h1.5M417.45 163.01h1.5M409.75 169.69h1.5M408.39 159.03h1.5M412.43 161.44h1.5M396.84 166.78h1.5M408.84 168.37h1.5M386.40 167.78h1.5M401.75 159.81h1.5M405.96 166.31h1.5M395.53 159.62h1.5M389.95 163.44h1.5M395.84 168.92h1.5M407.54 168.23h1.5M407.22 160.71h1.5M407.01 164.44h1.5M403.67 168.31h1.5M411.33 166.46h1.5M408.22 164.18h1.5M401.13 164.04h1.5M404.69 158.45h1.5M417.24 170.96h1.5M401.51 158.92h1.5M397.28 159.73h1.5M396.16 163.51h1.5M392.15 168.19h1.5M396.32 163.16h1.5M413.10 161.87h1.5M408.83 170.29h1.5M408.09 158.94h1.5M409.88 164.71h1.5M400.53 168.54h1.5M402.22 160.80h1.5M405.42 167.22h1.5M413.90 160.76h1.5M387.01 164.87h1.5M378.13 158.76h1.5M377.03 160.67h1.5M383.53 170.31h1.5M381.86 165.03h1.5M375.27 159.74h1.5M382.31 168.83h1.5M378.96 162.42h1.5M381.07 165.21h1.5M384.16 160.27h1.5M382.66 171.71h1.5M379.95 158.41h1.5M378.51 166.17h1.5M384.11 169.68h1.5M375.74 167.70h1.5M381.47 167.73h1.5M383.83 171.69h1.5M385.67 169.75h1.5M382.26 161.39h1.5M379.22 165.13h1.5M379.32 162.28h1.5M383.76 166.38h1.5M381.10 169.18h1.5M382.99 166.61h1.5M375.93 159.75h1.5M382.36 169.69h1.5M377.91 162.90h1.5M377.32 163.59h1.5M380.22 168.45h1.5M382.31 158.84h1.5M376.38 159.22h1.5M385.06 160.27h1.5M377.90 159.81h1.5M381.78 168.54h1.5M387.17 159.42h1.5M378.67 165.94h1.5M381.24 169.73h1.5M420.86 171.60h1.5M390.48 165.11h1.5M428.98 167.03h1.5M407.20 169.79h1.5M409.42 146.47h1.5M397.67 145.67h1.5M410.13 158.36h1.5M394.98 156.69h1.5M401.66 156.51h1.5M407.26 149.34h1.5M420.29 155.77h1.5M400.75 147.55h1.5M409.24 157.68h1.5M403.79 152.82h1.5M392.77 151.88h1.5M409.94 146.46h1.5M422.15 157.53h1.5M411.03 152.28h1.5M400.28 152.79h1.5M405.02 154.55h1.5M409.32 153.25h1.5M398.86 153.41h1.5M406.95 155.44h1.5M401.50 148.05h1.5M405.75 151.18h1.5M402.82 146.63h1.5M406.16 145.56h1.5M408.28 157.94h1.5M400.84 158.18h1.5M416.35 149.27h1.5M398.55 150.60h1.5M409.24 155.71h1.5M419.26 158.13h1.5M415.88 146.04h1.5M404.74 151.14h1.5M409.37 155.32h1.5M399.81 153.73h1.5M408.59 156.53h1.5M399.26 153.02h1.5M413.95 152.62h1.5M408.33 157.78h1.5M401.47 146.73h1.5M411.23 156.39h1.5M402.02 151.82h1.5M407.48 156.42h1.5M400.36 148.72h1.5M401.90 154.58h1.5M411.97 155.90h1.5M418.98 145.99h1.5M417.50 147.08h1.5M413.32 145.75h1.5M407.26 152.76h1.5M411.89 155.28h1.5M405.28 146.70h1.5M405.45 156.20h1.5M404.45 146.67h1.5M412.39 148.11h1.5M408.14 150.79h1.5M396.66 156.31h1.5M408.04 146.67h1.5M414.61 146.28h1.5M409.74 149.49h1.5M401.77 158.11h1.5M406.20 155.63h1.5M406.02 150.15h1.5M412.17 145.04h1.5M410.02 155.81h1.5M404.13 157.94h1.5M412.19 153.74h1.5M393.41 152.65h1.5M393.22 153.58h1.5M411.07 151.77h1.5M392.82 153.99h1.5M416.34 155.18h1.5M407.81 157.17h1.5M406.87 145.23h1.5M414.41 149.41h1.5M419.68 149.32h1.5M406.53 156.65h1.5M409.04 154.04h1.5M399.47 149.56h1.5M397.43 154.49h1.5M397.22 151.33h1.5M415.16 146.13h1.5M403.29 149.67h1.5M416.68 154.65h1.5M398.18 151.28h1.5M399.94 145.78h1.5M407.06 156.62h1.5M412.87 156.83h1.5M399.74 148.83h1.5M402.46 149.66h1.5M400.89 152.04h1.5M418.37 149.28h1.5M408.58 156.10h1.5M408.97 154.64h1.5M400.94 148.26h1.5M404.72 146.08h1.5M400.47 150.08h1.5M421.37 149.74h1.5M404.68 146.02h1.5M391.49 157.97h1.5M397.19 155.72h1.5M389.91 147.87h1.5M396.35 148.71h1.5M393.01 158.35h1.5M413.28 150.03h1.5M403.46 155.93h1.5M396.88 153.37h1.5M419.45 153.67h1.5M402.23 149.61h1.5M417.50 145.25h1.5M403.81 152.29h1.5M405.89 151.81h1.5M409.86 145.47h1.5M416.72 150.43h1.5M405.65 155.34h1.5M416.75 146.58h1.5M399.90 154.64h1.5M421.03 157.96h1.5M408.46 153.95h1.5M406.75 153.43h1.5M404.53 147.82h1.5M407.72 154.32h1.5M410.01 150.09h1.5M407.40 153.70h1.5M396.19 151.69h1.5M419.32 156.41h1.5M401.47 155.67h1.5M399.78 152.38h1.5M398.93 146.52h1.5M410.74 155.20h1.5M400.34 156.74h1.5M403.85 156.88h1.5M382.84 144.97h1.5M382.52 148.75h1.5M380.71 157.90h1.5M380.81 150.41h1.5M377.14 156.91h1.5M382.36 151.77h1.5M387.39 157.96h1.5M380.64 148.11h1.5M377.55 152.22h1.5M382.40 156.00h1.5M382.52 157.45h1.5M377.27 151.93h1.5M376.87 150.45h1.5M381.02 157.68h1.5M381.43 151.27h1.5M380.95 156.38h1.5M380.26 149.06h1.5M380.21 155.29h1.5M377.48 145.27h1.5M412.86 154.10h1.5M381.78 152.79h1.5M407.68 155.37h1.5M407.70 139.66h1.5M406.96 131.77h1.5M404.23 132.35h1.5M405.53 141.87h1.5M395.10 134.72h1.5M403.46 137.93h1.5M420.75 139.41h1.5M410.52 136.84h1.5M401.96 144.05h1.5M403.15 136.56h1.5M402.62 139.09h1.5M404.67 134.61h1.5M414.70 132.19h1.5M409.24 127.48h1.5M402.23 136.95h1.5M391.22 137.04h1.5M417.13 129.62h1.5M413.44 142.10h1.5M405.61 141.97h1.5M408.36 133.81h1.5M403.20 141.42h1.5M401.37 130.18h1.5M422.46 130.91h1.5M390.00 138.16h1.5M403.88 133.47h1.5M408.76 135.22h1.5M409.49 126.66h1.5M406.19 143.05h1.5M404.22 131.82h1.5M408.09 133.27h1.5M398.52 132.50h1.5M398.48 139.31h1.5M409.95 139.61h1.5M400.72 126.68h1.5M410.67 132.24h1.5M413.56 138.51h1.5M415.51 128.45h1.5M413.79 137.35h1.5M399.00 138.51h1.5M406.37 144.50h1.5M405.85 127.75h1.5M413.09 134.07h1.5M403.99 143.19h1.5M415.06 130.76h1.5M407.06 128.37h1.5M415.00 129.32h1.5M406.82 126.82h1.5M406.74 141.89h1.5M398.78 140.72h1.5M403.41 130.72h1.5M416.62 133.59h1.5M416.29 127.14h1.5M390.16 131.99h1.5M421.94 138.23h1.5M417.66 132.47h1.5M401.14 138.08h1.5M411.01 135.76h1.5M412.31 137.13h1.5M389.02 139.67h1.5M404.89 141.51h1.5M406.91 130.99h1.5M404.61 136.38h1.5M396.58 133.40h1.5M405.04 135.04h1.5M409.64 136.58h1.5M408.74 142.14h1.5M398.54 144.10h1.5M421.61 136.01h1.5M398.69 140.62h1.5M401.65 127.83h1.5M409.46 141.04h1.5M402.44 133.11h1.5M402.03 143.55h1.5M402.29 139.88h1.5M405.06 144.62h1.5M422.09 129.14h1.5M403.90 142.60h1.5M402.16 128.27h1.5M398.06 128.67h1.5M407.32 134.11h1.5M409.84 137.83h1.5M400.17 136.25h1.5M402.78 143.90h1.5M408.41 142.45h1.5M401.84 144.00h1.5M400.35 127.17h1.5M410.72 144.20h1.5M414.52 129.14h1.5M403.52 143.05h1.5M392.14 137.13h1.5M408.83 127.56h1.5M395.37 133.21h1.5M418.45 129.65h1.5M407.71 139.49h1.5M410.19 144.28h1.5M376.36 143.81h1.5M377.60 144.40h1.5M383.44 132.85h1.5M384.05 142.76h1.5M377.89 130.87h1.5M383.62 130.73h1.5M376.42 134.61h1.5M377.14 133.17h1.5M378.92 139.76h1.5M406.05 128.24h1.5M411.80 131.72h1.5M377.29 136.29h1.5M383.26 128.25h1.5M405.03 140.91h1.5M392.08 125.90h1.5M409.33 123.37h1.5M405.29 122.39h1.5M403.21 117.63h1.5M395.89 120.15h1.5M402.35 116.13h1.5M407.95 122.37h1.5M402.44 122.37h1.5M405.48 117.92h1.5M402.16 123.01h1.5M407.04 121.89h1.5M401.27 119.71h1.5M413.56 115.95h1.5M413.00 120.06h1.5M395.21 120.62h1.5M394.02 117.11h1.5M410.63 121.06h1.5M411.67 121.67h1.5M402.87 118.72h1.5M399.79 117.06h1.5M400.50 119.58h1.5M416.06 123.39h1.5M404.11 124.66h1.5M409.37 126.14h1.5M411.19 117.38h1.5M412.71 119.07h1.5M401.38 119.82h1.5M405.06 117.38h1.5M416.31 120.14h1.5M401.63 125.31h1.5M411.22 124.63h1.5M400.93 124.33h1.5M404.58 115.44h1.5M409.51 118.52h1.5M401.99 121.13h1.5M406.98 124.00h1.5M407.48 122.90h1.5M400.64 122.08h1.5M397.37 123.60h1.5M404.36 119.99h1.5M419.38 116.21h1.5M393.99 15.80h1.5M398.47 25.57h1.5M401.60 23.94h1.5M404.32 24.48h1.5M405.27 26.65h1.5M405.68 29.36h1.5M401.19 33.98h1.5M397.11 36.15h1.5M401.60 39.81h1.5M409.35 39.81h1.5M404.59 50.75h1.5M403.23 53.46h1.5M407.31 56.17h1.5M408.94 58.89h1.5M404.86 60.65h1.5M399.42 64.99h1.5M408.40 65.26h1.5M398.88 67.98h1.5M404.32 67.71h1.5M405.68 67.98h1.5M407.04 68.79h1.5M408.40 69.06h1.5M405.68 70.15h1.5M389.37 74.22h1.5M387.19 77.20h1.5M398.47 73.40h1.5M401.19 72.86h1.5M402.14 73.81h1.5M404.32 73.13h1.5M404.86 74.49h1.5M407.31 74.22h1.5M405.27 78.83h1.5M405.68 79.91h1.5M405.27 80.68h1.5M410.03 81.36h1.5M405.68 82.98h1.5M399.42 84.34h1.5M398.47 85.70h1.5M404.32 86.10h1.5M408.94 85.43h1.5M405.68 87.46h1.5M398.07 88.41h1.5M399.42 89.77h1.5M413.42 89.77h1.5M417.09 90.58h1.5M399.42 93.57h1.5M403.50 92.48h1.5M404.86 93.29h1.5M408.40 92.89h1.5M409.75 94.24h1.5M401.87 98.99h1.5M404.59 98.99h1.5M393.44 102.38h1.5M400.78 103.33h1.5M402.55 103.06h1.5M404.86 104.15h1.5M408.94 101.98h1.5M410.03 103.33h1.5M413.42 104.42h1.5M399.42 105.50h1.5M403.91 105.50h1.5M407.31 105.10h1.5M380.40 106.05h1.5M380.12 111.88h1.5M394.40 112.56h1.5M397.11 113.24h1.5M399.83 111.47h1.5M401.60 112.56h1.5M404.59 112.83h1.5M408.94 109.17h1.5M409.75 110.52h1.5M414.10 111.88h1.5M409.35 113.91h1.5M405.95 113.91h1.5M372.84 148.34h1.5M344.26 145.39h1.5M330.17 154.74h1.5M347.60 154.74h1.5M330.17 155.26h1.5M347.60 155.26h1.5M351.06 161.15h1.5M336.32 166.53h1.5M338.24 168.45h1.5M347.60 169.35h1.5M364.77 167.56h1.5M369.64 165.89h1.5M370.28 162.94h1.5M373.48 162.94h1.5M373.48 160.12h1.5M344.65 180.37h1.5M364.26 179.34h1.5M332.47 189.34h1.5M338.24 186.78h1.5M352.34 188.06h1.5M353.23 190.23h1.5M362.59 184.21h1.5M371.56 181.91h1.5M373.48 185.75h1.5M372.20 188.31h1.5M369.38 192.16h1.5M321.96 194.08h1.5M327.09 192.41h1.5M329.91 194.08h1.5M335.04 194.08h1.5M339.52 193.69h1.5M343.37 194.08h1.5M345.93 193.44h1.5M350.42 194.08h1.5M351.70 192.80h1.5M355.54 194.08h1.5M358.75 193.44h1.5M361.95 194.08h1.5M365.79 193.69h1.5M370.92 193.44h1.5M433.49 119.22h1.5M432.89 163.95h1.5" stroke="#00f" stroke-width="1.5" fill="none"/>
<path d="M184.86 485.50h1.5M171.44 486.77h1.5M133.09 487.14h1.5M155.47 484.14h1.5M172.56 483.58h1.5M141.68 483.47h1.5M150.15 483.79h1.5M143.48 484.30h1.5M164.61 485.40h1.5M180.89 484.35h1.5M166.65 485.69h1.5M163.79 483.38h1.5M182.06 486.31h1.5M195.74 486.20h1.5M143.16 486.68h1.5M163.06 486.62h1.5M180.52 484.24h1.5M159.30 486.04h1.5M207.53 485.74h1.5M169.95 485.57h1.5M174.98 486.48h1.5M197.98 485.65h1.5M190.42 484.09h1.5M151.46 486.78h1.5M176.60 484.06h1.5M150.53 483.91h1.5M185.78 486.64h1.5M191.97 483.61h1.5M200.06 486.00h1.5M182.75 485.02h1.5M168.78 487.17h1.5M148.53 485.29h1.5M192.91 485.19h1.5M204.14 486.61h1.5M180.47 486.95h1.5M158.03 485.59h1.5M185.08 486.66h1.5M195.78 486.78h1.5M205.54 484.80h1.5M202.20 483.93h1.5M165.29 484.25h1.5M177.57 485.89h1.5M172.92 483.76h1.5M207.27 484.65h1.5M131.35 486.52h1.5M129.53 486.76h1.5M203.99 485.16h1.5M203.93 484.05h1.5M191.94 485.19h1.5M168.29 486.40h1.5M200.31 486.64h1.5M170.06 487.07h1.5M154.26 484.34h1.5M190.94 483.56h1.5M141.05 483.26h1.5M181.68 485.09h1.5M165.07 485.76h1.5M174.93 485.63h1.5M224.47 486.63h1.5M134.00 483.30h1.5M181.41 486.74h1.5M206.90 485.40h1.5M197.68 486.60h1.5M183.82 486.93h1.5M147.57 486.53h1.5M211.79 485.55h1.5M160.69 483.52h1.5M229.55 487.29h1.5M171.82 484.92h1.5M201.58 483.46h1.5M198.34 484.91h1.5M158.45 484.01h1.5M170.13 485.85h1.5M205.67 484.07h1.5M160.81 485.34h1.5M196.24 483.43h1.5M165.26 486.15h1.5M190.94 486.45h1.5M177.26 484.71h1.5M179.60 485.65h1.5M210.47 487.26h1.5M148.46 487.09h1.5M145.95 485.23h1.5M160.40 484.43h1.5M205.41 487.27h1.5M163.24 485.64h1.5M158.76 484.15h1.5M150.28 484.55h1.5M232.95 485.79h1.5M150.16 485.84h1.5M144.66 484.26h1.5M184.02 487.01h1.5M189.63 483.91h1.5M183.01 483.70h1.5M144.43 483.67h1.5M174.76 486.66h1.5M196.85 486.37h1.5M152.57 485.33h1.5M218.99 483.32h1.5M158.02 484.61h1.5M185.95 483.55h1.5M178.03 483.29h1.5M163.52 483.51h1.5M202.59 487.21h1.5M133.76 485.39h1.5M170.27 484.61h1.5M139.13 483.79h1.5M184.97 485.31h1.5M191.42 486.20h1.5M155.04 486.65h1.5M199.06 483.25h1.5M161.46 483.50h1.5M218.57 487.13h1.5M166.04 486.56h1.5M162.81 484.42h1.5M156.01 484.55h1.5M160.44 486.94h1.5M132.15 485.76h1.5M176.48 486.86h1.5M168.68 483.70h1.5M157.47 485.17h1.5M161.61 484.25h1.5M148.38 484.98h1.5M162.96 484.39h1.5M167.79 486.42h1.5M176.42 484.61h1.5M213.62 485.86h1.5M162.22 486.44h1.5M192.92 485.26h1.5M196.96 486.75h1.5M195.13 485.57h1.5M166.03 484.01h1.5M230.17 485.57h1.5M132.03 486.75h1.5M155.76 487.03h1.5M180.74 484.41h1.5M153.40 486.94h1.5M175.85 486.72h1.5M190.40 483.46h1.5M170.21 483.43h1.5M163.04 483.31h1.5M185.72 483.82h1.5M161.85 485.06h1.5M156.11 486.75h1.5M190.24 484.61h1.5M221.01 486.49h1.5M144.01 483.45h1.5M154.47 484.74h1.5M209.43 486.46h1.5M137.52 485.04h1.5M144.35 485.11h1.5M185.68 483.85h1.5M172.31 484.32h1.5M189.97 486.37h1.5M132.45 486.25h1.5M193.47 486.57h1.5M152.89 487.10h1.5M204.54 484.98h1.5M195.11 484.12h1.5M157.08 487.10h1.5M203.79 484.77h1.5M165.61 483.44h1.5M144.01 484.04h1.5M159.87 484.20h1.5M134.15 485.74h1.5M165.09 484.71h1.5M144.94 485.77h1.5M205.41 486.20h1.5M143.10 484.30h1.5M207.75 486.75h1.5M193.26 484.59h1.5M126.72 486.79h1.5M167.87 485.91h1.5M164.37 483.92h1.5M155.03 484.91h1.5M166.35 486.41h1.5M230.45 486.10h1.5M167.13 483.99h1.5M138.74 485.87h1.5M146.61 484.61h1.5M157.42 483.67h1.5M237.42 486.73h1.5M157.84 486.68h1.5M213.62 486.85h1.5M131.72 483.90h1.5M158.37 486.96h1.5M160.59 487.17h1.5M159.34 483.56h1.5M179.31 485.80h1.5M183.43 483.88h1.5M166.80 486.73h1.5M134.70 485.58h1.5M176.65 486.63h1.5M170.26 484.77h1.5M190.55 487.04h1.5M146.51 483.65h1.5M208.48 486.00h1.5M180.54 484.60h1.5M137.69 486.93h1.5M194.99 484.22h1.5M144.01 485.08h1.5M151.93 484.80h1.5M163.34 483.30h1.5M179.56 485.45h1.5M238.72 486.31h1.5M164.94 484.56h1.5M186.72 484.19h1.5M184.77 485.27h1.5M164.42 483.99h1.5M129.69 485.62h1.5M172.48 486.93h1.5M182.29 486.61h1.5M131.70 485.85h1.5M180.13 487.26h1.5M201.80 483.54h1.5M151.39 483.74h1.5M188.85 483.43h1.5M205.29 483.49h1.5M141.90 483.91h1.5M154.30 483.77h1.5M179.49 484.36h1.5M143.23 484.74h1.5M171.13 484.08h1.5M177.83 484.84h1.5M192.27 485.45h1.5M205.50 485.23h1.5M183.01 486.85h1.5M148.57 485.59h1.5M163.26 485.22h1.5M190.93 484.56h1.5M231.85 486.27h1.5M134.57 484.55h1.5M186.89 486.53h1.5M192.71 486.12h1.5M231.50 483.64h1.5M161.15 485.71h1.5M201.51 486.29h1.5M194.65 484.07h1.5M176.48 485.33h1.5M165.01 486.00h1.5M220.87 483.81h1.5M165.72 483.40h1.5M186.17 483.75h1.5M215.42 486.56h1.5M201.94 486.28h1.5M137.94 485.76h1.5M171.56 483.27h1.5M182.95 486.77h1.5M187.60 485.14h1.5M165.44 483.71h1.5M200.62 485.07h1.5M152.25 483.69h1.5M160.46 487.16h1.5M215.09 485.68h1.5M164.61 486.95h1.5M133.98 486.93h1.5M213.89 483.92h1.5M136.74 486.90h1.5M153.19 485.17h1.5M179.63 484.26h1.5M195.87 485.95h1.5M194.94 486.19h1.5M201.60 486.55h1.5M195.45 484.73h1.5M189.88 483.99h1.5M174.40 484.92h1.5M164.40 485.89h1.5M157.44 485.96h1.5M239.49 483.89h1.5M198.93 483.54h1.5M180.78 483.82h1.5M207.60 486.31h1.5M188.64 485.35h1.5M190.52 486.22h1.5M180.07 487.17h1.5M190.40 486.68h1.5M178.43 484.77h1.5M137.55 487.28h1.5M180.55 483.59h1.5M191.23 484.56h1.5M174.27 485.00h1.5M166.51 484.90h1.5M179.49 483.48h1.5M171.81 485.94h1.5M142.41 486.33h1.5M171.35 483.65h1.5M152.48 485.17h1.5M138.30 485.11h1.5M184.87 486.42h1.5M180.79 483.30h1.5M198.05 485.23h1.5M165.25 484.55h1.5M186.32 483.77h1.5M176.65 485.66h1.5M189.67 487.14h1.5M150.84 485.27h1.5M199.89 486.51h1.5M153.66 485.37h1.5M170.90 485.92h1.5M131.76 486.49h1.5M201.05 483.65h1.5M138.70 486.96h1.5M174.84 484.93h1.5M127.22 484.58h1.5M183.89 485.15h1.5M214.21 484.40h1.5M163.29 486.54h1.5M207.43 487.04h1.5M168.19 485.89h1.5M141.75 483.70h1.5M164.94 485.86h1.5M150.39 485.12h1.5M190.17 485.88h1.5M188.39 487.26h1.5M221.73 484.40h1.5M150.67 484.87h1.5M169.12 484.48h1.5M156.21 486.00h1.5M150.56 485.94h1.5M163.26 486.83h1.5M188.51 486.08h1.5M191.59 483.21h1.5M203.23 483.53h1.5M163.56 485.14h1.5M168.30 485.80h1.5M160.68 483.32h1.5M172.91 487.12h1.5M173.57 486.57h1.5M157.55 483.57h1.5M177.43 483.58h1.5M204.13 486.13h1.5M138.33 486.26h1.5M183.54 486.09h1.5M154.53 486.56h1.5M167.90 484.55h1.5M166.79 487.14h1.5M165.15 486.34h1.5M216.12 486.12h1.5M169.08 485.80h1.5M165.27 486.47h1.5M142.40 487.08h1.5M219.74 484.78h1.5M185.84 484.50h1.5M173.19 485.50h1.5M149.14 486.47h1.5M163.00 486.84h1.5M220.46 485.17h1.5M148.56 486.20h1.5M145.20 483.58h1.5M213.03 485.42h1.5M144.91 484.20h1.5M192.74 485.42h1.5M228.92 483.35h1.5M138.61 483.76h1.5M144.95 484.70h1.5M209.78 483.86h1.5M211.29 483.98h1.5M231.49 486.69h1.5M180.14 485.92h1.5M178.16 484.44h1.5M141.00 485.79h1.5M165.36 485.57h1.5M171.53 484.80h1.5M181.32 484.74h1.5M148.64 483.67h1.5M166.07 483.46h1.5M201.75 483.64h1.5M219.19 484.56h1.5M190.37 484.41h1.5M196.89 485.49h1.5M217.50 486.29h1.5M228.83 483.65h1.5M171.96 484.31h1.5M182.18 485.44h1.5M193.96 484.55h1.5M156.84 486.03h1.5M208.25 483.34h1.5M199.19 485.15h1.5M171.64 484.55h1.5M173.17 486.26h1.5M159.54 485.79h1.5M143.87 483.46h1.5M184.07 485.71h1.5M236.35 485.16h1.5M155.67 484.80h1.5M150.02 485.31h1.5M176.92 486.57h1.5M153.59 485.30h1.5M187.53 485.33h1.5M165.75 483.66h1.5M158.67 484.09h1.5M158.18 484.03h1.5M174.26 485.08h1.5M214.81 486.00h1.5M228.10 485.08h1.5M183.58 485.18h1.5M214.97 485.12h1.5M199.09 483.64h1.5M190.20 486.11h1.5M149.36 486.97h1.5M149.08 484.61h1.5M196.06 485.06h1.5M189.02 487.24h1.5M233.40 484.15h1.5M155.46 485.90h1.5M230.62 485.25h1.5M152.81 484.95h1.5M131.46 485.60h1.5M191.41 485.87h1.5M193.89 485.70h1.5M137.03 485.81h1.5M152.35 483.82h1.5M166.10 483.61h1.5M216.82 487.17h1.5M150.48 483.28h1.5M170.30 485.60h1.5M200.95 485.99h1.5M175.39 484.04h1.5M161.20 483.85h1.5M174.51 483.79h1.5M210.62 484.15h1.5M171.63 485.30h1.5M201.49 486.84h1.5M144.42 485.92h1.5M163.36 484.77h1.5M154.06 486.20h1.5M201.93 485.06h1.5M140.95 484.77h1.5M184.77 485.20h1.5M204.56 486.42h1.5M234.46 484.76h1.5M136.39 486.56h1.5M209.74 484.06h1.5M190.64 486.00h1.5M158.90 486.07h1.5M179.99 485.16h1.5M204.99 486.69h1.5M189.63 484.40h1.5M171.18 487.16h1.5M177.51 485.43h1.5M205.04 484.32h1.5M208.43 486.57h1.5M175.79 486.76h1.5M188.07 484.15h1.5M161.61 486.11h1.5M147.83 485.23h1.5M178.86 484.32h1.5M132.40 487.30h1.5M133.87 486.90h1.5M189.17 485.76h1.5M174.38 484.12h1.5M168.96 486.95h1.5M217.30 484.79h1.5M182.63 484.18h1.5M162.81 487.25h1.5M207.59 485.71h1.5M171.48 484.62h1.5M154.29 484.49h1.5M156.30 485.54h1.5M179.53 484.91h1.5M168.33 484.06h1.5M186.66 484.45h1.5M171.77 484.08h1.5M164.08 485.84h1.5M162.26 486.04h1.5M166.65 485.82h1.5M160.36 484.04h1.5M131.42 485.27h1.5M148.87 485.15h1.5M187.49 486.21h1.5M140.32 484.65h1.5M211.29 485.37h1.5M182.37 486.07h1.5M166.69 484.76h1.5M127.86 485.40h1.5M166.34 486.64h1.5M162.36 486.19h1.5M187.10 484.00h1.5M206.44 487.10h1.5M201.66 485.05h1.5M192.97 485.87h1.5M198.53 486.48h1.5M223.98 484.65h1.5M192.74 484.68h1.5M190.42 483.34h1.5M156.60 483.29h1.5M175.09 484.70h1.5M189.28 485.16h1.5M229.09 485.50h1.5M168.13 485.43h1.5M192.01 487.29h1.5M175.68 484.61h1.5M140.76 486.23h1.5M169.10 486.30h1.5M140.40 484.99h1.5M141.85 483.76h1.5M208.78 485.22h1.5M151.32 484.93h1.5M140.83 484.85h1.5M129.09 485.23h1.5M167.34 484.84h1.5M218.13 484.81h1.5M168.95 484.21h1.5M146.51 485.43h1.5M167.86 484.86h1.5M152.14 486.15h1.5M164.73 484.28h1.5M150.38 484.39h1.5M213.26 483.83h1.5M235.86 484.19h1.5M161.21 486.71h1.5M145.50 487.14h1.5M178.07 487.17h1.5M175.02 485.54h1.5M200.85 485.88h1.5M156.74 485.15h1.5M166.79 485.25h1.5M171.89 485.76h1.5M167.38 484.52h1.5M183.65 483.79h1.5M186.22 484.17h1.5M184.81 483.83h1.5M187.94 484.46h1.5M177.75 485.83h1.5M173.90 484.02h1.5M152.95 486.68h1.5M168.36 483.80h1.5M139.72 484.23h1.5M195.05 485.94h1.5M191.49 487.11h1.5M201.52 486.30h1.5M186.72 486.12h1.5M187.29 485.26h1.5M188.73 485.70h1.5M208.43 486.66h1.5M173.10 485.74h1.5M197.68 485.02h1.5M139.60 486.60h1.5M195.27 484.59h1.5M167.48 484.86h1.5M219.75 483.36h1.5M187.27 484.05h1.5M148.24 486.41h1.5M185.19 484.47h1.5M160.42 484.75h1.5M205.99 484.69h1.5M173.87 485.70h1.5M168.95 484.14h1.5M172.34 485.86h1.5M141.35 486.33h1.5M175.38 486.35h1.5M165.79 486.05h1.5M174.63 485.61h1.5M204.44 483.39h1.5M139.50 484.95h1.5M169.77 485.55h1.5M216.43 485.16h1.5M167.65 485.11h1.5M162.13 486.42h1.5M178.36 486.22h1.5M207.67 485.43h1.5M174.68 485.47h1.5M206.41 486.42h1.5M144.34 483.24h1.5M212.18 483.44h1.5M163.94 484.31h1.5M191.05 487.16h1.5M203.14 484.04h1.5M154.45 485.88h1.5M230.42 484.00h1.5M179.35 487.28h1.5M161.15 484.56h1.5M221.34 486.32h1.5M194.74 485.30h1.5M238.38 484.52h1.5M174.23 486.61h1.5M137.44 486.21h1.5M184.26 484.43h1.5M197.25 483.47h1.5M174.95 486.19h1.5M168.47 484.29h1.5M146.70 485.85h1.5M146.66 486.20h1.5M148.54 484.03h1.5M175.00 487.04h1.5M145.42 487.12h1.5M208.57 486.78h1.5M236.75 484.10h1.5M188.69 483.90h1.5M148.51 484.10h1.5M171.36 483.91h1.5M172.03 483.91h1.5M147.61 483.59h1.5M164.07 485.19h1.5M209.71 485.80h1.5M149.65 484.00h1.5M198.41 485.51h1.5M165.35 484.76h1.5M144.43 484.62h1.5M163.93 485.76h1.5M197.75 486.32h1.5M169.28 483.24h1.5M155.45 484.40h1.5M165.50 483.58h1.5M143.75 486.93h1.5M177.52 485.88h1.5M198.95 486.36h1.5M201.89 483.28h1.5M225.18 485.52h1.5M191.13 483.68h1.5M183.12 485.56h1.5M133.49 483.94h1.5M160.09 484.56h1.5M151.59 486.70h1.5M186.24 486.78h1.5M170.19 484.44h1.5M158.55 483.28h1.5M173.70 483.83h1.5M144.47 483.81h1.5M189.32 484.19h1.5M225.04 486.85h1.5M155.13 484.19h1.5M209.04 486.36h1.5M164.98 486.14h1.5M205.99 483.60h1.5M138.03 486.23h1.5M178.48 484.59h1.5M205.43 484.15h1.5M138.59 486.35h1.5M171.33 486.90h1.5M145.00 486.97h1.5M162.49 487.04h1.5M181.35 483.68h1.5M162.13 487.04h1.5M152.97 484.47h1.5M175.96 485.41h1.5M150.29 483.38h1.5M160.68 486.87h1.5M150.16 483.20h1.5M177.18 486.60h1.5M148.58 485.15h1.5M144.82 484.83h1.5M144.03 484.75h1.5M138.07 484.48h1.5M182.21 486.05h1.5M198.57 483.63h1.5M166.39 486.75h1.5M137.32 486.22h1.5M157.80 484.72h1.5M158.98 485.92h1.5M170.81 485.77h1.5M168.32 484.45h1.5M186.26 486.43h1.5M148.17 486.95h1.5M227.19 485.20h1.5M142.35 484.95h1.5M161.55 485.09h1.5M165.64 487.11h1.5M148.88 484.35h1.5M201.78 485.36h1.5M203.56 483.23h1.5M171.42 484.54h1.5M163.98 486.50h1.5M205.81 487.13h1.5M174.69 486.71h1.5M165.49 486.25h1.5M149.24 486.80h1.5M183.07 485.10h1.5M161.14 485.55h1.5M179.15 485.20h1.5M182.41 486.52h1.5M172.04 484.17h1.5M169.76 485.28h1.5M161.88 486.96h1.5M169.13 487.03h1.5M133.71 485.42h1.5M164.82 483.35h1.5M190.59 486.25h1.5M158.65 485.25h1.5M149.07 486.73h1.5M171.99 484.05h1.5M142.06 483.53h1.5M142.62 486.26h1.5M158.60 486.03h1.5M172.91 483.22h1.5M169.57 484.13h1.5M207.40 484.07h1.5M161.37 487.25h1.5M129.70 485.76h1.5M141.92 485.97h1.5M152.34 486.70h1.5M164.18 483.63h1.5M136.47 484.89h1.5M185.50 484.48h1.5M184.85 486.23h1.5M148.15 485.74h1.5M203.97 485.26h1.5M166.50 486.50h1.5M144.30 486.09h1.5M155.54 484.50h1.5M151.09 485.18h1.5M199.73 484.61h1.5M153.53 486.80h1.5M206.06 485.32h1.5M181.94 486.20h1.5M169.46 486.11h1.5M185.14 483.31h1.5M164.87 483.37h1.5M159.30 483.63h1.5M136.12 486.78h1.5M198.52 484.44h1.5M143.46 487.27h1.5M171.81 486.21h1.5M224.33 483.91h1.5M228.38 485.11h1.5M219.19 485.92h1.5M170.04 485.43h1.5M212.04 485.42h1.5M174.47 486.51h1.5M144.45 483.90h1.5M181.76 483.38h1.5M185.34 486.13h1.5M216.06 484.29h1.5M156.93 484.04h1.5M148.40 487.17h1.5M182.74 483.95h1.5M189.93 486.70h1.5M221.88 483.60h1.5M183.20 486.20h1.5M158.84 484.44h1.5M173.45 485.57h1.5M171.64 485.62h1.5M222.68 483.27h1.5M177.20 486.64h1.5M147.90 486.56h1.5M156.53 483.54h1.5M195.67 486.27h1.5M145.92 486.30h1.5M179.73 483.34h1.5M173.78 487.23h1.5M191.45 486.05h1.5M195.91 485.70h1.5M196.49 484.44h1.5M180.11 483.81h1.5M194.00 485.46h1.5M170.69 485.69h1.5M147.83 484.01h1.5M169.55 484.04h1.5M189.07 486.36h1.5M200.23 484.03h1.5M226.70 483.77h1.5M162.98 485.97h1.5M144.82 483.64h1.5M144.78 485.94h1.5M178.90 484.70h1.5M133.73 486.45h1.5M179.32 485.32h1.5M180.72 484.62h1.5M130.27 486.07h1.5M190.26 483.29h1.5M174.33 485.64h1.5M193.87 487.04h1.5M203.07 486.48h1.5M168.50 484.46h1.5M173.06 485.22h1.5M186.30 483.48h1.5M143.35 485.33h1.5M188.10 487.20h1.5M130.07 485.24h1.5M204.61 486.85h1.5M188.38 483.43h1.5M153.99 486.05h1.5M172.42 485.31h1.5M157.28 483.36h1.5M183.18 484.81h1.5M209.11 484.18h1.5M165.91 484.20h1.5M180.60 485.07h1.5M208.20 484.82h1.5M170.17 484.80h1.5M200.14 486.21h1.5M152.20 486.55h1.5M166.04 484.27h1.5M196.42 484.53h1.5M208.23 486.76h1.5M139.46 485.08h1.5M170.27 483.76h1.5M211.55 486.70h1.5M183.90 483.58h1.5M151.23 486.57h1.5M183.84 484.54h1.5M158.66 484.51h1.5M210.93 487.28h1.5M151.03 486.04h1.5M144.26 483.54h1.5M176.34 483.81h1.5M172.24 483.50h1.5M172.17 485.30h1.5M148.73 486.79h1.5M193.98 486.65h1.5M168.03 485.67h1.5M142.59 487.26h1.5M188.41 483.76h1.5M158.63 483.90h1.5M198.31 483.40h1.5M147.45 486.30h1.5M207.77 485.64h1.5M214.11 483.34h1.5M194.70 483.90h1.5M201.78 484.72h1.5M206.32 487.20h1.5M234.43 485.48h1.5M195.56 483.90h1.5M173.91 485.75h1.5M227.91 485.81h1.5M181.95 484.63h1.5M191.54 483.70h1.5M165.45 485.32h1.5M208.98 487.09h1.5M198.77 486.32h1.5M179.89 485.04h1.5M228.65 486.59h1.5M236.46 486.43h1.5M192.00 484.11h1.5M173.17 485.37h1.5M158.57 486.93h1.5M153.11 484.91h1.5M188.49 483.71h1.5M155.14 485.64h1.5M153.94 486.43h1.5M153.07 487.10h1.5M220.49 484.26h1.5M164.10 484.68h1.5M127.82 484.25h1.5M146.10 484.88h1.5M135.44 485.74h1.5M162.63 485.07h1.5M159.71 486.92h1.5M218.27 483.91h1.5M148.62 483.62h1.5M142.24 484.03h1.5M180.44 483.65h1.5M229.84 484.82h1.5M164.26 485.43h1.5M154.00 484.61h1.5M215.22 486.96h1.5M127.52 483.77h1.5M173.05 485.85h1.5M162.14 486.44h1.5M192.90 484.46h1.5M187.79 486.57h1.5M169.28 484.44h1.5M163.69 486.77h1.5M175.07 487.06h1.5M164.81 486.16h1.5M158.61 487.16h1.5M175.04 483.38h1.5M178.96 487.08h1.5M223.67 486.23h1.5M185.91 487.20h1.5M148.87 483.74h1.5M181.32 486.57h1.5M155.13 485.54h1.5M225.56 485.25h1.5M184.29 486.28h1.5M156.89 484.94h1.5M147.03 483.75h1.5M193.91 486.09h1.5M150.11 485.25h1.5M139.80 484.02h1.5M170.50 487.07h1.5M149.85 483.33h1.5M172.92 485.96h1.5M182.26 485.26h1.5M225.56 485.10h1.5M215.58 485.05h1.5M210.93 484.21h1.5M153.81 483.93h1.5M189.16 483.76h1.5M147.48 486.09h1.5M159.25 486.97h1.5M157.45 485.87h1.5M140.50 485.61h1.5M198.69 486.29h1.5M174.75 487.17h1.5M150.43 486.96h1.5M180.69 485.21h1.5M165.79 483.69h1.5M194.89 486.24h1.5M162.52 483.96h1.5M187.86 485.18h1.5M229.66 483.46h1.5M194.33 485.46h1.5M155.37 484.42h1.5M139.33 487.07h1.5M158.96 486.62h1.5M153.03 485.70h1.5M163.33 485.91h1.5M163.12 483.98h1.5M173.78 483.86h1.5M197.07 486.09h1.5M170.73 483.79h1.5M207.53 484.47h1.5M137.35 485.94h1.5M161.37 486.33h1.5M138.10 485.70h1.5M141.40 484.57h1.5M183.99 483.43h1.5M203.25 484.80h1.5M145.15 483.87h1.5M197.50 486.87h1.5M189.61 483.82h1.5M165.63 483.85h1.5M140.52 485.86h1.5M170.05 484.24h1.5M166.10 484.95h1.5M179.10 484.03h1.5M141.98 485.22h1.5M205.70 485.73h1.5M142.73 487.11h1.5M157.16 486.05h1.5M164.62 486.65h1.5M198.23 484.90h1.5M169.71 484.73h1.5M222.21 485.56h1.5M208.34 485.55h1.5M156.58 484.44h1.5M201.97 484.25h1.5M141.46 486.26h1.5M135.62 487.23h1.5M223.49 484.51h1.5M189.90 484.59h1.5M223.21 484.86h1.5M168.67 486.41h1.5M158.33 485.27h1.5M150.93 483.80h1.5M222.16 483.23h1.5M192.43 485.12h1.5M126.91 486.75h1.5M145.68 486.95h1.5M149.52 483.87h1.5M135.62 485.41h1.5M203.64 485.89h1.5M167.21 487.10h1.5M191.67 486.63h1.5M177.18 485.28h1.5M155.57 486.71h1.5M142.89 486.92h1.5M199.67 485.01h1.5M183.71 486.63h1.5M155.38 485.20h1.5M214.48 485.53h1.5M144.77 484.37h1.5M179.40 484.90h1.5M186.02 485.46h1.5M136.52 483.66h1.5M146.87 483.84h1.5M190.62 486.58h1.5M179.97 485.20h1.5M134.48 485.83h1.5M144.66 484.56h1.5M139.16 486.45h1.5M172.22 487.27h1.5M234.45 486.50h1.5M215.69 485.12h1.5M197.97 486.70h1.5M139.35 487.05h1.5M204.50 487.30h1.5M151.12 486.03h1.5M149.74 486.32h1.5M204.79 487.17h1.5M166.00 484.67h1.5M195.40 484.31h1.5M189.39 484.70h1.5M154.60 483.20h1.5M177.53 484.82h1.5M189.68 484.34h1.5M170.24 484.80h1.5M138.58 486.26h1.5M210.27 485.35h1.5M156.26 487.13h1.5M150.13 484.56h1.5M156.81 483.74h1.5M199.89 484.67h1.5M178.93 483.83h1.5M226.00 486.48h1.5M130.31 483.94h1.5M159.70 484.46h1.5M175.75 484.15h1.5M164.56 486.82h1.5M131.22 485.15h1.5M143.36 486.78h1.5M156.27 487.01h1.5M157.76 484.45h1.5M166.55 484.76h1.5M163.32 487.28h1.5M141.84 483.24h1.5M211.06 485.87h1.5M216.44 484.70h1.5M172.49 484.06h1.5M203.41 484.31h1.5M199.46 486.50h1.5M198.69 486.75h1.5M154.00 483.80h1.5M175.66 486.45h1.5M158.31 483.58h1.5M135.27 483.84h1.5M178.71 484.62h1.5M171.87 487.23h1.5M185.82 486.04h1.5M174.04 486.87h1.5M176.92 484.81h1.5M181.02 483.45h1.5M142.14 484.69h1.5M150.93 486.58h1.5M240.06 487.06h1.5M183.45 485.56h1.5M209.57 486.63h1.5M157.96 486.60h1.5M174.47 483.21h1.5M213.35 484.81h1.5M181.91 487.04h1.5M188.90 483.65h1.5M199.36 486.53h1.5M171.56 486.17h1.5M137.75 485.44h1.5M135.32 486.47h1.5M135.72 486.54h1.5M132.12 485.35h1.5M138.94 485.85h1.5M152.49 483.55h1.5M222.05 486.17h1.5M148.60 486.51h1.5M175.02 484.38h1.5M166.95 485.68h1.5M168.19 483.82h1.5M137.99 486.10h1.5M187.26 486.52h1.5M156.90 487.20h1.5M205.58 485.32h1.5M180.15 486.58h1.5M134.44 485.88h1.5M197.80 485.01h1.5M137.22 484.43h1.5M233.76 485.16h1.5M190.70 483.44h1.5M203.99 484.95h1.5M162.16 484.91h1.5M161.05 484.57h1.5M146.36 483.97h1.5M157.60 485.70h1.5M155.39 486.89h1.5M128.50 483.47h1.5M211.47 486.44h1.5M144.58 486.65h1.5M198.75 486.19h1.5M139.71 483.51h1.5M175.38 484.72h1.5M145.30 485.65h1.5M158.18 486.98h1.5M167.35 483.24h1.5M156.18 483.26h1.5M168.16 484.52h1.5M163.10 486.40h1.5M145.99 485.08h1.5M170.86 483.54h1.5M173.01 487.08h1.5M196.19 485.87h1.5M164.69 484.28h1.5M137.63 485.01h1.5M153.27 484.67h1.5M169.56 485.95h1.5M165.05 485.57h1.5M193.39 485.03h1.5M217.90 484.74h1.5M184.89 486.03h1.5M185.76 484.95h1.5M191.41 484.27h1.5M165.11 485.20h1.5M175.41 487.04h1.5M198.15 485.68h1.5M193.07 483.60h1.5M168.13 483.29h1.5M166.37 484.47h1.5M180.16 484.86h1.5M218.62 486.53h1.5M216.93 483.59h1.5M151.48 484.78h1.5M219.25 485.42h1.5M160.86 486.77h1.5M202.36 486.60h1.5M184.90 485.58h1.5M175.03 484.86h1.5M153.45 485.68h1.5M203.13 484.74h1.5M194.82 485.92h1.5M132.31 485.31h1.5M214.42 483.35h1.5M170.44 483.36h1.5M191.03 484.72h1.5M152.44 483.20h1.5M172.26 483.49h1.5M170.61 485.92h1.5M217.59 485.81h1.5M190.34 483.56h1.5M169.18 485.03h1.5M227.98 485.29h1.5M217.33 484.97h1.5M211.78 483.35h1.5M142.71 487.03h1.5M233.68 483.61h1.5M186.76 485.72h1.5M221.97 485.80h1.5M149.79 486.81h1.5M171.12 484.94h1.5M150.96 485.20h1.5M158.53 484.94h1.5M148.78 484.57h1.5M147.50 485.46h1.5M200.13 486.08h1.5M168.80 484.76h1.5M165.33 483.90h1.5M176.26 485.71h1.5M139.78 484.18h1.5M200.58 485.42h1.5M162.22 485.21h1.5M185.84 483.37h1.5M163.09 484.69h1.5M148.05 484.84h1.5M136.55 485.84h1.5M198.77 485.56h1.5M173.89 484.62h1.5M140.00 486.51h1.5M177.33 484.33h1.5M201.34 483.68h1.5M174.28 487.19h1.5M194.16 486.72h1.5M160.11 485.92h1.5M134.35 483.93h1.5M162.31 486.23h1.5M177.44 484.15h1.5M197.64 486.19h1.5M228.67 487.23h1.5M171.62 485.42h1.5M173.85 486.72h1.5M195.98 485.52h1.5M177.93 484.03h1.5M162.57 483.86h1.5M174.38 486.67h1.5M218.18 483.39h1.5M169.48 486.68h1.5M217.23 484.02h1.5M168.13 486.65h1.5M208.90 486.51h1.5M155.63 485.67h1.5M154.29 484.07h1.5M130.43 485.23h1.5M176.39 484.32h1.5M176.36 486.68h1.5M159.84 485.58h1.5M221.73 485.25h1.5M140.54 485.67h1.5M134.56 484.12h1.5M175.41 486.00h1.5M192.38 485.42h1.5M174.44 484.36h1.5M149.66 483.75h1.5M199.35 483.45h1.5M135.65 485.99h1.5M161.95 487.10h1.5M169.55 485.69h1.5M157.96 484.96h1.5M164.91 483.68h1.5M172.82 485.86h1.5M186.07 483.62h1.5M175.25 483.90h1.5M172.92 483.97h1.5M162.55 483.60h1.5M144.50 485.31h1.5M151.00 486.91h1.5M139.10 483.89h1.5M159.55 485.11h1.5M207.72 485.73h1.5M136.28 485.63h1.5M171.25 487.27h1.5M221.76 484.63h1.5M192.62 487.05h1.5M161.35 483.60h1.5M180.53 486.29h1.5M149.16 483.43h1.5M177.61 487.09h1.5M162.37 486.35h1.5M229.82 485.68h1.5M147.08 486.36h1.5M185.14 486.77h1.5M182.62 484.62h1.5M167.22 486.19h1.5M176.33 486.11h1.5M239.10 484.72h1.5M133.24 487.12h1.5M177.54 484.89h1.5M198.68 487.09h1.5M144.43 483.82h1.5M137.41 485.69h1.5M226.81 486.10h1.5M186.77 485.25h1.5M153.31 485.87h1.5M155.93 485.95h1.5M162.60 486.58h1.5M181.74 486.54h1.5M147.18 484.36h1.5M190.98 484.33h1.5M192.03 484.11h1.5M213.11 485.21h1.5M186.38 487.28h1.5M193.12 484.34h1.5M185.09 485.24h1.5M205.99 486.03h1.5M189.04 485.31h1.5M165.51 486.66h1.5M155.84 484.06h1.5M156.13 485.38h1.5M174.79 484.50h1.5M149.31 486.79h1.5M170.11 483.76h1.5M150.65 484.95h1.5M173.23 484.70h1.5M169.49 485.55h1.5M178.81 485.13h1.5M205.97 484.64h1.5M173.65 484.13h1.5M191.38 485.03h1.5M175.60 485.05h1.5M178.97 483.64h1.5M169.48 486.76h1.5M152.41 485.61h1.5M134.02 486.14h1.5M185.64 486.72h1.5M195.22 486.33h1.5M156.21 486.81h1.5M198.89 484.14h1.5M167.37 487.04h1.5M214.55 485.41h1.5M129.00 486.94h1.5M175.64 487.22h1.5M200.37 486.64h1.5M198.51 485.57h1.5M228.96 486.27h1.5M184.30 484.19h1.5M185.04 486.93h1.5M184.56 483.58h1.5M192.71 486.05h1.5M180.98 486.40h1.5M171.70 485.83h1.5M166.86 486.66h1.5M191.93 484.99h1.5M159.40 484.85h1.5M148.47 485.13h1.5M199.99 486.49h1.5M164.67 483.54h1.5M162.91 483.57h1.5M181.16 483.19h1.5M158.25 485.63h1.5M146.39 486.42h1.5M199.39 485.17h1.5M206.18 483.75h1.5M146.31 483.47h1.5M166.41 483.53h1.5M187.02 486.07h1.5M208.17 485.20h1.5M194.44 486.57h1.5M194.46 483.58h1.5M161.04 485.88h1.5M178.75 486.07h1.5M203.36 487.20h1.5M141.70 483.60h1.5M199.20 484.46h1.5M179.32 483.84h1.5M155.91 486.49h1.5M190.32 486.81h1.5M185.89 483.62h1.5M156.10 487.09h1.5M167.51 485.95h1.5M150.32 485.19h1.5M166.27 484.50h1.5M142.04 485.81h1.5M132.63 484.74h1.5M196.99 486.83h1.5M129.25 485.76h1.5M134.34 486.25h1.5M145.06 484.88h1.5M234.11 486.22h1.5M131.60 484.41h1.5M160.17 484.78h1.5M152.85 486.39h1.5M195.59 483.50h1.5M151.65 485.22h1.5M208.83 486.15h1.5M171.78 483.54h1.5M211.54 486.14h1.5M181.75 484.27h1.5M171.01 484.23h1.5M138.04 484.83h1.5M155.82 483.38h1.5M167.78 483.42h1.5M163.89 485.38h1.5M189.38 486.73h1.5M171.01 483.59h1.5M196.42 487.25h1.5M167.78 483.88h1.5M164.04 484.99h1.5M198.00 487.08h1.5M181.06 484.09h1.5M196.52 485.43h1.5M184.10 485.80h1.5M158.00 484.81h1.5M179.03 485.14h1.5M185.19 485.33h1.5M175.93 484.04h1.5M215.78 486.03h1.5M179.70 483.92h1.5M175.86 483.24h1.5M200.79 486.89h1.5M158.80 484.53h1.5M180.02 486.74h1.5M153.57 487.29h1.5M131.14 484.34h1.5M144.64 483.67h1.5M211.08 484.07h1.5M133.61 485.58h1.5M183.15 485.10h1.5M132.25 486.27h1.5M193.80 486.13h1.5M189.76 484.20h1.5M175.41 485.57h1.5M156.81 487.26h1.5M171.75 487.26h1.5M181.03 483.66h1.5M161.98 484.38h1.5M192.26 486.68h1.5M172.96 485.54h1.5M168.00 483.33h1.5M159.02 485.93h1.5M167.11 485.01h1.5M160.74 486.64h1.5M185.92 485.18h1.5M178.99 483.66h1.5M150.80 484.96h1.5M186.71 483.67h1.5M166.22 486.87h1.5M177.84 485.38h1.5M167.40 485.48h1.5M188.26 486.62h1.5M190.46 484.30h1.5M185.81 486.64h1.5M217.73 486.97h1.5M204.85 486.12h1.5M186.58 485.43h1.5M159.87 484.67h1.5M164.84 484.33h1.5M174.84 486.26h1.5M174.76 485.45h1.5M150.30 484.92h1.5M142.70 484.28h1.5M186.49 483.40h1.5M174.49 483.96h1.5M176.21 483.65h1.5M125.91 484.64h1.5M180.32 483.38h1.5M201.79 483.39h1.5M202.69 484.26h1.5M187.08 486.39h1.5M194.37 483.64h1.5M131.99 485.84h1.5M198.61 487.05h1.5M187.19 487.20h1.5M209.85 483.20h1.5M208.46 485.14h1.5M161.74 486.69h1.5M139.03 486.06h1.5M211.74 483.69h1.5M175.15 485.51h1.5M138.49 484.79h1.5M152.48 486.17h1.5M188.22 485.73h1.5M159.34 485.37h1.5M220.49 486.59h1.5M151.75 483.40h1.5M196.15 484.38h1.5M206.44 484.88h1.5M178.05 485.48h1.5M190.30 487.16h1.5M154.47 483.78h1.5M211.35 486.48h1.5M176.10 487.22h1.5M155.49 486.48h1.5M173.84 486.81h1.5M207.84 483.53h1.5M168.11 487.24h1.5M131.05 483.28h1.5M145.54 483.34h1.5M209.11 483.84h1.5M169.27 483.79h1.5M146.83 484.19h1.5M179.71 485.63h1.5M184.93 483.26h1.5M189.11 485.06h1.5M158.96 487.08h1.5M175.94 484.02h1.5M177.55 484.05h1.5M176.35 487.24h1.5M178.74 487.07h1.5M173.91 484.99h1.5M174.57 486.55h1.5M135.58 483.80h1.5M146.18 483.92h1.5M208.02 485.63h1.5M170.78 487.29h1.5M156.92 484.37h1.5M199.03 483.33h1.5M173.06 486.17h1.5M182.00 486.82h1.5M149.26 484.25h1.5M199.50 484.76h1.5M204.83 483.88h1.5M160.36 487.08h1.5M134.13 486.95h1.5M149.79 483.94h1.5M179.92 486.69h1.5M131.87 483.27h1.5M201.27 485.21h1.5M171.31 486.06h1.5M156.24 486.01h1.5M172.87 483.19h1.5M149.19 486.08h1.5M195.31 484.36h1.5M166.57 486.75h1.5M190.75 484.59h1.5M219.10 485.92h1.5M165.91 483.50h1.5M176.53 483.29h1.5M193.35 483.49h1.5M185.89 486.33h1.5M186.51 486.86h1.5M157.12 483.88h1.5M157.19 487.04h1.5M173.66 486.84h1.5M152.95 485.84h1.5M176.40 483.23h1.5M176.59 485.71h1.5M178.84 484.26h1.5M142.26 485.22h1.5M194.57 483.82h1.5M185.73 485.03h1.5M158.08 484.09h1.5M136.17 487.04h1.5M157.50 486.70h1.5M129.60 486.50h1.5M175.12 484.89h1.5M157.85 486.85h1.5M220.79 486.59h1.5M199.88 487.19h1.5M153.56 484.19h1.5M157.90 485.68h1.5M161.51 484.54h1.5M147.37 483.44h1.5M197.50 483.85h1.5M159.45 486.31h1.5M159.27 485.85h1.5M168.15 483.50h1.5M189.78 484.56h1.5M158.94 484.79h1.5M160.84 486.19h1.5M197.34 485.72h1.5M168.57 485.40h1.5M139.09 486.27h1.5M170.41 483.67h1.5M169.12 483.30h1.5M179.68 483.35h1.5M150.00 483.75h1.5M163.06 486.53h1.5M209.87 484.77h1.5M196.19 486.48h1.5M151.35 483.25h1.5M148.63 483.27h1.5M216.09 486.91h1.5M178.23 485.58h1.5M150.48 487.06h1.5M211.90 484.40h1.5M188.99 486.74h1.5M169.06 486.30h1.5M159.89 486.48h1.5M137.78 485.37h1.5M159.04 483.64h1.5M239.74 484.21h1.5M216.80 484.00h1.5M191.72 483.19h1.5M157.76 483.58h1.5M198.06 485.46h1.5M173.15 482.81h1.5M175.85 480.12h1.5M154.50 481.94h1.5M170.27 478.55h1.5M216.28 478.99h1.5M166.17 483.10h1.5M185.44 481.15h1.5M129.97 479.80h1.5M160.62 478.91h1.5M172.80 478.37h1.5M205.56 478.24h1.5M211.74 480.28h1.5M207.64 479.31h1.5M153.35 479.46h1.5M156.01 478.72h1.5M178.95 482.58h1.5M176.29 479.48h1.5M152.37 483.02h1.5M159.98 481.78h1.5M133.66 481.83h1.5M151.00 482.21h1.5M174.07 481.73h1.5M153.83 479.81h1.5M214.04 481.23h1.5M173.65 481.97h1.5M169.55 482.24h1.5M172.55 482.32h1.5M184.34 482.22h1.5M164.95 479.16h1.5M131.32 480.61h1.5M146.52 482.25h1.5M158.04 479.52h1.5M184.10 481.11h1.5M194.33 478.27h1.5M196.50 479.75h1.5M175.77 481.77h1.5M177.18 478.89h1.5M143.82 481.02h1.5M211.20 480.24h1.5M145.03 478.58h1.5M147.99 481.37h1.5M170.36 482.20h1.5M166.77 480.22h1.5M152.68 482.16h1.5M173.62 478.60h1.5M187.37 478.84h1.5M183.83 480.77h1.5M166.06 482.05h1.5M135.49 481.31h1.5M155.93 480.27h1.5M196.81 480.20h1.5M173.45 482.35h1.5M150.68 480.43h1.5M207.07 481.20h1.5M168.72 480.20h1.5M146.70 478.48h1.5M185.94 478.33h1.5M174.08 478.60h1.5M172.71 479.65h1.5M224.55 480.13h1.5M235.88 478.62h1.5M156.66 482.34h1.5M158.24 479.42h1.5M174.14 478.93h1.5M136.97 479.09h1.5M168.61 479.47h1.5M142.90 480.46h1.5M149.61 482.09h1.5M207.20 482.55h1.5M129.01 480.83h1.5M130.08 479.42h1.5M165.14 482.49h1.5M132.28 481.51h1.5M160.60 483.06h1.5M148.01 481.97h1.5M149.99 481.21h1.5M184.19 482.29h1.5M208.45 481.70h1.5M163.55 479.08h1.5M150.58 481.38h1.5M168.32 480.88h1.5M160.28 482.06h1.5M152.38 483.07h1.5M143.66 480.36h1.5M156.43 480.11h1.5M147.40 480.88h1.5M160.46 480.44h1.5M151.72 479.89h1.5M193.24 483.00h1.5M166.86 481.72h1.5M161.97 478.33h1.5M218.68 478.81h1.5M223.07 482.75h1.5M163.95 482.07h1.5M156.61 478.97h1.5M140.06 480.85h1.5M174.56 480.93h1.5M152.68 480.06h1.5M184.79 478.89h1.5M195.10 479.17h1.5M146.66 481.58h1.5M181.76 482.42h1.5M172.88 481.33h1.5M140.84 482.62h1.5M168.06 480.28h1.5M153.35 479.45h1.5M156.15 481.14h1.5M170.06 481.65h1.5M146.42 480.76h1.5M190.60 479.70h1.5M168.87 482.37h1.5M165.44 481.58h1.5M133.67 482.06h1.5M190.07 481.05h1.5M195.54 479.90h1.5M158.48 480.08h1.5M175.25 481.93h1.5M151.37 479.65h1.5M152.49 482.20h1.5M180.99 479.06h1.5M152.78 478.62h1.5M163.05 478.77h1.5M177.37 479.56h1.5M140.46 478.38h1.5M185.64 480.20h1.5M146.51 481.10h1.5M196.21 481.14h1.5M191.20 481.83h1.5M165.22 480.28h1.5M163.15 482.61h1.5M171.35 482.92h1.5M153.08 481.16h1.5M167.49 482.33h1.5M191.22 480.90h1.5M176.27 482.96h1.5M141.88 481.98h1.5M143.87 478.62h1.5M197.24 478.97h1.5M191.99 480.67h1.5M187.03 481.39h1.5M145.13 482.48h1.5M212.42 480.53h1.5M192.49 478.85h1.5M188.45 481.83h1.5M141.14 479.47h1.5M167.41 480.75h1.5M134.77 480.17h1.5M153.14 482.04h1.5M144.68 481.75h1.5M180.81 482.16h1.5M202.49 480.17h1.5M220.17 482.64h1.5M129.27 481.21h1.5M178.83 478.34h1.5M156.74 479.90h1.5M172.18 482.00h1.5M130.50 481.87h1.5M197.92 482.88h1.5M132.27 480.62h1.5M186.04 481.08h1.5M162.78 478.30h1.5M182.85 482.71h1.5M152.07 478.77h1.5M194.04 480.63h1.5M165.83 479.27h1.5M162.19 478.67h1.5M169.24 481.91h1.5M161.23 480.62h1.5M134.60 481.28h1.5M161.48 479.02h1.5M174.67 481.12h1.5M165.28 480.17h1.5M149.65 481.23h1.5M159.12 482.04h1.5M139.36 480.25h1.5M173.39 480.85h1.5M152.02 480.34h1.5M173.82 480.74h1.5M173.96 480.09h1.5M179.84 479.86h1.5M170.98 480.75h1.5M174.76 479.24h1.5M140.60 478.67h1.5M191.37 483.13h1.5M168.91 482.68h1.5M170.00 478.53h1.5M167.61 479.76h1.5M210.32 478.90h1.5M149.47 480.03h1.5M207.33 479.28h1.5M238.63 478.58h1.5M165.70 478.67h1.5M150.92 481.27h1.5M175.53 483.03h1.5M165.38 478.22h1.5M136.82 481.37h1.5M146.12 479.62h1.5M181.41 478.69h1.5M157.28 481.94h1.5M173.51 479.61h1.5M187.33 481.38h1.5M164.34 479.01h1.5M152.86 479.60h1.5M173.49 478.81h1.5M146.75 483.01h1.5M143.83 478.44h1.5M163.09 480.33h1.5M141.33 481.58h1.5M174.80 478.80h1.5M191.24 480.00h1.5M151.12 481.05h1.5M172.90 479.86h1.5M168.69 483.16h1.5M159.44 478.17h1.5M202.71 478.81h1.5M162.68 482.84h1.5M189.32 479.60h1.5M155.74 479.41h1.5M210.18 482.19h1.5M161.76 482.27h1.5M149.61 479.80h1.5M158.38 481.27h1.5M166.12 479.99h1.5M180.14 483.07h1.5M148.30 479.47h1.5M207.41 480.32h1.5M165.50 481.55h1.5M188.91 480.86h1.5M143.32 478.69h1.5M173.15 478.71h1.5M152.71 479.44h1.5M190.71 478.64h1.5M153.32 478.50h1.5M150.89 479.87h1.5M164.79 479.37h1.5M163.70 480.30h1.5M161.92 479.83h1.5M164.53 482.25h1.5M185.00 480.04h1.5M192.34 483.06h1.5M209.08 481.94h1.5M170.14 482.51h1.5M150.24 480.32h1.5M213.36 479.59h1.5M163.96 481.23h1.5M190.09 482.18h1.5M167.98 478.95h1.5M169.05 480.71h1.5M135.71 479.51h1.5M158.05 482.92h1.5M161.94 482.36h1.5M151.47 478.96h1.5M164.25 482.05h1.5M164.09 478.49h1.5M157.53 478.66h1.5M173.57 479.64h1.5M159.28 482.80h1.5M138.55 480.29h1.5M170.08 478.92h1.5M166.29 481.83h1.5M145.40 480.13h1.5M165.70 481.50h1.5M173.45 479.23h1.5M196.25 483.15h1.5M151.72 478.95h1.5M183.82 482.35h1.5M190.58 478.68h1.5M149.92 482.10h1.5M196.29 478.18h1.5M214.05 481.31h1.5M154.34 480.23h1.5M188.14 480.71h1.5M151.93 478.53h1.5M175.75 479.62h1.5M148.62 482.23h1.5M208.11 482.46h1.5M191.36 478.40h1.5M190.04 479.64h1.5M159.34 481.09h1.5M142.94 480.53h1.5M140.14 482.10h1.5M130.22 482.52h1.5M210.54 482.24h1.5M158.53 480.61h1.5M133.87 482.83h1.5M167.29 482.36h1.5M175.39 478.46h1.5M166.04 482.35h1.5M203.04 480.24h1.5M164.07 482.51h1.5M168.01 481.77h1.5M182.95 478.49h1.5M144.08 482.07h1.5M171.84 482.55h1.5M157.82 479.38h1.5M194.84 479.21h1.5M184.82 479.08h1.5M189.42 479.60h1.5M173.24 479.84h1.5M165.54 481.40h1.5M133.09 482.51h1.5M211.79 482.64h1.5M149.17 481.87h1.5M173.22 478.66h1.5M146.34 478.90h1.5M184.58 482.11h1.5M149.35 482.32h1.5M158.12 480.04h1.5M190.94 479.93h1.5M161.98 483.00h1.5M158.31 478.57h1.5M201.33 482.40h1.5M189.25 479.49h1.5M209.14 480.85h1.5M161.19 479.56h1.5M195.03 479.77h1.5M141.34 479.94h1.5M165.12 481.52h1.5M172.88 481.85h1.5M134.76 481.62h1.5M197.37 480.63h1.5M179.54 483.05h1.5M159.61 480.94h1.5M160.98 478.60h1.5M199.69 482.98h1.5M164.27 479.35h1.5M168.00 479.27h1.5M187.13 478.51h1.5M172.28 478.47h1.5M131.38 479.48h1.5M175.42 480.85h1.5M219.50 481.44h1.5M141.32 478.96h1.5M168.56 478.30h1.5M137.69 482.70h1.5M190.14 478.57h1.5M161.59 482.70h1.5M166.73 478.66h1.5M167.45 479.14h1.5M180.86 481.51h1.5M189.12 478.94h1.5M175.16 480.27h1.5M168.28 482.55h1.5M134.77 483.13h1.5M156.64 479.95h1.5M150.34 481.80h1.5M131.67 482.61h1.5M166.98 480.54h1.5M168.98 478.52h1.5M201.96 478.23h1.5M149.62 480.17h1.5M180.14 481.49h1.5M143.03 479.19h1.5M161.47 481.33h1.5M190.50 480.14h1.5M164.81 480.14h1.5M149.74 480.09h1.5M150.96 480.20h1.5M157.91 481.08h1.5M169.28 478.43h1.5M173.14 482.45h1.5M150.08 479.28h1.5M160.39 479.01h1.5M143.42 480.47h1.5M150.25 480.45h1.5M128.95 481.19h1.5M137.29 482.44h1.5M132.54 479.04h1.5M153.60 480.90h1.5M159.06 475.14h1.5M167.44 470.95h1.5M171.54 476.60h1.5M201.40 472.32h1.5M166.04 477.82h1.5M165.84 477.90h1.5M176.56 473.29h1.5M170.79 471.97h1.5M144.41 475.24h1.5M136.01 475.95h1.5M180.62 473.93h1.5M170.89 470.49h1.5M166.87 471.28h1.5M156.68 473.59h1.5M145.21 472.04h1.5M155.72 469.72h1.5M142.19 472.76h1.5M141.95 469.71h1.5M153.36 471.82h1.5M174.71 475.22h1.5M146.72 473.64h1.5M175.86 473.61h1.5M182.16 475.71h1.5M163.46 471.88h1.5M149.39 472.37h1.5M175.38 471.26h1.5M176.19 469.64h1.5M211.46 477.46h1.5M161.47 476.81h1.5M183.58 473.98h1.5M190.21 473.15h1.5M201.31 471.44h1.5M171.64 473.57h1.5M157.61 473.26h1.5M150.48 474.21h1.5M142.84 474.94h1.5M152.17 470.21h1.5M177.18 474.50h1.5M141.66 474.44h1.5M172.13 472.25h1.5M132.82 471.26h1.5M159.49 476.78h1.5M171.29 474.18h1.5M145.38 475.82h1.5M147.88 474.91h1.5M164.41 474.87h1.5M202.59 471.77h1.5M161.59 474.39h1.5M134.57 476.80h1.5M161.79 475.79h1.5M182.59 475.71h1.5M199.59 473.77h1.5M170.35 469.58h1.5M169.84 471.83h1.5M168.21 469.24h1.5M174.09 476.70h1.5M171.50 469.88h1.5M154.34 475.79h1.5M182.26 477.69h1.5M146.88 471.65h1.5M148.03 474.15h1.5M146.89 470.91h1.5M170.14 469.33h1.5M139.85 474.40h1.5M132.16 470.96h1.5M150.63 471.11h1.5M137.57 475.29h1.5M138.66 469.41h1.5M179.21 470.39h1.5M146.92 470.85h1.5M183.86 474.12h1.5M176.88 469.74h1.5M178.30 476.21h1.5M159.10 472.69h1.5M149.15 475.10h1.5M183.95 471.57h1.5M150.05 471.67h1.5M171.47 472.42h1.5M165.24 474.25h1.5M148.13 471.69h1.5M162.04 471.20h1.5M174.14 472.66h1.5M149.09 470.46h1.5M190.99 470.71h1.5M154.88 469.64h1.5M147.59 471.93h1.5M178.23 472.71h1.5M134.92 469.36h1.5M173.79 472.16h1.5M211.08 478.06h1.5M176.01 470.20h1.5M156.01 477.90h1.5M180.88 469.90h1.5M188.30 469.40h1.5M160.76 475.71h1.5M167.93 474.42h1.5M178.04 476.83h1.5M187.53 469.19h1.5M154.15 475.24h1.5M164.73 471.07h1.5M192.56 474.55h1.5M167.52 469.06h1.5M158.02 471.59h1.5M208.83 474.16h1.5M137.78 471.61h1.5M157.47 472.14h1.5M179.85 469.74h1.5M186.87 477.67h1.5M143.21 476.95h1.5M164.25 477.01h1.5M172.26 469.76h1.5M146.62 473.69h1.5M167.93 473.64h1.5M159.97 477.09h1.5M143.98 473.62h1.5M130.74 473.44h1.5M162.83 473.56h1.5M173.36 470.32h1.5M143.70 470.88h1.5M145.35 474.24h1.5M138.21 476.29h1.5M157.17 474.44h1.5M165.94 474.93h1.5M182.99 470.76h1.5M134.76 477.42h1.5M176.11 473.71h1.5M164.95 475.13h1.5M150.01 470.53h1.5M171.16 475.23h1.5M153.49 472.47h1.5M190.09 469.26h1.5M154.98 471.19h1.5M176.25 472.85h1.5M216.92 471.95h1.5M166.61 470.63h1.5M163.08 475.99h1.5M174.50 476.03h1.5M155.28 475.35h1.5M160.30 475.58h1.5M183.16 475.41h1.5M143.06 474.16h1.5M188.65 472.12h1.5M149.22 474.50h1.5M137.00 477.61h1.5M202.55 476.07h1.5M136.58 473.28h1.5M151.52 469.58h1.5M176.85 477.24h1.5M162.29 475.31h1.5M193.63 476.70h1.5M164.43 473.45h1.5M158.16 474.15h1.5M161.65 475.65h1.5M160.59 474.22h1.5M181.24 475.55h1.5M157.15 476.45h1.5M185.38 474.66h1.5M171.46 472.15h1.5M155.75 475.23h1.5M181.76 473.50h1.5M126.62 471.56h1.5M172.71 475.76h1.5M153.30 470.12h1.5M150.82 473.76h1.5M130.49 471.63h1.5M171.96 471.36h1.5M213.35 474.18h1.5M167.49 474.11h1.5M166.63 470.27h1.5M135.39 472.05h1.5M195.11 470.18h1.5M175.36 478.11h1.5M157.13 474.54h1.5M190.23 474.65h1.5M168.98 475.50h1.5M146.08 473.54h1.5M171.69 473.62h1.5M159.31 471.42h1.5M199.92 474.99h1.5M152.49 470.09h1.5M175.39 471.35h1.5M155.96 478.10h1.5M165.41 475.12h1.5M147.53 477.77h1.5M154.14 471.26h1.5M134.58 476.89h1.5M158.66 477.09h1.5M168.86 473.08h1.5M173.77 477.34h1.5M166.28 473.58h1.5M184.98 476.61h1.5M142.88 473.46h1.5M154.18 470.91h1.5M147.13 473.70h1.5M148.00 472.47h1.5M154.17 474.74h1.5M174.34 473.28h1.5M169.35 476.53h1.5M201.57 470.26h1.5M180.22 477.73h1.5M143.06 471.56h1.5M130.04 469.76h1.5M167.91 477.22h1.5M165.07 475.34h1.5M150.42 477.21h1.5M152.14 470.07h1.5M163.22 471.33h1.5M172.44 470.48h1.5M198.21 474.77h1.5M140.39 472.37h1.5M148.22 470.38h1.5M166.47 474.76h1.5M158.25 477.14h1.5M166.94 474.67h1.5M200.50 469.84h1.5M186.38 470.18h1.5M198.43 472.51h1.5M167.49 475.93h1.5M177.66 474.30h1.5M131.03 474.54h1.5M133.36 476.46h1.5M146.44 474.65h1.5M168.57 469.74h1.5M149.32 473.71h1.5M165.36 476.99h1.5M164.51 473.10h1.5M171.76 475.69h1.5M180.79 472.64h1.5M150.00 472.21h1.5M143.03 475.39h1.5M136.16 469.43h1.5M164.75 473.77h1.5M146.96 472.14h1.5M153.45 475.82h1.5M167.08 477.32h1.5M171.52 472.73h1.5M139.61 472.44h1.5M135.10 475.16h1.5M158.36 476.11h1.5M161.38 475.69h1.5M146.57 471.42h1.5M171.50 475.16h1.5M144.39 472.75h1.5M173.39 476.96h1.5M190.08 475.08h1.5M131.80 471.42h1.5M175.62 475.19h1.5M163.33 469.71h1.5M140.20 475.84h1.5M156.64 475.00h1.5M178.33 473.63h1.5M184.65 473.35h1.5M152.98 477.79h1.5M158.00 472.52h1.5M205.52 472.71h1.5M171.72 477.54h1.5M160.28 473.55h1.5M171.81 470.42h1.5M179.26 474.94h1.5M152.13 475.71h1.5M134.34 475.84h1.5M128.57 477.85h1.5M175.64 474.59h1.5M143.08 471.32h1.5M128.93 476.29h1.5M194.76 473.69h1.5M201.59 471.73h1.5M161.54 477.08h1.5M187.62 474.55h1.5M178.32 475.62h1.5M128.51 473.52h1.5M179.24 476.13h1.5M167.42 476.52h1.5M161.00 471.03h1.5M160.33 470.22h1.5M132.78 474.61h1.5M185.64 469.15h1.5M176.71 474.19h1.5M151.68 470.20h1.5M155.33 469.45h1.5M132.14 475.96h1.5M186.64 474.62h1.5M165.88 470.81h1.5M173.03 477.75h1.5M165.35 473.03h1.5M178.24 471.85h1.5M189.59 477.03h1.5M197.70 477.04h1.5M166.59 469.41h1.5M146.36 472.23h1.5M136.28 469.35h1.5M182.88 474.53h1.5M170.41 477.03h1.5M212.24 472.36h1.5M174.35 475.33h1.5M133.15 469.68h1.5M176.94 475.71h1.5M154.13 473.13h1.5M178.81 470.06h1.5M140.75 473.91h1.5M164.24 476.37h1.5M158.00 474.22h1.5M148.87 476.59h1.5M133.08 477.59h1.5M171.59 471.83h1.5M140.16 476.70h1.5M134.74 470.55h1.5M152.28 477.54h1.5M160.80 471.20h1.5M152.40 475.87h1.5M167.41 477.30h1.5M166.91 469.42h1.5M164.37 476.64h1.5M158.92 472.88h1.5M171.71 474.84h1.5M198.25 477.79h1.5M169.59 470.00h1.5M167.47 474.45h1.5M164.02 474.21h1.5M182.19 474.92h1.5M141.90 477.08h1.5M145.93 473.31h1.5M167.01 476.33h1.5M134.97 476.36h1.5M178.58 473.02h1.5M152.84 470.44h1.5M146.87 473.58h1.5M141.90 477.50h1.5M143.12 472.48h1.5M130.86 473.18h1.5M133.20 477.18h1.5M159.84 469.04h1.5M149.54 475.96h1.5M166.59 478.05h1.5M151.60 459.37h1.5M152.66 460.88h1.5M174.74 460.51h1.5M182.88 468.84h1.5M148.67 468.01h1.5M169.37 466.14h1.5M165.41 466.94h1.5M162.98 468.06h1.5M180.34 465.55h1.5M143.66 466.24h1.5M146.06 457.61h1.5M155.76 464.83h1.5M158.28 456.89h1.5M171.55 468.53h1.5M139.22 465.09h1.5M174.98 459.75h1.5M151.09 462.01h1.5M171.35 459.49h1.5M180.11 456.42h1.5M164.49 461.16h1.5M155.12 458.28h1.5M173.44 465.96h1.5M178.09 457.76h1.5M179.56 457.40h1.5M143.11 466.37h1.5M163.59 459.80h1.5M186.05 464.65h1.5M151.51 465.49h1.5M164.02 468.31h1.5M168.62 464.97h1.5M139.49 462.40h1.5M160.89 461.51h1.5M176.01 456.92h1.5M137.62 455.80h1.5M181.77 460.50h1.5M180.78 457.32h1.5M141.20 457.12h1.5M137.18 466.37h1.5M162.44 463.85h1.5M153.98 463.70h1.5M163.03 463.10h1.5M168.41 464.66h1.5M159.31 464.01h1.5M174.81 466.22h1.5M133.94 466.67h1.5M170.78 464.34h1.5M161.73 456.39h1.5M151.20 466.69h1.5M153.87 462.04h1.5M176.16 459.70h1.5M159.14 460.23h1.5M136.46 459.24h1.5M132.71 462.34h1.5M161.49 469.01h1.5M171.85 460.91h1.5M170.07 459.98h1.5M211.03 468.44h1.5M150.98 456.52h1.5M147.21 464.39h1.5M133.80 465.75h1.5M160.79 456.68h1.5M156.92 465.09h1.5M147.04 465.35h1.5M155.70 456.91h1.5M167.99 464.17h1.5M137.69 467.28h1.5M186.03 468.65h1.5M134.36 464.78h1.5M170.78 462.31h1.5M164.91 466.31h1.5M170.52 460.33h1.5M185.06 459.07h1.5M134.27 457.45h1.5M152.80 464.48h1.5M142.75 460.90h1.5M189.16 461.36h1.5M150.52 463.50h1.5M158.35 455.62h1.5M153.16 457.22h1.5M142.18 465.13h1.5M187.52 459.03h1.5M157.96 459.17h1.5M148.39 468.19h1.5M186.69 456.55h1.5M148.64 455.62h1.5M161.74 465.98h1.5M141.28 463.59h1.5M170.00 460.37h1.5M158.58 465.08h1.5M136.47 459.45h1.5M162.00 466.26h1.5M162.31 460.71h1.5M165.83 459.56h1.5M157.33 455.85h1.5M148.25 456.86h1.5M184.54 456.96h1.5M153.11 455.71h1.5M161.61 457.46h1.5M163.39 465.00h1.5M159.19 462.30h1.5M152.48 461.81h1.5M192.26 468.55h1.5M156.56 461.00h1.5M185.90 460.71h1.5M177.82 463.58h1.5M175.90 463.12h1.5M147.43 460.86h1.5M177.30 464.22h1.5M178.60 462.61h1.5M143.63 455.36h1.5M125.97 461.11h1.5M170.86 466.67h1.5M180.43 458.17h1.5M155.14 467.29h1.5M169.32 455.53h1.5M144.39 463.20h1.5M157.30 459.08h1.5M167.88 465.46h1.5M160.34 465.85h1.5M178.54 461.22h1.5M151.43 463.18h1.5M135.33 462.46h1.5M142.28 456.15h1.5M165.17 463.36h1.5M129.01 464.85h1.5M157.13 466.20h1.5M185.08 459.70h1.5M152.61 459.95h1.5M169.98 455.54h1.5M170.82 455.42h1.5M147.64 461.21h1.5M139.88 467.48h1.5M163.64 457.36h1.5M165.66 460.09h1.5M132.74 464.58h1.5M141.36 459.80h1.5M167.31 465.97h1.5M141.52 456.06h1.5M144.48 468.91h1.5M180.56 459.08h1.5M158.95 456.05h1.5M168.95 459.35h1.5M150.72 455.97h1.5M182.84 457.45h1.5M152.30 464.17h1.5M181.02 465.60h1.5M129.35 467.55h1.5M156.30 465.36h1.5M153.77 461.77h1.5M146.44 457.69h1.5M162.77 458.94h1.5M174.98 468.50h1.5M160.52 458.29h1.5M166.66 468.44h1.5M154.00 457.13h1.5M165.55 467.24h1.5M165.60 460.05h1.5M164.90 468.24h1.5M174.51 468.95h1.5M182.96 467.77h1.5M167.63 467.64h1.5M145.92 468.50h1.5M135.85 467.65h1.5M158.04 460.55h1.5M162.19 458.96h1.5M155.41 464.02h1.5M156.40 466.56h1.5M134.37 458.65h1.5M150.27 465.95h1.5M140.92 460.75h1.5M160.90 468.30h1.5M183.68 465.48h1.5M162.27 458.79h1.5M169.22 463.04h1.5M172.19 456.97h1.5M134.58 468.15h1.5M147.21 464.40h1.5M146.27 467.73h1.5M141.70 458.97h1.5M142.41 467.62h1.5M136.71 465.67h1.5M175.36 462.73h1.5M130.80 457.76h1.5M138.52 456.33h1.5M168.82 459.34h1.5M186.16 462.14h1.5M134.42 464.25h1.5M169.76 464.53h1.5M165.31 468.51h1.5M169.35 455.89h1.5M138.52 467.10h1.5M194.41 468.90h1.5M179.10 457.97h1.5M167.57 459.95h1.5M135.02 465.06h1.5M185.57 458.33h1.5M169.96 463.10h1.5M157.22 458.65h1.5M153.26 457.89h1.5M148.62 462.65h1.5M181.01 462.56h1.5M187.52 464.76h1.5M139.72 460.58h1.5M157.64 465.29h1.5M134.44 459.39h1.5M161.30 463.69h1.5M140.19 468.05h1.5M188.09 467.60h1.5M138.24 461.27h1.5M173.44 465.69h1.5M168.23 445.50h1.5M187.19 450.97h1.5M174.24 447.66h1.5M144.61 454.62h1.5M144.00 454.78h1.5M160.88 443.44h1.5M136.10 444.36h1.5M171.34 449.62h1.5M171.46 449.04h1.5M156.81 449.58h1.5M164.80 448.65h1.5M153.03 452.79h1.5M174.63 448.39h1.5M136.54 449.65h1.5M134.14 442.39h1.5M182.69 451.91h1.5M168.89 448.86h1.5M166.86 447.03h1.5M167.03 447.62h1.5M135.32 443.57h1.5M180.51 447.12h1.5M184.33 447.11h1.5M141.65 448.44h1.5M171.95 451.23h1.5M166.08 452.10h1.5M145.98 443.63h1.5M144.19 453.93h1.5M131.43 442.29h1.5M176.78 448.76h1.5M168.10 446.66h1.5M184.65 451.45h1.5M140.01 443.74h1.5M146.08 442.30h1.5M183.78 453.84h1.5M176.17 447.01h1.5M164.91 445.42h1.5M153.08 452.28h1.5M165.10 454.71h1.5M141.75 450.73h1.5M130.59 449.73h1.5M172.57 450.92h1.5M149.46 448.82h1.5M183.57 452.94h1.5M160.36 442.76h1.5M140.97 449.39h1.5M183.25 455.30h1.5M150.80 448.06h1.5M149.44 449.21h1.5M157.87 449.16h1.5M149.57 451.24h1.5M140.72 454.42h1.5M138.38 454.65h1.5M163.59 452.46h1.5M175.90 443.27h1.5M169.27 441.95h1.5M130.47 444.64h1.5M155.80 446.92h1.5M143.69 445.79h1.5M161.97 454.95h1.5M145.18 445.14h1.5M167.40 444.62h1.5M149.73 454.11h1.5M176.45 452.80h1.5M157.03 448.04h1.5M179.77 447.63h1.5M140.92 455.25h1.5M173.94 454.68h1.5M164.69 450.54h1.5M171.11 443.63h1.5M152.87 453.59h1.5M176.44 452.22h1.5M169.39 454.50h1.5M156.95 453.05h1.5M182.16 442.81h1.5M145.81 448.93h1.5M162.50 451.48h1.5M179.86 446.30h1.5M154.44 446.04h1.5M174.73 444.66h1.5M150.04 451.61h1.5M179.97 452.67h1.5M182.91 443.55h1.5M129.32 444.22h1.5M159.21 447.10h1.5M131.97 447.10h1.5M163.63 453.80h1.5M173.26 442.26h1.5M163.30 449.21h1.5M150.28 449.91h1.5M169.57 454.55h1.5M138.14 449.90h1.5M167.11 447.17h1.5M154.26 443.13h1.5M139.73 450.90h1.5M185.71 444.24h1.5M164.96 447.24h1.5M170.68 448.94h1.5M173.16 447.26h1.5M153.16 443.83h1.5M129.49 449.36h1.5M171.66 452.64h1.5M135.85 451.71h1.5M162.31 453.53h1.5M182.48 450.25h1.5M157.49 442.84h1.5M137.36 452.76h1.5M168.94 450.47h1.5M188.93 454.56h1.5M143.51 449.17h1.5M165.77 451.48h1.5M128.28 452.11h1.5M138.29 447.56h1.5M169.46 454.04h1.5M163.53 445.94h1.5M139.98 447.80h1.5M137.73 455.04h1.5M159.00 448.24h1.5M158.70 446.90h1.5M150.18 454.64h1.5M156.58 444.33h1.5M185.47 442.04h1.5M147.33 444.76h1.5M164.78 444.14h1.5M171.56 444.32h1.5M140.62 446.86h1.5M153.48 453.20h1.5M182.97 422.44h1.5M150.99 437.27h1.5M165.80 439.64h1.5M171.79 440.03h1.5M163.22 437.47h1.5M158.93 423.59h1.5M170.77 426.70h1.5M155.05 439.52h1.5M179.57 441.06h1.5M172.64 439.83h1.5M181.56 440.80h1.5M161.49 422.89h1.5M174.22 429.15h1.5M182.52 428.42h1.5M171.57 434.95h1.5M166.50 424.28h1.5M171.06 431.80h1.5M170.55 431.14h1.5M186.56 424.00h1.5M169.10 439.62h1.5M155.41 440.19h1.5M151.25 441.16h1.5M149.80 431.56h1.5M158.22 439.89h1.5M151.13 427.51h1.5M153.65 422.11h1.5M152.55 432.34h1.5M163.57 431.49h1.5M181.88 438.11h1.5M154.72 436.81h1.5M150.12 429.70h1.5M153.38 427.79h1.5M150.84 441.22h1.5M159.33 432.75h1.5M172.66 440.59h1.5M167.46 436.03h1.5M153.92 432.05h1.5M156.40 432.21h1.5M174.27 427.06h1.5M154.88 438.23h1.5M168.69 436.28h1.5M164.26 425.82h1.5M177.93 435.54h1.5M158.64 439.52h1.5M157.51 437.41h1.5M185.74 425.22h1.5M179.75 436.53h1.5M159.54 438.83h1.5M163.50 435.44h1.5M153.71 428.54h1.5M166.11 434.94h1.5M169.58 432.14h1.5M162.64 425.63h1.5M182.03 441.13h1.5M187.94 441.57h1.5M161.28 431.45h1.5M179.87 432.10h1.5M150.29 441.27h1.5M153.23 429.41h1.5M154.21 435.83h1.5M76.24 483.94h1.5M111.41 485.17h1.5M100.25 483.70h1.5M71.56 482.74h1.5M80.15 485.31h1.5M114.61 484.41h1.5M84.86 485.23h1.5M65.76 484.07h1.5M88.12 487.06h1.5M78.66 484.48h1.5M84.59 485.20h1.5M84.45 484.58h1.5M105.25 486.88h1.5M99.13 485.82h1.5M125.21 486.77h1.5M81.82 483.31h1.5M96.39 485.15h1.5M73.91 485.46h1.5M60.14 483.66h1.5M58.22 483.31h1.5M88.19 486.17h1.5M104.70 484.27h1.5M87.21 487.10h1.5M116.43 484.62h1.5M69.26 486.01h1.5M91.60 486.02h1.5M90.82 485.42h1.5M101.17 484.45h1.5M99.99 486.21h1.5M102.06 485.97h1.5M109.27 482.85h1.5M95.38 483.57h1.5M106.92 486.97h1.5M68.36 486.20h1.5M70.70 484.88h1.5M64.24 486.44h1.5M124.07 483.60h1.5M77.29 486.64h1.5M100.31 486.54h1.5M98.38 484.01h1.5M104.81 486.29h1.5M94.44 483.89h1.5M81.69 486.50h1.5M123.62 486.88h1.5M73.59 483.28h1.5M81.15 483.48h1.5M66.53 485.78h1.5M92.00 484.52h1.5M121.07 483.02h1.5M96.82 483.37h1.5M65.23 484.06h1.5M60.31 483.44h1.5M104.03 487.30h1.5M81.08 484.74h1.5M124.48 485.99h1.5M121.27 484.90h1.5M126.38 485.02h1.5M78.95 482.79h1.5M76.47 484.04h1.5M114.34 484.17h1.5M125.36 484.73h1.5M120.54 486.68h1.5M125.81 484.31h1.5M92.78 486.85h1.5M62.91 482.83h1.5M127.18 487.19h1.5M73.23 484.45h1.5M83.33 483.97h1.5M66.71 486.63h1.5M71.07 483.00h1.5M110.53 484.39h1.5M105.90 484.97h1.5M90.33 483.40h1.5M100.43 485.19h1.5M77.66 483.78h1.5M76.36 487.15h1.5M122.08 483.78h1.5M122.16 486.84h1.5M109.76 482.97h1.5M103.74 486.79h1.5M96.11 483.99h1.5M112.65 484.46h1.5M118.32 486.35h1.5M59.95 483.11h1.5M113.38 486.54h1.5M82.66 485.72h1.5M126.64 483.58h1.5M93.56 486.36h1.5M61.36 485.96h1.5M99.66 486.79h1.5M61.32 486.30h1.5M61.91 485.45h1.5M112.16 485.56h1.5M85.33 485.98h1.5M83.64 485.05h1.5M80.71 485.38h1.5M82.16 485.47h1.5M124.19 485.33h1.5M92.61 483.66h1.5M116.76 485.76h1.5M72.63 484.78h1.5M59.25 486.80h1.5M117.59 485.37h1.5M110.78 482.83h1.5M102.55 483.65h1.5M69.52 483.22h1.5M82.49 483.73h1.5M93.77 484.40h1.5M99.93 484.56h1.5M78.23 484.27h1.5M113.79 481.83h1.5M118.62 481.03h1.5M114.07 482.48h1.5M83.18 482.19h1.5M69.17 482.03h1.5M115.07 481.62h1.5M126.26 472.90h1.5M125.55 457.48h1.5M202.55 484.54h1.5M205.01 483.08h1.5M217.33 485.44h1.5M212.70 485.06h1.5M223.72 483.99h1.5M232.08 487.24h1.5M239.62 483.58h1.5M227.30 486.69h1.5M215.38 485.54h1.5M210.50 484.90h1.5M210.01 484.42h1.5M203.97 485.44h1.5M229.01 486.51h1.5M191.07 487.10h1.5M199.94 484.79h1.5M230.11 485.09h1.5M196.74 487.28h1.5M210.83 485.80h1.5M207.70 485.58h1.5M188.15 484.24h1.5M198.61 485.45h1.5M221.21 483.55h1.5M228.36 486.45h1.5M208.75 483.45h1.5M212.36 487.18h1.5M219.14 483.10h1.5M192.67 484.65h1.5M222.24 484.96h1.5M230.01 484.55h1.5M229.80 483.69h1.5M204.53 484.71h1.5M204.89 486.41h1.5M213.82 486.30h1.5M205.85 484.90h1.5M213.96 484.61h1.5M235.94 486.12h1.5M211.56 485.02h1.5M186.13 487.24h1.5M204.67 486.68h1.5M191.25 485.30h1.5M201.39 484.55h1.5M217.34 484.82h1.5M190.81 486.29h1.5M234.86 484.90h1.5M191.51 483.87h1.5M205.84 483.95h1.5M233.04 484.35h1.5M219.81 485.71h1.5M231.49 486.70h1.5M216.55 483.88h1.5M227.14 486.50h1.5M239.10 485.34h1.5M239.28 484.36h1.5M198.59 484.21h1.5M213.05 483.53h1.5M207.06 486.36h1.5M229.93 485.48h1.5M240.51 486.03h1.5M191.67 487.02h1.5M223.33 484.58h1.5M135.87 316.84h1.5M143.02 315.59h1.5M134.62 326.64h1.5M132.30 331.99h1.5M144.27 331.99h1.5M145.70 348.57h1.5M156.42 307.92h1.5M161.77 317.37h1.5M162.67 321.83h1.5M165.70 328.43h1.5M164.08 342.84h1.5M167.11 345.69h1.5M150.14 351.04h1.5M168.54 357.64h1.5M160.33 360.31h1.5M171.94 366.02h1.5M159.08 373.68h1.5M162.65 372.79h1.5M173.90 374.93h1.5M192.12 369.22h1.5M203.74 352.82h1.5M210.88 345.69h1.5M213.20 366.55h1.5M214.45 364.77h1.5M148.71 350.89h1.5M146.93 357.49h1.5M142.64 360.34h1.5M144.78 361.05h1.5M131.92 361.59h1.5M130.14 364.62h1.5M135.49 365.69h1.5M139.42 366.94h1.5M142.64 365.16h1.5M136.21 371.40h1.5M140.32 372.82h1.5M134.42 375.85h1.5M135.85 378.17h1.5M147.46 377.64h1.5M136.75 380.67h1.5M138.00 381.74h1.5M134.42 382.98h1.5M142.64 379.42h1.5M144.78 382.45h1.5M143.89 384.77h1.5M145.68 385.66h1.5M137.28 386.55h1.5M133.71 391.36h1.5M133.17 394.93h1.5M139.42 393.68h1.5M142.64 394.57h1.5M148.36 391.36h1.5M148.71 394.57h1.5M166.22 376.89h1.5M170.33 377.78h1.5M171.58 376.36h1.5M171.04 382.24h1.5M158.54 386.70h1.5M149.25 387.59h1.5M159.08 397.75h1.5M166.76 395.97h1.5M172.47 398.82h1.5M175.15 398.82h1.5M207.31 378.67h1.5M209.63 384.02h1.5M209.09 384.91h1.5M200.16 391.16h1.5M207.31 397.75h1.5M211.42 397.04h1.5M209.09 408.98h1.5M193.91 416.12h1.5M204.99 417.90h1.5M206.42 419.68h1.5M211.77 421.47h1.5M153.52 404.66h1.5M149.64 405.83h1.5M150.65 408.70h1.5M156.86 407.77h1.5M164.40 407.77h1.5M166.49 406.99h1.5M171.93 406.83h1.5M171.93 409.71h1.5M176.82 405.05h1.5M184.05 403.26h1.5M185.91 405.83h1.5M188.47 404.27h1.5M184.20 409.71h1.5M151.19 414.14h1.5M153.91 413.59h1.5M155.08 412.43h1.5M158.73 415.15h1.5M166.18 414.14h1.5M167.50 413.36h1.5M171.62 414.14h1.5M163.08 416.93h1.5M160.51 418.80h1.5M165.95 417.86h1.5M174.73 418.02h1.5M164.16 420.58h1.5M179.15 420.58h1.5M149.64 420.58h1.5M70.11 411.69h1.5M72.97 414.72h1.5M76.01 414.19h1.5M82.62 411.69h1.5M83.15 438.79h1.5M74.76 441.47h1.5M116.20 437.01h1.5M191.23 423.78h1.5M198.38 425.92h1.5M208.20 429.49h1.5M209.09 431.81h1.5M214.45 428.24h1.5M235.00 427.71h1.5M192.12 432.70h1.5M199.27 432.70h1.5M202.84 437.16h1.5M210.88 438.05h1.5M212.13 439.83h1.5M192.12 438.05h1.5M195.70 444.29h1.5M193.91 446.07h1.5M208.20 444.82h1.5M202.48 448.39h1.5M201.06 450.88h1.5M211.77 449.64h1.5M217.13 449.64h1.5M189.44 451.42h1.5M190.34 453.74h1.5M196.59 455.88h1.5M201.06 454.98h1.5M206.42 454.09h1.5M213.56 457.66h1.5M194.80 460.33h1.5M198.38 462.12h1.5M208.20 459.44h1.5M210.88 462.12h1.5M202.84 464.79h1.5M208.20 465.68h1.5M217.13 464.79h1.5M218.92 467.47h1.5M240.36 459.09h1.5M191.23 465.68h1.5M193.91 466.57h1.5M60.33 466.26h1.5M65.36 462.63h1.5M67.04 462.63h1.5M64.24 471.84h1.5M66.34 473.80h1.5M68.15 473.80h1.5M68.43 477.43h1.5M78.92 473.80h1.5M76.12 476.59h1.5M77.94 477.43h1.5M84.51 468.21h1.5M83.53 471.01h1.5M88.29 475.61h1.5M90.52 475.61h1.5M98.49 476.59h1.5M103.11 467.23h1.5M104.08 474.64h1.5M106.18 477.43h1.5M109.26 466.82h1.5M110.10 464.86h1.5M109.68 476.59h1.5M110.38 478.41h1.5M114.57 478.41h1.5M117.37 473.80h1.5M119.04 473.80h1.5M118.76 478.41h1.5M122.96 471.01h1.5M124.08 469.05h1.5M123.66 448.10h1.5M122.96 457.46h1.5M122.26 477.99h1.5M128.82 397.86h1.5M132.03 396.70h1.5M132.61 397.17h1.5M134.65 396.47h1.5M148.63 396.29h1.5M131.44 401.53h1.5M142.92 403.28h1.5M136.51 405.61h1.5M146.88 406.02h1.5M131.04 409.40h1.5M137.27 409.69h1.5M142.92 409.28h1.5M144.26 408.93h1.5M148.16 410.56h1.5M139.77 414.35h1.5M134.94 415.22h1.5M144.26 413.77h1.5M142.69 415.34h1.5M132.03 416.39h1.5M131.15 416.97h1.5M136.10 417.84h1.5M138.14 416.97h1.5M147.58 416.85h1.5M131.04 420.46h1.5M135.70 421.62h1.5M136.10 422.61h1.5M138.43 421.62h1.5M148.16 421.33h1.5M149.09 420.46h1.5M143.68 424.36h1.5M136.40 424.53h1.5M138.14 425.29h1.5M149.21 425.52h1.5M137.68 427.16h1.5M140.01 427.16h1.5M146.88 427.74h1.5M139.77 429.78h1.5M145.02 429.78h1.5M148.05 429.49h1.5M149.09 430.07h1.5M133.19 431.52h1.5M136.86 431.52h1.5M138.61 431.23h1.5M139.89 432.69h1.5M143.27 432.86h1.5M144.08 431.52h1.5M147.17 432.51h1.5M123.70 433.45h1.5M132.03 434.44h1.5M133.19 435.02h1.5M136.10 435.19h1.5M141.64 434.44h1.5M148.16 434.61h1.5M147.46 435.89h1.5M129.70 435.60h1.5M130.28 437.35h1.5M128.12 438.81h1.5M124.86 439.68h1.5M134.76 437.93h1.5M138.14 437.93h1.5M141.06 437.93h1.5M145.60 437.93h1.5M146.76 437.35h1.5M139.02 439.68h1.5M141.35 439.39h1.5M144.43 440.55h1.5M145.72 439.39h1.5M142.22 441.43h1.5M133.48 441.72h1.5M136.69 441.72h1.5" stroke="#00f" stroke-width="1.5" fill="none"/>
<line x1="57.55" y1="185.00" x2="212.00" y2="191.17" stroke="#f00" stroke-width="3.7" stroke-dasharray="3.8 4.55"/>
<line x1="324.10" y1="182.77" x2="435.60" y2="191.11" stroke="#f00" stroke-width="3.5" stroke-dasharray="3.9 4.5"/>
<line x1="59.20" y1="484.01" x2="89.59" y2="483.08" stroke="#f00" stroke-width="3.8" stroke-dasharray="5 2.5"/>
<line x1="89.59" y1="483.08" x2="241.40" y2="478.53" stroke="#f00" stroke-width="3.8"/>
</svg></body></html>
